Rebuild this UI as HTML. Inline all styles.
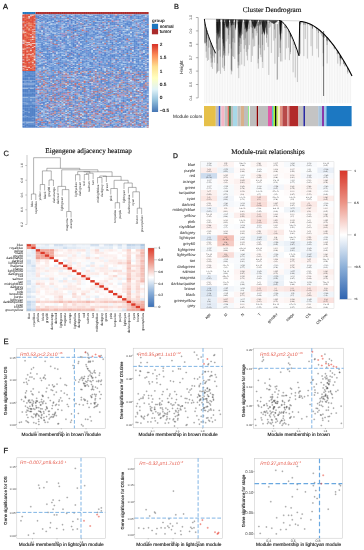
<!DOCTYPE html>
<html><head><meta charset="utf-8"><title>WGCNA figure</title>
<style>
html,body{margin:0;padding:0;background:#fff;width:364px;height:550px;overflow:hidden}
svg{display:block}
</style></head>
<body>
<svg width="364" height="550" viewBox="0 0 364 550" font-family="'Liberation Sans', Arial, sans-serif" text-rendering="geometricPrecision">
<defs><filter id="soft" x="0" y="0" width="364" height="550" filterUnits="userSpaceOnUse"><feGaussianBlur stdDeviation="0.3"/></filter></defs>
<g filter="url(#soft)">
<rect width="364" height="550" fill="#fff"/>
<text x="3.1" y="8.7" font-size="7.4" fill="#1a1a1a" stroke="#1a1a1a" stroke-width="0.35">A</text>
<text x="174.1" y="8.7" font-size="7.4" fill="#1a1a1a" stroke="#1a1a1a" stroke-width="0.2">B</text>
<text x="3.5" y="155.9" font-size="7.6" fill="#1a1a1a" stroke="#1a1a1a" stroke-width="0.2">C</text>
<text x="172.9" y="157.9" font-size="6.8" fill="#1a1a1a" stroke="#1a1a1a" stroke-width="0.25">D</text>
<text x="3.6" y="343.8" font-size="7.6" fill="#1a1a1a" stroke="#1a1a1a" stroke-width="0.25">E</text>
<text x="3.6" y="453.1" font-size="7.4" fill="#1a1a1a" stroke="#1a1a1a" stroke-width="0.35">F</text>
<defs><filter id="blA" x="-2%" y="-2%" width="104%" height="104%"><feGaussianBlur stdDeviation="0.5"/></filter></defs>
<g filter="url(#blA)"><rect x="22.6" y="14.5" width="126" height="113" fill="#6996d7"/><rect x="22.6" y="14.5" width="12.97" height="56.5" fill="#e14b37"/><g transform="translate(22.6 14.5) scale(1.8529 0.7533)" fill="none" stroke-width="1" shape-rendering="crispEdges">
<path stroke="#f5bea5" d="M0.5 0v1M0.5 10v1M0.5 15v1M0.5 17v1M0.5 20v1M0.5 22v3M0.5 46v1M0.5 49v1M0.5 53v2M0.5 57v1M0.5 59v1M0.5 69v1M0.5 71v1M1.5 14v1M1.5 19v1M1.5 24v1M1.5 37v1M1.5 39v1M1.5 41v1M1.5 56v1M1.5 70v1M1.5 73v1M2.5 17v1M2.5 43v1M2.5 55v1M2.5 70v1M2.5 72v2M3.5 3v2M3.5 14v1M3.5 18v1M3.5 59v1M3.5 65v1M3.5 68v1M4.5 14v1M4.5 17v1M4.5 33v1M4.5 38v2M4.5 49v1M4.5 52v1M4.5 71v1M5.5 0v2M5.5 15v1M5.5 22v1M5.5 25v1M5.5 32v1M5.5 36v1M5.5 40v1M5.5 55v1M5.5 60v1M5.5 68v1M5.5 73v1M6.5 0v1M6.5 5v1M6.5 28v1M6.5 30v1M6.5 54v2M6.5 58v1M6.5 65v2M6.5 68v1M6.5 73v1"/>
<path stroke="#e14b37" d="M0.5 1v2M0.5 4v5M0.5 12v3M0.5 16v1M0.5 18v2M0.5 26v7M0.5 35v1M0.5 39v5M0.5 47v1M0.5 50v1M0.5 55v2M0.5 58v1M0.5 61v2M0.5 65v3M0.5 70v1M0.5 74v1M1.5 0v4M1.5 5v1M1.5 7v3M1.5 11v2M1.5 16v3M1.5 20v3M1.5 25v2M1.5 30v2M1.5 33v2M1.5 38v1M1.5 40v1M1.5 42v2M1.5 46v10M1.5 57v7M1.5 66v2M1.5 69v1M1.5 71v2M1.5 74v1M2.5 1v2M2.5 4v1M2.5 6v3M2.5 10v1M2.5 13v3M2.5 20v3M2.5 24v1M2.5 26v3M2.5 32v5M2.5 38v1M2.5 41v2M2.5 45v3M2.5 49v1M2.5 51v2M2.5 54v1M2.5 56v1M2.5 59v1M2.5 61v9M2.5 71v1M2.5 74v1M3.5 0v2M3.5 6v4M3.5 15v1M3.5 17v1M3.5 19v1M3.5 22v3M3.5 27v3M3.5 31v2M3.5 34v3M3.5 40v3M3.5 45v3M3.5 49v2M3.5 53v4M3.5 58v1M3.5 61v2M3.5 64v1M3.5 66v2M3.5 69v1M3.5 71v4M4.5 3v4M4.5 8v3M4.5 16v1M4.5 18v1M4.5 20v1M4.5 22v4M4.5 28v2M4.5 31v2M4.5 36v2M4.5 41v4M4.5 48v1M4.5 50v2M4.5 54v1M4.5 57v5M4.5 64v3M4.5 68v3M4.5 72v3M5.5 2v10M5.5 13v1M5.5 16v4M5.5 21v1M5.5 26v1M5.5 28v1M5.5 31v1M5.5 34v2M5.5 37v1M5.5 39v1M5.5 41v2M5.5 44v7M5.5 54v1M5.5 56v2M5.5 59v1M5.5 64v1M5.5 67v1M5.5 69v1M5.5 72v1M5.5 74v1M6.5 2v1M6.5 4v1M6.5 6v2M6.5 10v1M6.5 12v3M6.5 18v1M6.5 20v2M6.5 27v1M6.5 31v1M6.5 34v2M6.5 37v1M6.5 39v3M6.5 43v4M6.5 51v1M6.5 53v1M6.5 57v1M6.5 61v4M6.5 70v3M6.5 74v1"/>
<path stroke="#f5f0eb" d="M0.5 3v1M0.5 34v1M0.5 36v1M0.5 38v1M0.5 45v1M0.5 52v1M0.5 63v1M0.5 68v1M1.5 23v1M1.5 27v1M1.5 35v1M1.5 45v1M1.5 68v1M2.5 37v1M2.5 40v1M2.5 48v1M2.5 53v1M2.5 57v1M2.5 60v1M3.5 2v1M3.5 11v1M3.5 20v1M3.5 37v1M3.5 39v1M3.5 52v1M3.5 70v1M4.5 1v1M4.5 26v1M4.5 40v1M4.5 47v1M4.5 53v1M5.5 20v1M5.5 29v2M5.5 33v1M5.5 38v1M5.5 43v1M5.5 51v1M5.5 53v1M5.5 63v1M6.5 11v1M6.5 16v1M6.5 19v1M6.5 22v1M6.5 38v1M6.5 42v1M6.5 56v1M6.5 59v2"/>
<path stroke="#c8a0b4" d="M0.5 9v1M0.5 21v1M0.5 37v1M0.5 60v1M0.5 72v1M1.5 13v1M1.5 15v1M2.5 12v1M2.5 39v1M2.5 44v1M3.5 5v1M3.5 43v1M3.5 63v1M4.5 0v1M4.5 2v1M4.5 30v1M4.5 35v1M4.5 45v1M5.5 23v1M5.5 27v1M5.5 65v1M5.5 70v1M6.5 9v1M6.5 26v1"/>
<path stroke="#eb7855" d="M0.5 11v1M0.5 25v1M0.5 33v1M0.5 44v1M0.5 48v1M0.5 51v1M0.5 64v1M0.5 73v1M1.5 4v1M1.5 6v1M1.5 10v1M1.5 28v2M1.5 32v1M1.5 36v1M1.5 44v1M1.5 64v2M2.5 0v1M2.5 3v1M2.5 5v1M2.5 9v1M2.5 11v1M2.5 16v1M2.5 18v2M2.5 23v1M2.5 25v1M2.5 29v3M2.5 50v1M2.5 58v1M3.5 10v1M3.5 12v2M3.5 16v1M3.5 21v1M3.5 25v2M3.5 30v1M3.5 33v1M3.5 38v1M3.5 44v1M3.5 48v1M3.5 51v1M3.5 57v1M3.5 60v1M4.5 7v1M4.5 11v3M4.5 15v1M4.5 19v1M4.5 21v1M4.5 27v1M4.5 34v1M4.5 46v1M4.5 55v2M4.5 62v2M4.5 67v1M5.5 12v1M5.5 14v1M5.5 24v1M5.5 52v1M5.5 58v1M5.5 61v2M5.5 66v1M5.5 71v1M6.5 1v1M6.5 3v1M6.5 8v1M6.5 15v1M6.5 17v1M6.5 23v3M6.5 29v1M6.5 32v2M6.5 36v1M6.5 47v4M6.5 52v1M6.5 67v1M6.5 69v1"/>
<path stroke="#4e7ec6" d="M0.5 75v2M0.5 80v1M0.5 82v1M0.5 84v3M0.5 88v3M0.5 93v1M0.5 95v2M0.5 99v4M0.5 105v4M0.5 115v1M0.5 118v1M0.5 120v3M0.5 124v2M0.5 128v2M0.5 131v4M0.5 137v5M0.5 145v2M0.5 148v2M1.5 75v3M1.5 80v3M1.5 84v3M1.5 88v1M1.5 94v3M1.5 99v4M1.5 105v4M1.5 115v1M1.5 120v3M1.5 124v4M1.5 129v5M1.5 137v5M1.5 146v4M2.5 76v1M2.5 78v1M2.5 80v3M2.5 84v3M2.5 88v2M2.5 94v3M2.5 99v5M2.5 105v4M2.5 115v1M2.5 120v3M2.5 124v4M2.5 129v6M2.5 136v6M2.5 145v3M2.5 149v1M3.5 75v2M3.5 78v5M3.5 84v1M3.5 86v1M3.5 89v1M3.5 94v3M3.5 98v3M3.5 102v1M3.5 105v4M3.5 114v3M3.5 120v3M3.5 124v1M3.5 126v3M3.5 130v5M3.5 137v5M3.5 146v4M4.5 75v2M4.5 78v1M4.5 80v3M4.5 84v3M4.5 89v1M4.5 94v2M4.5 99v4M4.5 105v4M4.5 115v2M4.5 118v1M4.5 120v2M4.5 124v12M4.5 137v5M4.5 146v4M5.5 75v2M5.5 78v1M5.5 81v2M5.5 84v3M5.5 88v2M5.5 94v3M5.5 99v4M5.5 104v4M5.5 115v1M5.5 119v4M5.5 124v11M5.5 137v2M5.5 140v2M5.5 146v4M6.5 75v2M6.5 78v1M6.5 80v3M6.5 85v2M6.5 88v2M6.5 93v4M6.5 98v5M6.5 105v4M6.5 115v1M6.5 120v3M6.5 125v10M6.5 137v5M6.5 143v1M6.5 146v4"/>
<path stroke="#6290d0" d="M0.5 77v3M0.5 83v1M0.5 94v1M0.5 103v2M0.5 109v1M0.5 111v4M0.5 117v1M0.5 119v1M0.5 123v1M0.5 126v1M0.5 136v1M0.5 144v1M1.5 78v2M1.5 83v1M1.5 90v1M1.5 103v2M1.5 109v1M1.5 111v4M1.5 117v1M1.5 119v1M1.5 123v1M1.5 135v2M1.5 143v3M2.5 75v1M2.5 77v1M2.5 79v1M2.5 83v1M2.5 90v1M2.5 92v1M2.5 104v1M2.5 109v1M2.5 111v4M2.5 116v2M2.5 119v1M2.5 123v1M2.5 128v1M2.5 148v1M3.5 77v1M3.5 88v1M3.5 90v1M3.5 103v2M3.5 109v5M3.5 117v3M3.5 123v1M3.5 125v1M3.5 135v2M3.5 144v2M4.5 77v1M4.5 79v1M4.5 83v1M4.5 90v1M4.5 96v1M4.5 103v2M4.5 109v1M4.5 111v2M4.5 114v1M4.5 117v1M4.5 119v1M4.5 123v1M4.5 136v1M4.5 144v2M5.5 77v1M5.5 79v2M5.5 83v1M5.5 90v1M5.5 103v1M5.5 108v2M5.5 111v4M5.5 117v1M5.5 123v1M5.5 136v1M5.5 139v1M5.5 144v2M6.5 77v1M6.5 79v1M6.5 83v2M6.5 90v1M6.5 103v2M6.5 109v1M6.5 111v4M6.5 117v1M6.5 119v1M6.5 123v2M6.5 135v2M6.5 144v2"/>
<path stroke="#84a6d8" d="M0.5 81v1M0.5 87v1M0.5 91v2M0.5 97v1M0.5 116v1M0.5 127v1M0.5 130v1M0.5 135v1M0.5 142v1M0.5 147v1M1.5 87v1M1.5 89v1M1.5 91v3M1.5 97v1M1.5 116v1M1.5 118v1M1.5 128v1M1.5 134v1M1.5 142v1M2.5 87v1M2.5 91v1M2.5 93v1M2.5 97v1M2.5 135v1M2.5 142v1M2.5 144v1M3.5 83v1M3.5 85v1M3.5 87v1M3.5 91v3M3.5 97v1M3.5 101v1M3.5 142v1M4.5 87v1M4.5 91v3M4.5 97v1M4.5 122v1M4.5 142v1M5.5 87v1M5.5 91v3M5.5 97v1M5.5 116v1M5.5 118v1M5.5 135v1M5.5 142v1M6.5 87v1M6.5 91v2M6.5 97v1M6.5 116v1M6.5 118v1M6.5 142v1"/>
<path stroke="#a8c0e0" d="M0.5 98v1M0.5 110v1M0.5 143v1M1.5 98v1M1.5 110v1M2.5 98v1M2.5 110v1M2.5 118v1M2.5 143v1M3.5 129v1M3.5 143v1M4.5 88v1M4.5 98v1M4.5 110v1M4.5 113v1M4.5 143v1M5.5 98v1M5.5 110v1M5.5 143v1M6.5 110v1"/>
<path stroke="#6996d7" d="M7.5 0v2M7.5 3v1M7.5 10v1M7.5 14v1M7.5 19v1M7.5 21v1M7.5 24v1M7.5 26v1M7.5 29v1M7.5 32v2M7.5 35v1M7.5 44v2M7.5 48v1M7.5 53v2M7.5 56v1M7.5 62v2M7.5 66v1M7.5 70v1M7.5 72v2M7.5 79v1M7.5 83v1M7.5 87v1M7.5 89v2M7.5 92v2M7.5 95v3M7.5 103v1M7.5 111v1M7.5 113v1M7.5 118v1M7.5 122v1M7.5 124v4M7.5 131v3M7.5 135v1M7.5 138v1M8.5 7v1M8.5 21v1M8.5 23v1M8.5 25v1M8.5 29v1M8.5 31v1M8.5 33v3M8.5 39v2M8.5 43v2M8.5 53v1M8.5 55v2M8.5 61v1M8.5 63v3M8.5 68v3M8.5 72v1M8.5 74v1M8.5 76v1M8.5 81v3M8.5 92v1M8.5 108v1M8.5 116v1M8.5 120v5M8.5 134v1M8.5 136v1M8.5 141v1M9.5 17v1M9.5 27v1M9.5 31v1M9.5 33v3M9.5 39v1M9.5 42v2M9.5 47v2M9.5 53v1M9.5 58v2M9.5 61v1M9.5 66v1M9.5 69v1M9.5 78v1M9.5 83v1M9.5 90v1M9.5 95v1M9.5 98v1M9.5 102v1M9.5 113v1M9.5 115v1M9.5 120v1M9.5 126v1M9.5 134v1M9.5 136v1M9.5 141v1M9.5 149v1M10.5 4v1M10.5 8v1M10.5 12v2M10.5 20v1M10.5 34v1M10.5 38v1M10.5 41v1M10.5 56v1M10.5 61v2M10.5 64v1M10.5 70v1M10.5 74v1M10.5 76v1M10.5 78v1M10.5 81v1M10.5 90v2M10.5 93v1M10.5 98v1M10.5 102v1M10.5 106v1M10.5 112v1M10.5 125v1M10.5 134v1M10.5 138v1M10.5 146v1M10.5 149v1M11.5 1v1M11.5 4v3M11.5 11v1M11.5 13v1M11.5 18v4M11.5 35v2M11.5 43v2M11.5 47v1M11.5 52v1M11.5 57v2M11.5 60v2M11.5 64v1M11.5 66v2M11.5 74v1M11.5 77v2M11.5 80v1M11.5 83v1M11.5 96v1M11.5 98v1M11.5 102v1M11.5 104v1M11.5 106v2M11.5 113v1M11.5 119v4M11.5 135v3M11.5 139v1M11.5 142v1M11.5 144v1M11.5 147v1M11.5 149v1M12.5 4v1M12.5 6v2M12.5 14v2M12.5 20v1M12.5 24v1M12.5 33v1M12.5 35v2M12.5 40v3M12.5 44v5M12.5 51v2M12.5 54v1M12.5 56v1M12.5 60v1M12.5 65v1M12.5 69v2M12.5 73v1M12.5 78v2M12.5 81v1M12.5 86v2M12.5 93v1M12.5 96v1M12.5 100v1M12.5 110v1M12.5 112v1M12.5 119v1M12.5 123v1M12.5 125v1M12.5 128v1M12.5 135v1M12.5 140v1M13.5 4v1M13.5 6v1M13.5 12v3M13.5 19v1M13.5 25v1M13.5 28v1M13.5 31v1M13.5 34v1M13.5 37v1M13.5 39v1M13.5 43v1M13.5 46v2M13.5 49v3M13.5 55v1M13.5 58v1M13.5 62v1M13.5 69v1M13.5 73v1M13.5 75v1M13.5 80v2M13.5 84v1M13.5 87v2M13.5 95v1M13.5 97v1M13.5 100v2M13.5 105v1M13.5 109v1M13.5 111v1M13.5 113v2M13.5 117v2M13.5 124v1M13.5 128v2M13.5 132v1M13.5 134v1M13.5 145v2M13.5 148v1M14.5 2v1M14.5 5v1M14.5 7v1M14.5 11v1M14.5 24v1M14.5 27v1M14.5 30v1M14.5 36v1M14.5 39v2M14.5 48v1M14.5 51v1M14.5 54v2M14.5 57v1M14.5 63v2M14.5 66v2M14.5 70v2M14.5 73v1M14.5 82v2M14.5 86v1M14.5 89v1M14.5 91v1M14.5 93v1M14.5 105v1M14.5 114v2M14.5 120v1M14.5 129v1M14.5 132v2M14.5 135v1M14.5 137v1M14.5 148v1M15.5 3v1M15.5 7v1M15.5 14v2M15.5 17v4M15.5 25v4M15.5 31v2M15.5 43v2M15.5 46v1M15.5 48v2M15.5 54v1M15.5 57v1M15.5 59v4M15.5 66v1M15.5 71v1M15.5 73v3M15.5 81v1M15.5 83v1M15.5 93v1M15.5 101v2M15.5 106v1M15.5 108v1M15.5 117v1M15.5 122v1M15.5 134v1M15.5 136v1M15.5 145v1M15.5 147v1M16.5 0v1M16.5 5v1M16.5 7v1M16.5 14v2M16.5 18v1M16.5 22v1M16.5 28v5M16.5 34v2M16.5 37v1M16.5 44v1M16.5 46v2M16.5 51v1M16.5 57v2M16.5 63v1M16.5 66v1M16.5 68v3M16.5 72v2M16.5 76v4M16.5 83v2M16.5 86v1M16.5 89v2M16.5 94v1M16.5 101v1M16.5 103v1M16.5 108v2M16.5 112v1M16.5 115v1M16.5 127v1M16.5 135v1M16.5 138v1M16.5 140v1M16.5 142v1M16.5 145v1M16.5 148v1M17.5 2v1M17.5 7v1M17.5 14v2M17.5 17v1M17.5 20v1M17.5 26v1M17.5 29v1M17.5 31v1M17.5 35v1M17.5 38v1M17.5 46v2M17.5 50v1M17.5 60v1M17.5 62v1M17.5 64v2M17.5 71v1M17.5 74v2M17.5 79v5M17.5 87v1M17.5 94v1M17.5 97v2M17.5 104v1M17.5 109v1M17.5 115v1M17.5 127v1M17.5 133v1M17.5 138v2M17.5 143v1M17.5 148v1M18.5 3v1M18.5 5v2M18.5 8v1M18.5 18v4M18.5 25v2M18.5 31v3M18.5 35v3M18.5 45v1M18.5 54v1M18.5 56v2M18.5 62v1M18.5 68v1M18.5 70v2M18.5 74v1M18.5 77v1M18.5 79v1M18.5 85v1M18.5 92v1M18.5 101v1M18.5 106v1M18.5 108v1M18.5 111v1M18.5 113v1M18.5 116v1M18.5 122v1M18.5 124v4M18.5 134v3M18.5 142v1M18.5 145v1M18.5 147v2M19.5 0v2M19.5 4v3M19.5 11v1M19.5 13v1M19.5 16v3M19.5 23v2M19.5 26v2M19.5 29v3M19.5 35v1M19.5 38v1M19.5 48v1M19.5 52v1M19.5 55v1M19.5 61v2M19.5 67v1M19.5 70v3M19.5 74v1M19.5 78v1M19.5 82v1M19.5 86v1M19.5 92v1M19.5 94v1M19.5 96v2M19.5 99v1M19.5 103v1M19.5 105v1M19.5 108v1M19.5 121v1M19.5 131v1M19.5 133v1M19.5 141v2M19.5 144v1M19.5 148v1M20.5 3v1M20.5 5v1M20.5 8v1M20.5 10v1M20.5 12v1M20.5 20v3M20.5 24v1M20.5 27v1M20.5 30v1M20.5 41v1M20.5 45v2M20.5 51v1M20.5 53v1M20.5 55v1M20.5 58v1M20.5 60v1M20.5 64v3M20.5 71v1M20.5 74v1M20.5 86v1M20.5 88v1M20.5 91v1M20.5 101v1M20.5 104v1M20.5 106v1M20.5 108v1M20.5 112v1M20.5 117v1M20.5 124v1M20.5 130v2M20.5 133v1M20.5 137v1M20.5 141v1M21.5 7v1M21.5 20v1M21.5 24v1M21.5 26v1M21.5 35v1M21.5 37v1M21.5 41v1M21.5 47v1M21.5 51v1M21.5 56v1M21.5 60v1M21.5 62v2M21.5 65v1M21.5 68v1M21.5 72v1M21.5 80v1M21.5 82v2M21.5 87v1M21.5 99v1M21.5 101v2M21.5 107v1M21.5 113v1M21.5 115v1M21.5 118v1M21.5 123v1M21.5 129v1M21.5 135v1M21.5 143v1M21.5 146v1M21.5 148v1M22.5 0v1M22.5 5v1M22.5 11v1M22.5 14v1M22.5 16v1M22.5 21v1M22.5 23v2M22.5 28v1M22.5 31v2M22.5 35v2M22.5 41v1M22.5 45v1M22.5 48v2M22.5 53v1M22.5 55v2M22.5 62v2M22.5 68v1M22.5 71v1M22.5 74v1M22.5 80v1M22.5 83v2M22.5 86v1M22.5 94v1M22.5 96v1M22.5 101v1M22.5 103v1M22.5 121v1M22.5 125v1M22.5 127v1M22.5 132v1M22.5 136v1M22.5 140v1M22.5 142v1M22.5 148v1M23.5 0v3M23.5 8v1M23.5 12v2M23.5 18v2M23.5 26v1M23.5 29v1M23.5 31v1M23.5 34v2M23.5 37v2M23.5 41v2M23.5 47v1M23.5 62v1M23.5 66v1M23.5 69v1M23.5 72v1M23.5 88v1M23.5 94v1M23.5 96v1M23.5 103v1M23.5 112v1M23.5 118v1M23.5 120v1M23.5 125v1M23.5 129v1M23.5 134v1M23.5 137v1M23.5 145v1M23.5 147v2M24.5 26v1M24.5 33v1M24.5 35v1M24.5 41v3M24.5 49v1M24.5 53v1M24.5 56v2M24.5 63v2M24.5 76v2M24.5 89v1M24.5 93v1M24.5 95v4M24.5 100v1M24.5 108v3M24.5 112v1M24.5 115v1M24.5 123v1M24.5 125v1M24.5 133v1M24.5 139v1M24.5 142v1M24.5 146v1M25.5 13v1M25.5 17v1M25.5 20v1M25.5 27v2M25.5 30v1M25.5 34v1M25.5 54v1M25.5 56v1M25.5 63v1M25.5 68v2M25.5 73v2M25.5 76v1M25.5 79v2M25.5 87v1M25.5 89v1M25.5 91v1M25.5 97v2M25.5 101v1M25.5 106v1M25.5 115v1M25.5 120v1M25.5 125v2M25.5 129v1M25.5 141v1M26.5 0v1M26.5 9v1M26.5 15v1M26.5 20v2M26.5 23v1M26.5 30v1M26.5 33v3M26.5 38v1M26.5 44v2M26.5 53v1M26.5 60v2M26.5 68v1M26.5 73v2M26.5 77v1M26.5 84v1M26.5 96v3M26.5 115v2M26.5 119v1M26.5 122v1M26.5 124v1M26.5 128v1M26.5 130v1M26.5 133v2M26.5 139v1M26.5 141v1M26.5 147v1M27.5 7v1M27.5 16v1M27.5 33v5M27.5 48v2M27.5 52v1M27.5 56v1M27.5 70v1M27.5 76v3M27.5 83v2M27.5 90v1M27.5 92v1M27.5 94v1M27.5 100v2M27.5 116v1M27.5 122v1M27.5 124v1M27.5 126v2M27.5 131v2M27.5 137v1M27.5 139v1M27.5 146v1M28.5 0v1M28.5 2v1M28.5 6v1M28.5 12v1M28.5 17v2M28.5 27v1M28.5 30v2M28.5 39v1M28.5 42v1M28.5 46v1M28.5 49v1M28.5 51v1M28.5 54v1M28.5 60v1M28.5 64v4M28.5 71v1M28.5 75v1M28.5 82v1M28.5 84v1M28.5 88v1M28.5 90v1M28.5 102v2M28.5 108v2M28.5 111v1M28.5 114v1M28.5 120v1M28.5 123v1M28.5 129v1M28.5 137v1M28.5 141v2M28.5 149v1M29.5 1v1M29.5 3v1M29.5 6v1M29.5 13v2M29.5 18v2M29.5 22v2M29.5 28v1M29.5 32v1M29.5 35v1M29.5 39v1M29.5 43v1M29.5 45v1M29.5 49v1M29.5 53v3M29.5 58v1M29.5 63v1M29.5 78v1M29.5 84v1M29.5 87v1M29.5 89v1M29.5 92v1M29.5 94v1M29.5 99v1M29.5 103v1M29.5 115v4M29.5 120v1M29.5 127v1M29.5 130v3M29.5 138v1M29.5 143v1M29.5 146v1M30.5 2v4M30.5 7v2M30.5 11v3M30.5 17v3M30.5 21v1M30.5 23v1M30.5 39v1M30.5 43v1M30.5 47v1M30.5 65v1M30.5 67v2M30.5 77v1M30.5 83v1M30.5 86v1M30.5 89v2M30.5 97v1M30.5 105v1M30.5 109v1M30.5 114v3M30.5 123v1M30.5 125v1M30.5 130v1M30.5 140v1M30.5 145v1M30.5 148v1M31.5 4v1M31.5 9v1M31.5 13v2M31.5 17v1M31.5 19v1M31.5 21v1M31.5 28v1M31.5 32v1M31.5 36v1M31.5 41v2M31.5 45v1M31.5 52v2M31.5 56v1M31.5 66v1M31.5 68v1M31.5 82v1M31.5 87v2M31.5 94v1M31.5 100v1M31.5 102v1M31.5 106v1M31.5 111v1M31.5 117v1M31.5 119v1M31.5 121v1M31.5 138v1M31.5 140v1M31.5 143v1M32.5 5v2M32.5 8v1M32.5 17v1M32.5 26v2M32.5 36v5M32.5 43v1M32.5 50v3M32.5 57v2M32.5 64v1M32.5 67v3M32.5 73v2M32.5 77v1M32.5 87v1M32.5 94v1M32.5 99v2M32.5 105v2M32.5 108v2M32.5 111v1M32.5 124v1M32.5 139v1M32.5 143v1M32.5 145v1M32.5 147v1M32.5 149v1M33.5 9v1M33.5 13v1M33.5 16v1M33.5 24v1M33.5 26v5M33.5 34v3M33.5 39v1M33.5 44v1M33.5 47v4M33.5 53v1M33.5 56v4M33.5 71v1M33.5 74v1M33.5 78v2M33.5 84v2M33.5 91v3M33.5 97v1M33.5 100v1M33.5 103v1M33.5 106v1M33.5 109v2M33.5 112v1M33.5 114v2M33.5 117v1M33.5 119v1M33.5 126v1M33.5 130v1M33.5 133v1M33.5 135v1M33.5 141v3M33.5 147v1M33.5 149v1M34.5 1v1M34.5 7v1M34.5 10v1M34.5 15v2M34.5 21v1M34.5 24v1M34.5 29v4M34.5 34v1M34.5 37v3M34.5 43v2M34.5 46v2M34.5 50v1M34.5 53v3M34.5 57v2M34.5 60v2M34.5 65v2M34.5 69v1M34.5 71v1M34.5 84v1M34.5 90v1M34.5 96v1M34.5 102v2M34.5 107v2M34.5 118v1M34.5 125v1M34.5 132v1M34.5 134v1M34.5 140v2M34.5 146v1M34.5 148v1M35.5 5v1M35.5 10v1M35.5 12v1M35.5 15v1M35.5 20v1M35.5 24v3M35.5 31v1M35.5 33v1M35.5 36v2M35.5 40v2M35.5 45v1M35.5 50v3M35.5 54v1M35.5 59v1M35.5 64v1M35.5 69v1M35.5 74v1M35.5 77v1M35.5 79v1M35.5 86v1M35.5 98v1M35.5 100v1M35.5 103v1M35.5 115v1M35.5 117v1M35.5 120v2M35.5 123v1M35.5 127v1M35.5 129v1M35.5 137v1M35.5 139v2M35.5 144v2M36.5 0v1M36.5 2v1M36.5 4v3M36.5 8v1M36.5 11v1M36.5 18v1M36.5 20v1M36.5 28v2M36.5 31v1M36.5 34v1M36.5 36v2M36.5 45v1M36.5 47v3M36.5 51v2M36.5 54v2M36.5 58v1M36.5 61v1M36.5 66v1M36.5 69v1M36.5 73v2M36.5 77v1M36.5 79v1M36.5 81v1M36.5 83v1M36.5 89v1M36.5 92v1M36.5 97v1M36.5 104v3M36.5 112v1M36.5 120v1M36.5 123v2M36.5 126v2M36.5 132v1M36.5 137v2M36.5 140v1M36.5 145v1M37.5 2v1M37.5 9v1M37.5 14v1M37.5 20v3M37.5 26v3M37.5 34v1M37.5 44v3M37.5 53v1M37.5 55v1M37.5 61v1M37.5 63v1M37.5 65v1M37.5 67v2M37.5 71v1M37.5 75v1M37.5 81v2M37.5 84v1M37.5 97v2M37.5 108v1M37.5 110v1M37.5 112v1M37.5 119v1M37.5 122v1M37.5 126v1M37.5 132v1M37.5 135v1M37.5 142v1M37.5 145v1M37.5 147v1M38.5 2v3M38.5 6v2M38.5 11v1M38.5 15v1M38.5 23v1M38.5 27v4M38.5 48v3M38.5 53v2M38.5 56v1M38.5 58v1M38.5 61v2M38.5 66v1M38.5 68v1M38.5 72v1M38.5 79v3M38.5 85v1M38.5 90v1M38.5 92v2M38.5 100v1M38.5 105v1M38.5 109v1M38.5 112v1M38.5 124v1M38.5 134v1M38.5 137v1M38.5 142v2M38.5 148v1M39.5 4v1M39.5 6v1M39.5 8v1M39.5 12v1M39.5 23v2M39.5 26v1M39.5 31v1M39.5 34v3M39.5 39v2M39.5 43v2M39.5 47v2M39.5 53v1M39.5 56v1M39.5 58v2M39.5 62v1M39.5 68v5M39.5 82v1M39.5 87v1M39.5 92v1M39.5 98v3M39.5 105v1M39.5 110v1M39.5 112v3M39.5 119v3M39.5 123v1M39.5 129v1M39.5 132v1M39.5 134v1M39.5 141v1M39.5 144v1M39.5 148v1M40.5 0v1M40.5 5v1M40.5 10v1M40.5 12v1M40.5 16v2M40.5 21v1M40.5 24v1M40.5 28v1M40.5 32v1M40.5 35v1M40.5 37v1M40.5 39v1M40.5 42v1M40.5 47v2M40.5 50v1M40.5 53v1M40.5 55v1M40.5 59v1M40.5 65v1M40.5 69v1M40.5 73v2M40.5 76v1M40.5 85v1M40.5 87v1M40.5 90v1M40.5 94v1M40.5 98v2M40.5 101v1M40.5 105v1M40.5 108v1M40.5 111v1M40.5 114v1M40.5 116v2M40.5 121v1M40.5 126v1M40.5 135v1M40.5 138v1M40.5 143v1M40.5 148v1M41.5 1v1M41.5 10v1M41.5 12v2M41.5 15v1M41.5 19v1M41.5 31v1M41.5 33v1M41.5 37v1M41.5 39v1M41.5 41v2M41.5 44v1M41.5 48v1M41.5 58v1M41.5 75v1M41.5 78v1M41.5 94v4M41.5 106v2M41.5 109v1M41.5 117v1M41.5 124v1M41.5 145v3M41.5 149v1M42.5 0v3M42.5 7v2M42.5 10v1M42.5 15v3M42.5 25v2M42.5 35v1M42.5 42v1M42.5 48v1M42.5 54v4M42.5 61v1M42.5 64v1M42.5 67v1M42.5 70v1M42.5 73v1M42.5 75v1M42.5 79v1M42.5 81v1M42.5 84v2M42.5 91v2M42.5 94v1M42.5 96v1M42.5 99v1M42.5 101v1M42.5 105v2M42.5 109v1M42.5 115v1M42.5 120v1M42.5 122v1M42.5 126v5M42.5 139v1M42.5 143v2M42.5 147v1M43.5 4v1M43.5 6v1M43.5 13v1M43.5 19v1M43.5 21v1M43.5 27v1M43.5 33v3M43.5 38v1M43.5 42v1M43.5 47v1M43.5 53v1M43.5 56v1M43.5 59v1M43.5 61v4M43.5 67v1M43.5 72v1M43.5 74v1M43.5 76v1M43.5 79v2M43.5 87v1M43.5 91v2M43.5 97v2M43.5 102v1M43.5 104v1M43.5 108v2M43.5 112v1M43.5 121v1M43.5 134v1M43.5 143v1M43.5 145v1M43.5 149v1M44.5 1v1M44.5 3v1M44.5 6v2M44.5 9v1M44.5 14v1M44.5 17v1M44.5 20v1M44.5 26v2M44.5 29v1M44.5 33v3M44.5 37v1M44.5 44v1M44.5 46v1M44.5 55v2M44.5 58v1M44.5 60v1M44.5 64v3M44.5 68v1M44.5 77v1M44.5 82v2M44.5 87v1M44.5 89v2M44.5 101v1M44.5 105v1M44.5 108v1M44.5 110v1M44.5 115v1M44.5 118v1M44.5 120v2M44.5 123v1M44.5 130v1M44.5 135v1M44.5 140v1M44.5 146v1M45.5 2v2M45.5 6v1M45.5 8v1M45.5 10v1M45.5 23v1M45.5 25v1M45.5 34v1M45.5 36v3M45.5 40v1M45.5 42v1M45.5 47v1M45.5 52v1M45.5 56v2M45.5 60v1M45.5 62v2M45.5 66v2M45.5 74v1M45.5 76v1M45.5 80v1M45.5 83v1M45.5 92v1M45.5 98v1M45.5 100v1M45.5 103v1M45.5 106v2M45.5 111v1M45.5 116v1M45.5 118v2M45.5 130v2M45.5 135v2M45.5 142v1M46.5 3v1M46.5 7v1M46.5 10v1M46.5 21v2M46.5 25v1M46.5 28v1M46.5 30v1M46.5 32v2M46.5 37v1M46.5 40v3M46.5 45v1M46.5 56v2M46.5 65v1M46.5 67v3M46.5 71v1M46.5 75v1M46.5 81v1M46.5 87v2M46.5 91v6M46.5 102v1M46.5 104v1M46.5 112v1M46.5 117v1M46.5 126v1M46.5 131v1M46.5 133v1M46.5 136v2M46.5 142v1M47.5 4v1M47.5 10v1M47.5 13v1M47.5 19v2M47.5 22v3M47.5 28v1M47.5 35v2M47.5 41v2M47.5 50v1M47.5 52v2M47.5 55v3M47.5 59v1M47.5 62v5M47.5 69v1M47.5 71v3M47.5 80v3M47.5 84v1M47.5 90v1M47.5 97v1M47.5 99v1M47.5 101v2M47.5 104v2M47.5 112v1M47.5 118v1M47.5 123v1M47.5 135v1M47.5 146v1M48.5 0v2M48.5 4v2M48.5 11v2M48.5 17v1M48.5 20v1M48.5 22v2M48.5 32v1M48.5 40v1M48.5 42v1M48.5 45v2M48.5 48v3M48.5 64v1M48.5 76v2M48.5 90v1M48.5 94v1M48.5 97v1M48.5 100v1M48.5 103v2M48.5 110v1M48.5 115v1M48.5 120v2M48.5 124v1M48.5 127v2M48.5 132v1M48.5 138v2M48.5 142v1M48.5 148v1M49.5 1v1M49.5 3v1M49.5 5v4M49.5 10v1M49.5 12v1M49.5 15v2M49.5 24v1M49.5 26v1M49.5 32v1M49.5 40v1M49.5 42v1M49.5 48v1M49.5 53v1M49.5 55v1M49.5 57v1M49.5 65v1M49.5 67v1M49.5 72v1M49.5 74v2M49.5 79v2M49.5 82v1M49.5 87v1M49.5 89v1M49.5 91v1M49.5 105v1M49.5 111v1M49.5 114v1M49.5 121v1M49.5 126v1M49.5 131v3M49.5 141v1M49.5 145v2M49.5 148v1M50.5 3v1M50.5 5v1M50.5 7v1M50.5 10v1M50.5 19v2M50.5 22v1M50.5 25v1M50.5 33v2M50.5 39v1M50.5 48v1M50.5 54v2M50.5 58v1M50.5 62v1M50.5 65v2M50.5 68v1M50.5 70v2M50.5 74v1M50.5 80v1M50.5 88v2M50.5 91v3M50.5 95v1M50.5 100v1M50.5 104v1M50.5 106v3M50.5 110v1M50.5 112v1M50.5 114v2M50.5 119v1M50.5 126v1M50.5 128v2M50.5 134v1M50.5 137v1M50.5 140v1M50.5 142v1M50.5 144v1M50.5 149v1M51.5 0v2M51.5 6v1M51.5 18v2M51.5 21v1M51.5 25v1M51.5 27v2M51.5 33v2M51.5 36v2M51.5 41v1M51.5 48v1M51.5 50v1M51.5 52v4M51.5 58v3M51.5 64v1M51.5 66v1M51.5 71v1M51.5 88v1M51.5 98v1M51.5 100v1M51.5 105v1M51.5 109v1M51.5 114v2M51.5 127v1M51.5 131v1M51.5 138v1M51.5 145v1M52.5 4v1M52.5 7v2M52.5 10v2M52.5 13v2M52.5 16v1M52.5 18v1M52.5 20v1M52.5 23v2M52.5 31v1M52.5 34v1M52.5 36v1M52.5 38v1M52.5 42v1M52.5 45v2M52.5 56v3M52.5 60v1M52.5 65v3M52.5 72v1M52.5 75v1M52.5 86v1M52.5 89v1M52.5 100v2M52.5 104v1M52.5 112v1M52.5 114v1M52.5 118v1M52.5 124v1M52.5 130v1M52.5 132v1M52.5 134v1M52.5 136v1M52.5 139v1M52.5 148v1M53.5 4v1M53.5 13v1M53.5 18v1M53.5 21v3M53.5 30v2M53.5 34v1M53.5 37v1M53.5 47v2M53.5 50v1M53.5 62v2M53.5 69v1M53.5 71v1M53.5 73v1M53.5 75v1M53.5 79v1M53.5 85v1M53.5 89v1M53.5 91v1M53.5 93v3M53.5 111v1M53.5 113v2M53.5 118v2M53.5 125v1M53.5 130v1M53.5 132v1M53.5 135v1M53.5 140v1M54.5 0v1M54.5 15v1M54.5 24v1M54.5 26v1M54.5 28v1M54.5 30v1M54.5 33v1M54.5 37v1M54.5 39v3M54.5 44v1M54.5 49v4M54.5 55v1M54.5 61v1M54.5 64v1M54.5 67v3M54.5 75v1M54.5 78v1M54.5 83v2M54.5 86v1M54.5 91v2M54.5 99v2M54.5 110v1M54.5 118v1M54.5 122v1M54.5 128v1M54.5 135v1M54.5 143v1M55.5 4v2M55.5 9v1M55.5 11v1M55.5 13v4M55.5 18v1M55.5 21v1M55.5 24v1M55.5 27v1M55.5 32v1M55.5 34v2M55.5 39v1M55.5 51v1M55.5 59v1M55.5 61v1M55.5 65v1M55.5 70v1M55.5 74v1M55.5 79v1M55.5 82v1M55.5 87v1M55.5 93v1M55.5 96v1M55.5 106v1M55.5 110v2M55.5 113v1M55.5 116v1M55.5 118v1M55.5 123v1M55.5 130v1M55.5 140v1M56.5 2v1M56.5 8v3M56.5 16v1M56.5 18v1M56.5 22v1M56.5 24v2M56.5 29v3M56.5 34v1M56.5 37v2M56.5 41v1M56.5 46v1M56.5 48v1M56.5 52v1M56.5 54v1M56.5 64v2M56.5 67v3M56.5 71v1M56.5 79v1M56.5 82v1M56.5 85v1M56.5 97v1M56.5 99v1M56.5 102v2M56.5 114v1M56.5 118v1M56.5 126v1M56.5 133v1M56.5 140v1M56.5 148v1M57.5 12v1M57.5 14v1M57.5 21v4M57.5 27v1M57.5 33v1M57.5 36v1M57.5 41v1M57.5 43v4M57.5 51v1M57.5 56v2M57.5 59v1M57.5 66v2M57.5 75v1M57.5 80v1M57.5 87v1M57.5 90v1M57.5 93v1M57.5 97v3M57.5 105v1M57.5 107v1M57.5 112v1M57.5 114v2M57.5 119v1M57.5 130v1M57.5 132v1M57.5 136v2M57.5 139v2M57.5 144v1M57.5 146v2M57.5 149v1M58.5 5v2M58.5 12v1M58.5 14v2M58.5 19v1M58.5 35v1M58.5 40v2M58.5 44v1M58.5 47v3M58.5 52v1M58.5 54v2M58.5 63v2M58.5 66v2M58.5 70v1M58.5 73v1M58.5 89v1M58.5 91v1M58.5 93v1M58.5 97v3M58.5 111v1M58.5 119v1M58.5 121v1M58.5 128v1M58.5 132v1M58.5 134v1M58.5 139v1M58.5 146v1M58.5 148v1M59.5 1v5M59.5 10v1M59.5 12v1M59.5 15v2M59.5 21v1M59.5 25v2M59.5 28v2M59.5 32v1M59.5 35v1M59.5 38v1M59.5 41v1M59.5 46v1M59.5 52v2M59.5 57v1M59.5 62v1M59.5 65v2M59.5 68v1M59.5 72v1M59.5 81v1M59.5 84v1M59.5 93v1M59.5 95v2M59.5 99v3M59.5 103v1M59.5 107v1M59.5 115v4M59.5 122v2M59.5 128v1M59.5 131v1M59.5 139v2M59.5 146v1M60.5 3v1M60.5 5v1M60.5 8v2M60.5 11v1M60.5 16v2M60.5 21v1M60.5 24v1M60.5 30v1M60.5 37v3M60.5 41v1M60.5 46v1M60.5 48v1M60.5 52v1M60.5 58v1M60.5 65v2M60.5 68v1M60.5 74v2M60.5 78v1M60.5 80v2M60.5 83v1M60.5 85v1M60.5 91v1M60.5 93v1M60.5 98v1M60.5 111v1M60.5 114v1M60.5 116v1M60.5 120v1M60.5 135v1M60.5 137v1M60.5 141v1M61.5 4v2M61.5 9v2M61.5 28v1M61.5 33v1M61.5 35v1M61.5 37v1M61.5 39v1M61.5 49v1M61.5 52v1M61.5 56v1M61.5 59v3M61.5 65v3M61.5 73v1M61.5 75v1M61.5 90v1M61.5 94v2M61.5 103v1M61.5 113v1M61.5 116v1M61.5 123v1M61.5 126v1M61.5 128v1M61.5 134v2M61.5 138v1M61.5 144v1M61.5 148v1M62.5 0v1M62.5 3v1M62.5 9v1M62.5 15v1M62.5 19v2M62.5 26v3M62.5 30v1M62.5 38v1M62.5 41v1M62.5 45v1M62.5 49v2M62.5 52v3M62.5 56v1M62.5 58v1M62.5 60v2M62.5 63v3M62.5 71v3M62.5 76v1M62.5 82v2M62.5 88v1M62.5 95v1M62.5 97v1M62.5 99v1M62.5 103v1M62.5 106v1M62.5 109v1M62.5 111v1M62.5 113v1M62.5 119v1M62.5 125v2M62.5 128v1M62.5 135v3M62.5 143v3M63.5 0v1M63.5 2v2M63.5 9v1M63.5 12v5M63.5 20v3M63.5 24v1M63.5 27v1M63.5 30v1M63.5 32v3M63.5 38v1M63.5 44v1M63.5 46v2M63.5 53v1M63.5 57v2M63.5 63v1M63.5 66v1M63.5 69v1M63.5 72v1M63.5 77v1M63.5 83v1M63.5 86v1M63.5 91v1M63.5 93v1M63.5 97v1M63.5 106v1M63.5 109v1M63.5 117v1M63.5 123v1M63.5 136v1M63.5 139v1M63.5 141v1M63.5 146v1M64.5 2v1M64.5 12v1M64.5 17v2M64.5 23v2M64.5 26v1M64.5 32v1M64.5 34v3M64.5 41v1M64.5 46v2M64.5 54v1M64.5 56v1M64.5 61v1M64.5 63v1M64.5 65v1M64.5 67v1M64.5 71v1M64.5 74v2M64.5 77v2M64.5 80v1M64.5 83v1M64.5 85v1M64.5 91v1M64.5 93v2M64.5 108v3M64.5 120v1M64.5 128v1M64.5 130v1M64.5 132v1M64.5 138v2M64.5 144v1M64.5 146v1M64.5 149v1M65.5 8v1M65.5 14v1M65.5 21v1M65.5 24v1M65.5 27v1M65.5 33v1M65.5 36v1M65.5 40v2M65.5 43v2M65.5 46v1M65.5 55v2M65.5 60v1M65.5 66v2M65.5 71v3M65.5 77v1M65.5 81v1M65.5 89v2M65.5 92v1M65.5 94v1M65.5 99v1M65.5 101v2M65.5 107v1M65.5 112v1M65.5 115v1M65.5 119v2M65.5 123v1M65.5 125v1M65.5 128v1M65.5 133v1M65.5 147v1M66.5 3v1M66.5 5v1M66.5 7v2M66.5 15v1M66.5 17v1M66.5 29v4M66.5 34v1M66.5 36v2M66.5 40v1M66.5 44v1M66.5 47v2M66.5 56v1M66.5 58v1M66.5 67v1M66.5 74v1M66.5 78v2M66.5 81v1M66.5 83v1M66.5 87v1M66.5 93v1M66.5 95v2M66.5 100v1M66.5 103v1M66.5 106v1M66.5 109v1M66.5 125v1M66.5 127v1M66.5 130v2M66.5 134v1M66.5 136v1M66.5 142v1M66.5 147v1M67.5 2v1M67.5 4v1M67.5 7v1M67.5 9v4M67.5 14v4M67.5 19v3M67.5 25v1M67.5 27v2M67.5 31v1M67.5 33v1M67.5 37v1M67.5 40v1M67.5 48v2M67.5 53v1M67.5 64v1M67.5 70v1M67.5 73v2M67.5 78v2M67.5 81v1M67.5 91v1M67.5 96v1M67.5 98v4M67.5 108v1M67.5 112v1M67.5 120v2M67.5 125v1M67.5 127v1M67.5 130v1M67.5 132v1M67.5 138v2M67.5 144v1"/>
<path stroke="#5582cd" d="M7.5 2v1M7.5 4v1M7.5 7v1M7.5 9v1M7.5 15v1M7.5 17v2M7.5 20v1M7.5 27v1M7.5 36v1M7.5 47v1M7.5 52v1M7.5 59v1M7.5 65v1M7.5 67v1M7.5 71v1M7.5 81v1M7.5 85v1M7.5 88v1M7.5 91v1M7.5 101v1M7.5 104v2M7.5 120v1M7.5 128v2M7.5 141v1M7.5 145v1M7.5 148v2M8.5 2v4M8.5 8v1M8.5 11v1M8.5 19v1M8.5 26v3M8.5 30v1M8.5 32v1M8.5 37v1M8.5 46v1M8.5 49v1M8.5 58v1M8.5 67v1M8.5 87v1M8.5 91v1M8.5 93v2M8.5 106v1M8.5 110v3M8.5 127v1M8.5 129v2M8.5 135v1M8.5 142v1M8.5 144v4M8.5 149v1M9.5 1v1M9.5 3v2M9.5 6v1M9.5 8v2M9.5 14v1M9.5 19v1M9.5 22v2M9.5 26v1M9.5 29v1M9.5 32v1M9.5 37v1M9.5 49v1M9.5 67v2M9.5 73v1M9.5 84v1M9.5 87v1M9.5 94v1M9.5 99v1M9.5 109v3M9.5 117v2M9.5 121v1M9.5 124v1M9.5 128v2M9.5 142v5M10.5 2v1M10.5 5v1M10.5 7v1M10.5 14v1M10.5 17v3M10.5 24v1M10.5 29v2M10.5 37v1M10.5 39v2M10.5 42v3M10.5 46v1M10.5 48v2M10.5 51v1M10.5 55v1M10.5 57v1M10.5 66v3M10.5 71v1M10.5 73v1M10.5 75v1M10.5 79v1M10.5 83v1M10.5 85v1M10.5 88v1M10.5 92v1M10.5 97v1M10.5 100v1M10.5 104v1M10.5 107v2M10.5 111v1M10.5 114v1M10.5 116v2M10.5 120v3M10.5 126v1M10.5 131v2M10.5 136v1M10.5 142v1M10.5 147v1M11.5 0v1M11.5 3v1M11.5 7v1M11.5 15v1M11.5 22v1M11.5 24v4M11.5 29v2M11.5 32v2M11.5 38v1M11.5 41v2M11.5 45v2M11.5 48v1M11.5 51v1M11.5 54v1M11.5 65v1M11.5 73v1M11.5 82v1M11.5 85v2M11.5 94v1M11.5 109v1M11.5 116v3M11.5 123v1M11.5 129v1M11.5 141v1M12.5 1v2M12.5 5v1M12.5 9v2M12.5 13v1M12.5 28v1M12.5 30v1M12.5 53v1M12.5 55v1M12.5 58v1M12.5 64v1M12.5 67v2M12.5 85v1M12.5 99v1M12.5 104v1M12.5 111v1M12.5 115v2M12.5 122v1M12.5 127v1M12.5 132v1M12.5 141v2M12.5 144v3M13.5 1v2M13.5 7v3M13.5 15v1M13.5 21v2M13.5 33v1M13.5 36v1M13.5 41v2M13.5 44v1M13.5 48v1M13.5 52v2M13.5 56v2M13.5 59v2M13.5 63v1M13.5 65v2M13.5 68v1M13.5 72v1M13.5 77v1M13.5 82v1M13.5 90v1M13.5 92v1M13.5 102v2M13.5 107v1M13.5 112v1M13.5 115v1M13.5 123v1M13.5 125v1M13.5 136v2M13.5 141v4M13.5 147v1M14.5 0v1M14.5 4v1M14.5 8v1M14.5 12v1M14.5 15v3M14.5 19v1M14.5 22v1M14.5 28v1M14.5 37v1M14.5 42v1M14.5 44v1M14.5 47v1M14.5 52v2M14.5 56v1M14.5 58v1M14.5 61v2M14.5 69v1M14.5 75v1M14.5 81v1M14.5 84v2M14.5 87v1M14.5 90v1M14.5 94v3M14.5 99v1M14.5 103v1M14.5 106v1M14.5 108v1M14.5 116v2M14.5 121v1M14.5 125v1M14.5 130v1M14.5 138v1M14.5 147v1M15.5 0v1M15.5 2v1M15.5 5v2M15.5 8v1M15.5 10v1M15.5 24v1M15.5 29v2M15.5 40v1M15.5 51v2M15.5 55v1M15.5 63v2M15.5 67v1M15.5 69v2M15.5 72v1M15.5 77v1M15.5 80v1M15.5 82v1M15.5 88v1M15.5 91v1M15.5 94v1M15.5 98v1M15.5 100v1M15.5 103v1M15.5 105v1M15.5 115v1M15.5 121v1M15.5 126v1M15.5 128v1M15.5 131v1M15.5 135v1M15.5 139v3M15.5 143v1M15.5 148v1M16.5 4v1M16.5 6v1M16.5 10v2M16.5 16v1M16.5 21v1M16.5 23v1M16.5 26v2M16.5 33v1M16.5 36v1M16.5 39v2M16.5 42v2M16.5 45v1M16.5 50v1M16.5 71v1M16.5 80v2M16.5 87v2M16.5 97v2M16.5 105v1M16.5 110v2M16.5 114v1M16.5 116v1M16.5 120v1M16.5 124v1M16.5 128v2M16.5 134v1M16.5 141v1M16.5 143v1M17.5 0v1M17.5 4v1M17.5 8v3M17.5 12v1M17.5 22v1M17.5 30v1M17.5 33v2M17.5 40v1M17.5 42v4M17.5 48v1M17.5 51v2M17.5 55v2M17.5 58v1M17.5 67v1M17.5 69v1M17.5 73v1M17.5 84v1M17.5 89v1M17.5 91v1M17.5 101v1M17.5 107v1M17.5 112v1M17.5 116v2M17.5 119v1M17.5 121v1M17.5 123v2M17.5 126v1M17.5 132v1M17.5 136v1M17.5 140v2M17.5 145v1M17.5 147v1M17.5 149v1M18.5 1v1M18.5 4v1M18.5 9v1M18.5 13v5M18.5 22v1M18.5 38v1M18.5 40v1M18.5 43v1M18.5 46v3M18.5 52v1M18.5 59v1M18.5 65v1M18.5 86v1M18.5 93v1M18.5 100v1M18.5 104v2M18.5 107v1M18.5 112v1M18.5 120v1M18.5 128v2M18.5 131v2M18.5 138v1M18.5 141v1M18.5 146v1M19.5 8v1M19.5 14v1M19.5 21v1M19.5 36v1M19.5 41v3M19.5 45v2M19.5 49v1M19.5 53v1M19.5 60v1M19.5 63v1M19.5 65v2M19.5 68v1M19.5 73v1M19.5 79v2M19.5 88v1M19.5 91v1M19.5 107v1M19.5 110v1M19.5 112v1M19.5 114v1M19.5 122v1M19.5 124v1M19.5 126v3M19.5 136v2M19.5 139v1M19.5 146v1M20.5 0v1M20.5 4v1M20.5 7v1M20.5 9v1M20.5 14v1M20.5 16v1M20.5 26v1M20.5 31v3M20.5 36v1M20.5 38v1M20.5 44v1M20.5 47v1M20.5 49v1M20.5 52v1M20.5 54v1M20.5 59v1M20.5 61v1M20.5 63v1M20.5 68v2M20.5 75v2M20.5 78v1M20.5 81v1M20.5 83v1M20.5 87v1M20.5 89v2M20.5 95v1M20.5 103v1M20.5 105v1M20.5 110v1M20.5 116v1M20.5 120v1M20.5 128v1M20.5 132v1M20.5 136v1M20.5 138v3M21.5 1v1M21.5 5v1M21.5 8v1M21.5 12v1M21.5 28v1M21.5 31v1M21.5 33v2M21.5 36v1M21.5 48v1M21.5 55v1M21.5 57v2M21.5 64v1M21.5 69v2M21.5 75v1M21.5 77v1M21.5 79v1M21.5 92v1M21.5 94v1M21.5 96v2M21.5 103v1M21.5 111v1M21.5 125v1M21.5 134v1M21.5 136v1M21.5 139v1M21.5 142v1M22.5 9v2M22.5 15v1M22.5 18v1M22.5 20v1M22.5 22v1M22.5 27v1M22.5 30v1M22.5 33v2M22.5 38v2M22.5 46v1M22.5 52v1M22.5 58v1M22.5 60v1M22.5 65v3M22.5 73v1M22.5 87v1M22.5 93v1M22.5 95v1M22.5 107v1M22.5 117v1M22.5 122v1M22.5 126v1M22.5 128v1M22.5 134v1M22.5 137v1M22.5 139v1M22.5 141v1M22.5 145v1M22.5 147v1M23.5 3v1M23.5 5v1M23.5 9v1M23.5 11v1M23.5 14v1M23.5 21v1M23.5 28v1M23.5 30v1M23.5 36v1M23.5 39v1M23.5 43v1M23.5 45v2M23.5 55v3M23.5 61v1M23.5 63v1M23.5 67v2M23.5 73v3M23.5 83v2M23.5 87v1M23.5 89v1M23.5 99v3M23.5 104v1M23.5 108v1M23.5 111v1M23.5 117v1M23.5 121v1M23.5 123v2M23.5 130v1M23.5 132v1M23.5 141v1M23.5 144v1M24.5 3v2M24.5 7v3M24.5 11v1M24.5 16v3M24.5 20v1M24.5 23v1M24.5 25v1M24.5 27v1M24.5 31v1M24.5 39v2M24.5 44v1M24.5 46v1M24.5 50v1M24.5 52v1M24.5 54v1M24.5 58v1M24.5 62v1M24.5 66v1M24.5 70v3M24.5 86v1M24.5 91v1M24.5 99v1M24.5 111v1M24.5 121v1M24.5 128v1M24.5 137v2M24.5 141v1M24.5 145v1M25.5 1v3M25.5 5v2M25.5 14v3M25.5 18v2M25.5 23v1M25.5 25v2M25.5 32v1M25.5 36v1M25.5 38v1M25.5 42v3M25.5 46v1M25.5 50v3M25.5 57v3M25.5 61v1M25.5 65v1M25.5 67v1M25.5 70v2M25.5 77v2M25.5 84v1M25.5 88v1M25.5 90v1M25.5 93v2M25.5 96v1M25.5 99v2M25.5 105v1M25.5 112v1M25.5 116v1M25.5 118v2M25.5 124v1M25.5 127v1M25.5 130v1M25.5 133v2M25.5 137v1M25.5 145v1M26.5 2v2M26.5 6v3M26.5 10v2M26.5 17v1M26.5 19v1M26.5 26v1M26.5 28v1M26.5 31v1M26.5 37v1M26.5 39v1M26.5 41v1M26.5 43v1M26.5 47v3M26.5 51v2M26.5 56v3M26.5 66v1M26.5 69v1M26.5 71v2M26.5 83v1M26.5 90v2M26.5 94v1M26.5 101v1M26.5 107v1M26.5 112v1M26.5 118v1M26.5 127v1M26.5 129v1M26.5 131v2M26.5 135v1M26.5 142v1M26.5 144v1M26.5 146v1M27.5 5v1M27.5 8v1M27.5 14v2M27.5 18v4M27.5 23v3M27.5 28v2M27.5 32v1M27.5 38v5M27.5 45v1M27.5 50v1M27.5 53v2M27.5 58v1M27.5 61v1M27.5 63v1M27.5 67v2M27.5 71v2M27.5 74v1M27.5 81v1M27.5 89v1M27.5 93v1M27.5 103v1M27.5 105v2M27.5 108v1M27.5 112v2M27.5 120v2M27.5 136v1M27.5 140v1M27.5 143v1M27.5 147v1M28.5 1v1M28.5 3v1M28.5 5v1M28.5 8v4M28.5 14v2M28.5 19v2M28.5 22v2M28.5 34v2M28.5 37v1M28.5 40v2M28.5 44v1M28.5 47v1M28.5 50v1M28.5 55v1M28.5 63v1M28.5 68v2M28.5 86v1M28.5 94v1M28.5 99v1M28.5 107v1M28.5 110v1M28.5 112v1M28.5 115v2M28.5 118v1M28.5 132v1M28.5 140v1M28.5 145v1M28.5 147v1M29.5 2v1M29.5 7v1M29.5 10v1M29.5 17v1M29.5 21v1M29.5 25v1M29.5 30v1M29.5 37v2M29.5 46v1M29.5 51v2M29.5 56v2M29.5 61v2M29.5 64v1M29.5 67v1M29.5 73v1M29.5 76v1M29.5 79v2M29.5 83v1M29.5 90v2M29.5 95v4M29.5 101v1M29.5 108v1M29.5 110v3M29.5 121v1M29.5 124v1M29.5 137v1M29.5 147v2M30.5 1v1M30.5 16v1M30.5 22v1M30.5 25v1M30.5 27v3M30.5 31v4M30.5 41v1M30.5 44v1M30.5 48v1M30.5 53v4M30.5 59v3M30.5 69v2M30.5 74v3M30.5 79v1M30.5 82v1M30.5 95v2M30.5 99v1M30.5 103v1M30.5 127v1M30.5 132v1M30.5 135v1M30.5 142v1M30.5 144v1M30.5 146v1M31.5 0v1M31.5 3v1M31.5 6v1M31.5 8v1M31.5 22v1M31.5 24v1M31.5 26v1M31.5 30v1M31.5 33v1M31.5 35v1M31.5 37v1M31.5 40v1M31.5 47v2M31.5 50v2M31.5 54v1M31.5 58v1M31.5 60v1M31.5 69v1M31.5 74v1M31.5 79v1M31.5 83v2M31.5 92v1M31.5 97v1M31.5 103v3M31.5 123v2M31.5 126v1M31.5 128v1M31.5 136v2M31.5 142v1M31.5 147v3M32.5 1v1M32.5 3v1M32.5 10v1M32.5 13v1M32.5 15v2M32.5 24v1M32.5 29v4M32.5 35v1M32.5 41v2M32.5 44v1M32.5 46v1M32.5 48v2M32.5 54v1M32.5 61v3M32.5 65v1M32.5 71v2M32.5 78v3M32.5 83v1M32.5 85v1M32.5 88v1M32.5 92v1M32.5 96v1M32.5 98v1M32.5 101v2M32.5 112v2M32.5 117v1M32.5 120v1M32.5 128v1M32.5 130v1M32.5 135v1M32.5 138v1M32.5 140v1M33.5 0v2M33.5 5v1M33.5 8v1M33.5 11v2M33.5 25v1M33.5 32v2M33.5 38v1M33.5 40v1M33.5 45v1M33.5 55v1M33.5 62v2M33.5 69v2M33.5 72v1M33.5 80v1M33.5 95v2M33.5 104v1M33.5 107v1M33.5 113v1M33.5 116v1M33.5 122v2M33.5 127v1M33.5 134v1M33.5 139v2M33.5 145v1M34.5 2v1M34.5 5v1M34.5 9v1M34.5 11v1M34.5 18v2M34.5 23v1M34.5 25v4M34.5 36v1M34.5 41v1M34.5 48v1M34.5 51v1M34.5 62v1M34.5 67v1M34.5 73v2M34.5 80v2M34.5 86v1M34.5 88v1M34.5 92v1M34.5 95v1M34.5 112v1M34.5 114v1M34.5 120v1M34.5 123v1M34.5 130v1M34.5 133v1M34.5 135v2M34.5 138v2M35.5 2v2M35.5 8v1M35.5 13v1M35.5 18v1M35.5 21v2M35.5 27v1M35.5 32v1M35.5 38v1M35.5 43v1M35.5 47v2M35.5 53v1M35.5 55v1M35.5 57v1M35.5 62v1M35.5 72v2M35.5 76v1M35.5 80v2M35.5 83v1M35.5 89v1M35.5 91v2M35.5 96v1M35.5 105v1M35.5 108v1M35.5 111v1M35.5 114v1M35.5 116v1M35.5 118v1M35.5 126v1M35.5 128v1M35.5 130v1M35.5 134v2M35.5 141v1M35.5 149v1M36.5 7v1M36.5 10v1M36.5 14v1M36.5 19v1M36.5 23v1M36.5 27v1M36.5 32v1M36.5 39v1M36.5 41v1M36.5 43v1M36.5 46v1M36.5 50v1M36.5 56v1M36.5 63v3M36.5 68v1M36.5 71v2M36.5 80v1M36.5 86v1M36.5 88v1M36.5 91v1M36.5 93v1M36.5 95v2M36.5 98v3M36.5 102v1M36.5 108v1M36.5 110v1M36.5 115v2M36.5 122v1M36.5 129v1M36.5 133v1M36.5 148v1M37.5 3v1M37.5 5v2M37.5 8v1M37.5 11v1M37.5 13v1M37.5 17v2M37.5 29v1M37.5 36v1M37.5 42v1M37.5 51v2M37.5 54v1M37.5 56v2M37.5 59v1M37.5 64v1M37.5 66v1M37.5 69v1M37.5 72v1M37.5 74v1M37.5 76v2M37.5 87v1M37.5 89v1M37.5 95v1M37.5 99v1M37.5 111v1M37.5 123v1M37.5 129v2M37.5 138v1M37.5 140v2M37.5 143v1M38.5 1v1M38.5 10v1M38.5 12v3M38.5 22v1M38.5 24v1M38.5 26v1M38.5 31v1M38.5 35v1M38.5 40v1M38.5 43v1M38.5 47v1M38.5 60v1M38.5 71v1M38.5 74v1M38.5 76v1M38.5 95v1M38.5 99v1M38.5 103v1M38.5 108v1M38.5 110v2M38.5 115v1M38.5 118v1M38.5 121v1M38.5 125v1M38.5 128v1M38.5 145v1M39.5 1v1M39.5 5v1M39.5 10v2M39.5 14v2M39.5 17v1M39.5 19v2M39.5 25v1M39.5 27v1M39.5 33v1M39.5 38v1M39.5 50v3M39.5 55v1M39.5 63v1M39.5 78v1M39.5 84v1M39.5 89v1M39.5 93v1M39.5 96v1M39.5 106v2M39.5 115v1M39.5 126v3M39.5 137v2M39.5 145v1M39.5 149v1M40.5 1v1M40.5 4v1M40.5 6v3M40.5 18v1M40.5 23v1M40.5 25v1M40.5 27v1M40.5 33v1M40.5 44v1M40.5 46v1M40.5 51v1M40.5 56v1M40.5 58v1M40.5 60v2M40.5 68v1M40.5 72v1M40.5 75v1M40.5 79v1M40.5 81v1M40.5 83v2M40.5 97v1M40.5 100v1M40.5 103v1M40.5 106v1M40.5 109v2M40.5 112v2M40.5 127v1M40.5 130v1M40.5 133v1M40.5 141v1M40.5 145v1M40.5 147v1M40.5 149v1M41.5 0v1M41.5 2v1M41.5 4v1M41.5 7v2M41.5 18v1M41.5 21v1M41.5 26v1M41.5 28v1M41.5 35v1M41.5 43v1M41.5 45v1M41.5 52v1M41.5 56v1M41.5 61v2M41.5 64v3M41.5 69v2M41.5 74v1M41.5 77v1M41.5 79v1M41.5 81v1M41.5 85v1M41.5 89v1M41.5 92v1M41.5 104v2M41.5 108v1M41.5 110v1M41.5 119v1M41.5 123v1M41.5 128v3M41.5 144v1M42.5 4v2M42.5 11v2M42.5 18v1M42.5 21v2M42.5 27v1M42.5 31v1M42.5 36v2M42.5 39v1M42.5 46v1M42.5 49v1M42.5 52v2M42.5 59v1M42.5 66v1M42.5 71v2M42.5 74v1M42.5 83v1M42.5 87v4M42.5 107v1M42.5 113v2M42.5 118v1M42.5 121v1M42.5 123v1M42.5 136v3M42.5 148v1M43.5 0v1M43.5 2v1M43.5 7v2M43.5 14v2M43.5 17v1M43.5 20v1M43.5 23v2M43.5 28v1M43.5 30v3M43.5 39v1M43.5 41v1M43.5 43v1M43.5 46v1M43.5 50v1M43.5 54v1M43.5 57v2M43.5 60v1M43.5 66v1M43.5 75v1M43.5 77v1M43.5 82v1M43.5 88v1M43.5 93v1M43.5 113v2M43.5 116v1M43.5 123v1M43.5 125v2M43.5 132v2M43.5 136v1M43.5 139v1M44.5 11v1M44.5 16v1M44.5 23v3M44.5 28v1M44.5 30v1M44.5 42v2M44.5 45v1M44.5 50v5M44.5 67v1M44.5 70v1M44.5 76v1M44.5 80v2M44.5 85v1M44.5 91v1M44.5 95v1M44.5 100v1M44.5 106v1M44.5 117v1M44.5 126v1M44.5 128v1M44.5 131v2M44.5 149v1M45.5 1v1M45.5 4v1M45.5 7v1M45.5 11v2M45.5 14v2M45.5 19v2M45.5 24v1M45.5 26v1M45.5 29v2M45.5 32v2M45.5 39v1M45.5 44v2M45.5 49v1M45.5 53v1M45.5 61v1M45.5 68v1M45.5 71v1M45.5 79v1M45.5 82v1M45.5 89v3M45.5 93v1M45.5 96v1M45.5 105v1M45.5 110v1M45.5 114v1M45.5 125v2M45.5 134v1M45.5 137v1M45.5 141v1M45.5 143v1M45.5 148v2M46.5 0v1M46.5 4v1M46.5 6v1M46.5 8v1M46.5 18v1M46.5 20v1M46.5 24v1M46.5 26v1M46.5 43v2M46.5 46v2M46.5 51v1M46.5 55v1M46.5 58v2M46.5 63v2M46.5 66v1M46.5 76v1M46.5 79v2M46.5 83v2M46.5 86v1M46.5 89v2M46.5 97v1M46.5 101v1M46.5 105v1M46.5 108v1M46.5 111v1M46.5 118v2M46.5 123v1M46.5 125v1M46.5 127v1M46.5 138v1M46.5 140v2M46.5 148v1M47.5 0v4M47.5 7v2M47.5 11v2M47.5 15v1M47.5 17v1M47.5 34v1M47.5 37v1M47.5 39v1M47.5 48v1M47.5 54v1M47.5 58v1M47.5 60v2M47.5 67v2M47.5 77v3M47.5 91v1M47.5 95v1M47.5 108v2M47.5 111v1M47.5 116v1M47.5 124v1M47.5 126v2M47.5 131v1M47.5 134v1M47.5 143v1M47.5 145v1M47.5 147v1M48.5 2v1M48.5 10v1M48.5 13v1M48.5 16v1M48.5 21v1M48.5 25v2M48.5 28v1M48.5 30v1M48.5 34v1M48.5 36v4M48.5 44v1M48.5 47v1M48.5 53v4M48.5 61v1M48.5 67v3M48.5 73v2M48.5 79v1M48.5 84v1M48.5 89v1M48.5 92v2M48.5 108v1M48.5 113v1M48.5 133v1M48.5 135v1M48.5 141v1M48.5 146v2M48.5 149v1M49.5 11v1M49.5 13v1M49.5 19v2M49.5 25v1M49.5 29v2M49.5 33v1M49.5 39v1M49.5 43v1M49.5 46v2M49.5 52v1M49.5 54v1M49.5 56v1M49.5 58v1M49.5 63v1M49.5 68v1M49.5 70v1M49.5 83v1M49.5 86v1M49.5 92v1M49.5 96v1M49.5 102v1M49.5 104v1M49.5 113v1M49.5 115v1M49.5 119v1M49.5 134v1M49.5 140v1M50.5 2v1M50.5 4v1M50.5 6v1M50.5 11v1M50.5 13v1M50.5 16v1M50.5 26v1M50.5 30v2M50.5 36v1M50.5 38v1M50.5 41v1M50.5 53v1M50.5 60v2M50.5 63v1M50.5 73v1M50.5 76v2M50.5 81v1M50.5 83v1M50.5 85v1M50.5 87v1M50.5 97v2M50.5 102v1M50.5 120v5M50.5 130v2M50.5 141v1M50.5 146v1M51.5 2v3M51.5 12v2M51.5 20v1M51.5 22v2M51.5 29v1M51.5 31v1M51.5 35v1M51.5 39v2M51.5 43v1M51.5 45v2M51.5 49v1M51.5 56v1M51.5 61v1M51.5 67v2M51.5 70v1M51.5 72v3M51.5 80v1M51.5 84v1M51.5 87v1M51.5 89v1M51.5 91v1M51.5 93v1M51.5 120v2M51.5 123v1M51.5 125v1M51.5 128v1M51.5 140v1M51.5 146v2M52.5 1v1M52.5 6v1M52.5 15v1M52.5 21v1M52.5 26v4M52.5 32v2M52.5 35v1M52.5 39v1M52.5 41v1M52.5 44v1M52.5 51v2M52.5 55v1M52.5 63v1M52.5 69v1M52.5 71v1M52.5 77v1M52.5 79v2M52.5 82v1M52.5 84v2M52.5 87v1M52.5 94v1M52.5 99v1M52.5 102v1M52.5 108v1M52.5 117v1M52.5 120v1M52.5 128v1M52.5 133v1M52.5 141v1M52.5 144v1M53.5 1v1M53.5 8v1M53.5 10v1M53.5 24v2M53.5 33v1M53.5 36v1M53.5 38v2M53.5 41v1M53.5 45v1M53.5 52v4M53.5 57v1M53.5 60v1M53.5 64v1M53.5 70v1M53.5 74v1M53.5 77v2M53.5 80v1M53.5 82v1M53.5 99v1M53.5 104v1M53.5 109v1M53.5 120v2M53.5 124v1M53.5 131v1M53.5 134v1M53.5 138v2M53.5 141v3M53.5 146v1M54.5 2v2M54.5 5v1M54.5 8v2M54.5 11v1M54.5 14v1M54.5 16v1M54.5 21v1M54.5 29v1M54.5 31v2M54.5 36v1M54.5 47v2M54.5 58v1M54.5 65v1M54.5 74v1M54.5 76v2M54.5 79v1M54.5 81v1M54.5 87v1M54.5 94v1M54.5 98v1M54.5 102v1M54.5 104v1M54.5 109v1M54.5 111v1M54.5 113v3M54.5 120v2M54.5 124v1M54.5 129v2M54.5 134v1M54.5 136v1M54.5 139v1M54.5 141v1M54.5 147v2M55.5 1v1M55.5 12v1M55.5 17v1M55.5 23v1M55.5 28v1M55.5 33v1M55.5 41v1M55.5 45v2M55.5 50v1M55.5 55v1M55.5 57v1M55.5 60v1M55.5 64v1M55.5 67v1M55.5 71v3M55.5 81v1M55.5 83v2M55.5 86v1M55.5 90v2M55.5 94v1M55.5 98v3M55.5 104v1M55.5 115v1M55.5 125v1M55.5 127v3M55.5 132v1M55.5 134v1M55.5 142v1M55.5 146v2M56.5 1v1M56.5 4v1M56.5 11v4M56.5 23v1M56.5 27v1M56.5 39v1M56.5 47v1M56.5 49v2M56.5 53v1M56.5 55v1M56.5 57v2M56.5 61v1M56.5 66v1M56.5 78v1M56.5 80v1M56.5 87v1M56.5 90v1M56.5 92v2M56.5 96v1M56.5 101v1M56.5 105v1M56.5 110v1M56.5 112v2M56.5 117v1M56.5 119v1M56.5 125v1M56.5 127v1M56.5 136v1M56.5 138v1M56.5 149v1M57.5 1v1M57.5 9v2M57.5 13v1M57.5 15v2M57.5 29v2M57.5 39v1M57.5 42v1M57.5 47v1M57.5 53v3M57.5 58v1M57.5 60v2M57.5 64v1M57.5 73v1M57.5 83v1M57.5 101v1M57.5 106v1M57.5 109v1M57.5 113v1M57.5 117v1M57.5 125v1M57.5 134v1M57.5 143v1M58.5 2v3M58.5 9v3M58.5 13v1M58.5 21v1M58.5 25v2M58.5 30v1M58.5 32v1M58.5 36v1M58.5 45v1M58.5 65v1M58.5 68v1M58.5 72v1M58.5 78v1M58.5 101v1M58.5 104v1M58.5 112v1M58.5 116v1M58.5 126v1M58.5 140v1M59.5 7v1M59.5 17v2M59.5 23v2M59.5 27v1M59.5 30v1M59.5 36v1M59.5 43v1M59.5 50v1M59.5 55v1M59.5 58v4M59.5 64v1M59.5 70v2M59.5 74v2M59.5 77v1M59.5 80v1M59.5 82v2M59.5 102v1M59.5 105v1M59.5 110v1M59.5 112v1M59.5 124v1M59.5 127v1M59.5 129v1M59.5 133v1M59.5 142v1M59.5 147v1M60.5 0v2M60.5 15v1M60.5 19v1M60.5 22v1M60.5 29v1M60.5 31v1M60.5 33v4M60.5 40v1M60.5 42v4M60.5 47v1M60.5 49v1M60.5 53v1M60.5 55v1M60.5 60v1M60.5 69v4M60.5 79v1M60.5 86v1M60.5 88v1M60.5 102v1M60.5 105v3M60.5 109v1M60.5 115v1M60.5 121v1M60.5 129v1M60.5 132v2M60.5 149v1M61.5 0v1M61.5 2v1M61.5 14v1M61.5 16v2M61.5 19v1M61.5 22v1M61.5 32v1M61.5 36v1M61.5 38v1M61.5 40v1M61.5 42v1M61.5 44v1M61.5 47v1M61.5 51v1M61.5 55v1M61.5 58v1M61.5 62v2M61.5 68v2M61.5 72v1M61.5 74v1M61.5 82v2M61.5 85v1M61.5 87v2M61.5 93v1M61.5 99v1M61.5 102v1M61.5 106v1M61.5 111v1M61.5 117v1M61.5 140v1M61.5 142v2M61.5 145v1M62.5 2v1M62.5 4v2M62.5 7v1M62.5 18v1M62.5 22v1M62.5 33v2M62.5 36v1M62.5 39v2M62.5 43v2M62.5 48v1M62.5 55v1M62.5 59v1M62.5 62v1M62.5 66v1M62.5 68v1M62.5 70v1M62.5 77v2M62.5 87v1M62.5 93v1M62.5 98v1M62.5 104v1M62.5 110v1M62.5 118v1M62.5 121v1M62.5 123v1M62.5 129v1M62.5 132v1M62.5 134v1M62.5 140v1M62.5 149v1M63.5 5v1M63.5 8v1M63.5 11v1M63.5 26v1M63.5 28v1M63.5 40v1M63.5 59v1M63.5 65v1M63.5 67v1M63.5 73v2M63.5 78v3M63.5 82v1M63.5 90v1M63.5 92v1M63.5 94v2M63.5 101v1M63.5 112v1M63.5 116v1M63.5 119v1M63.5 124v1M63.5 126v1M63.5 130v1M63.5 134v1M63.5 144v1M63.5 148v2M64.5 1v1M64.5 3v1M64.5 7v2M64.5 10v1M64.5 19v1M64.5 27v1M64.5 33v1M64.5 38v1M64.5 40v1M64.5 43v1M64.5 45v1M64.5 48v1M64.5 52v2M64.5 60v1M64.5 62v1M64.5 66v1M64.5 70v1M64.5 72v1M64.5 92v1M64.5 95v1M64.5 100v2M64.5 103v1M64.5 125v1M64.5 135v1M64.5 142v2M65.5 1v1M65.5 4v1M65.5 6v1M65.5 11v1M65.5 18v1M65.5 25v2M65.5 28v2M65.5 31v1M65.5 35v1M65.5 37v2M65.5 45v1M65.5 51v3M65.5 58v1M65.5 61v1M65.5 63v1M65.5 68v2M65.5 74v2M65.5 78v1M65.5 80v1M65.5 82v1M65.5 85v1M65.5 91v1M65.5 98v1M65.5 103v1M65.5 106v1M65.5 109v1M65.5 113v1M65.5 116v1M65.5 131v2M65.5 134v1M65.5 141v1M65.5 148v1M66.5 6v1M66.5 10v2M66.5 13v1M66.5 16v1M66.5 19v1M66.5 21v2M66.5 27v2M66.5 39v1M66.5 41v1M66.5 45v1M66.5 50v2M66.5 54v2M66.5 60v1M66.5 62v1M66.5 70v1M66.5 73v1M66.5 80v1M66.5 88v2M66.5 101v2M66.5 104v1M66.5 107v1M66.5 110v2M66.5 113v1M66.5 115v1M66.5 119v1M66.5 129v1M66.5 135v1M66.5 138v1M67.5 5v2M67.5 8v1M67.5 22v3M67.5 26v1M67.5 29v1M67.5 36v1M67.5 38v1M67.5 41v2M67.5 44v2M67.5 47v1M67.5 54v4M67.5 60v2M67.5 65v3M67.5 69v1M67.5 72v1M67.5 97v1M67.5 104v1M67.5 107v1M67.5 109v1M67.5 115v2M67.5 122v1M67.5 126v1M67.5 133v2M67.5 137v1M67.5 141v1M67.5 145v1"/>
<path stroke="#d76e64" d="M7.5 5v1M7.5 11v1M7.5 64v1M8.5 54v1M9.5 50v1M9.5 55v1M10.5 16v1M10.5 28v1M11.5 68v1M12.5 74v1M13.5 45v1M15.5 33v1M15.5 36v1M16.5 38v1M16.5 49v1M16.5 74v1M17.5 3v1M17.5 28v1M17.5 39v1M17.5 59v1M18.5 28v1M18.5 34v1M18.5 39v1M18.5 58v1M18.5 64v1M19.5 9v1M19.5 57v1M19.5 64v1M20.5 2v1M20.5 18v1M22.5 1v1M23.5 23v1M23.5 27v1M23.5 49v1M23.5 65v1M24.5 5v1M24.5 21v1M24.5 55v1M24.5 68v1M25.5 53v1M26.5 24v1M26.5 29v1M27.5 27v1M28.5 21v1M28.5 43v1M29.5 12v1M29.5 27v1M30.5 52v1M30.5 66v1M30.5 71v2M31.5 12v1M31.5 27v1M31.5 63v1M32.5 12v1M32.5 20v2M33.5 15v1M34.5 8v1M34.5 22v1M34.5 35v1M36.5 13v1M37.5 33v1M38.5 9v1M38.5 38v1M38.5 59v1M39.5 57v1M40.5 19v1M40.5 41v1M40.5 43v1M41.5 49v1M41.5 67v1M42.5 3v1M42.5 33v1M43.5 10v1M43.5 16v1M44.5 21v1M44.5 38v1M44.5 47v1M45.5 28v1M45.5 35v1M45.5 65v1M45.5 73v1M46.5 9v1M46.5 14v1M46.5 23v1M46.5 27v1M47.5 26v1M47.5 32v1M47.5 45v2M47.5 70v1M48.5 9v1M48.5 27v1M48.5 41v1M48.5 65v1M49.5 71v1M50.5 1v1M50.5 35v1M50.5 59v1M51.5 14v1M52.5 74v1M53.5 16v1M54.5 53v1M55.5 42v1M56.5 32v2M56.5 51v1M56.5 70v1M57.5 34v1M58.5 1v1M58.5 18v1M58.5 38v1M58.5 46v1M58.5 51v1M58.5 57v1M58.5 69v1M59.5 8v1M60.5 6v1M61.5 11v1M61.5 24v1M61.5 26v1M62.5 16v1M63.5 19v1M63.5 48v1M64.5 31v1M64.5 39v1M64.5 58v1M65.5 7v1M65.5 23v1M66.5 64v1M67.5 13v1M67.5 43v1M67.5 52v1"/>
<path stroke="#8cafe1" d="M7.5 6v1M7.5 13v1M7.5 16v1M7.5 23v1M7.5 25v1M7.5 28v1M7.5 30v1M7.5 34v1M7.5 37v1M7.5 40v1M7.5 42v2M7.5 46v1M7.5 50v2M7.5 55v1M7.5 57v1M7.5 60v1M7.5 74v2M7.5 78v1M7.5 100v1M7.5 109v2M7.5 117v1M7.5 119v1M7.5 134v1M8.5 1v1M8.5 13v1M8.5 15v1M8.5 20v1M8.5 22v1M8.5 41v1M8.5 47v2M8.5 50v2M8.5 59v2M8.5 75v1M8.5 77v1M8.5 84v1M8.5 90v1M8.5 104v1M8.5 119v1M8.5 128v1M8.5 132v1M8.5 137v1M8.5 140v1M9.5 5v1M9.5 7v1M9.5 11v1M9.5 13v1M9.5 15v2M9.5 21v1M9.5 24v1M9.5 28v1M9.5 36v1M9.5 40v2M9.5 51v1M9.5 54v1M9.5 57v1M9.5 62v2M9.5 70v1M9.5 77v1M9.5 85v1M9.5 93v1M9.5 103v1M9.5 106v3M9.5 114v1M9.5 116v1M9.5 125v1M9.5 127v1M9.5 132v2M9.5 147v1M10.5 3v1M10.5 9v1M10.5 11v1M10.5 26v2M10.5 31v1M10.5 33v1M10.5 35v2M10.5 45v1M10.5 47v1M10.5 60v1M10.5 65v1M10.5 69v1M10.5 80v1M10.5 89v1M10.5 110v1M10.5 115v1M10.5 124v1M10.5 130v1M10.5 141v1M10.5 144v1M11.5 2v1M11.5 8v1M11.5 12v1M11.5 14v1M11.5 31v1M11.5 34v1M11.5 37v1M11.5 40v1M11.5 49v1M11.5 53v1M11.5 81v1M11.5 84v1M11.5 99v1M11.5 103v1M11.5 110v1M11.5 112v1M11.5 114v2M11.5 124v1M11.5 127v1M11.5 131v2M11.5 134v1M11.5 138v1M11.5 140v1M11.5 145v2M12.5 8v1M12.5 12v1M12.5 16v2M12.5 21v3M12.5 26v1M12.5 32v1M12.5 39v1M12.5 43v1M12.5 57v1M12.5 75v2M12.5 80v1M12.5 84v1M12.5 88v2M12.5 92v1M12.5 97v1M12.5 103v1M12.5 113v2M12.5 130v1M12.5 133v2M12.5 137v1M12.5 139v1M12.5 147v1M13.5 5v1M13.5 11v1M13.5 17v1M13.5 20v1M13.5 29v1M13.5 35v1M13.5 61v1M13.5 64v1M13.5 74v1M13.5 79v1M13.5 86v1M13.5 93v2M13.5 99v1M13.5 108v1M13.5 110v1M14.5 3v1M14.5 6v1M14.5 14v1M14.5 21v1M14.5 23v1M14.5 25v1M14.5 32v2M14.5 35v1M14.5 38v1M14.5 45v1M14.5 50v1M14.5 59v2M14.5 77v2M14.5 92v1M14.5 102v1M14.5 104v1M14.5 107v1M14.5 134v1M14.5 139v1M14.5 145v2M14.5 149v1M15.5 1v1M15.5 9v1M15.5 16v1M15.5 21v1M15.5 38v1M15.5 41v2M15.5 47v1M15.5 53v1M15.5 56v1M15.5 58v1M15.5 76v1M15.5 78v2M15.5 85v1M15.5 96v1M15.5 104v1M15.5 112v1M15.5 129v1M15.5 138v1M15.5 144v1M16.5 1v1M16.5 13v1M16.5 20v1M16.5 25v1M16.5 41v1M16.5 55v2M16.5 62v1M16.5 65v1M16.5 67v1M16.5 75v1M16.5 85v1M16.5 92v1M16.5 96v1M16.5 99v1M16.5 106v1M16.5 130v1M16.5 146v2M16.5 149v1M17.5 5v2M17.5 16v1M17.5 18v2M17.5 21v1M17.5 23v1M17.5 36v1M17.5 41v1M17.5 53v1M17.5 61v1M17.5 68v1M17.5 70v1M17.5 90v1M17.5 99v1M17.5 103v1M17.5 105v1M17.5 137v1M17.5 146v1M18.5 0v1M18.5 2v1M18.5 12v1M18.5 23v2M18.5 27v1M18.5 30v1M18.5 41v1M18.5 44v1M18.5 53v1M18.5 55v1M18.5 60v1M18.5 63v1M18.5 66v2M18.5 69v1M18.5 72v2M18.5 76v1M18.5 81v1M18.5 83v2M18.5 88v3M18.5 95v1M18.5 110v1M18.5 117v1M18.5 123v1M18.5 130v1M19.5 2v1M19.5 10v1M19.5 12v1M19.5 15v1M19.5 20v1M19.5 22v1M19.5 33v2M19.5 37v1M19.5 47v1M19.5 50v2M19.5 54v1M19.5 56v1M19.5 81v1M19.5 83v3M19.5 90v1M19.5 93v1M19.5 95v1M19.5 102v1M19.5 113v1M19.5 116v1M19.5 118v1M19.5 143v1M19.5 145v1M20.5 6v1M20.5 11v1M20.5 13v1M20.5 23v1M20.5 29v1M20.5 39v1M20.5 43v1M20.5 48v1M20.5 57v1M20.5 62v1M20.5 67v1M20.5 79v2M20.5 82v1M20.5 84v2M20.5 93v1M20.5 97v1M20.5 99v1M20.5 107v1M20.5 111v1M20.5 113v1M20.5 118v1M20.5 126v1M20.5 145v2M21.5 0v1M21.5 2v1M21.5 6v1M21.5 10v2M21.5 16v1M21.5 19v1M21.5 39v2M21.5 44v1M21.5 49v1M21.5 52v1M21.5 61v1M21.5 67v1M21.5 71v1M21.5 73v1M21.5 88v1M21.5 90v1M21.5 95v1M21.5 104v1M21.5 106v1M21.5 119v1M21.5 122v1M21.5 128v1M21.5 140v2M21.5 149v1M22.5 2v1M22.5 4v1M22.5 7v2M22.5 19v1M22.5 43v1M22.5 47v1M22.5 50v2M22.5 57v1M22.5 69v2M22.5 89v2M22.5 97v1M22.5 100v1M22.5 102v1M22.5 110v1M22.5 143v1M23.5 15v3M23.5 20v1M23.5 32v2M23.5 40v1M23.5 44v1M23.5 48v1M23.5 50v1M23.5 53v2M23.5 59v2M23.5 64v1M23.5 77v1M23.5 81v1M23.5 85v2M23.5 102v1M23.5 107v1M23.5 110v1M23.5 115v1M23.5 122v1M23.5 126v1M23.5 133v1M23.5 140v1M23.5 143v1M24.5 1v2M24.5 12v1M24.5 14v1M24.5 19v1M24.5 22v1M24.5 36v2M24.5 45v1M24.5 51v1M24.5 59v1M24.5 67v1M24.5 73v3M24.5 120v1M24.5 126v1M24.5 129v1M24.5 131v1M25.5 0v1M25.5 4v1M25.5 8v5M25.5 22v1M25.5 29v1M25.5 31v1M25.5 41v1M25.5 47v3M25.5 55v1M25.5 64v1M25.5 82v1M25.5 95v1M25.5 102v1M25.5 104v1M25.5 108v1M25.5 114v1M25.5 122v1M25.5 132v1M25.5 136v1M25.5 138v1M25.5 140v1M25.5 142v1M26.5 4v1M26.5 12v2M26.5 16v1M26.5 25v1M26.5 36v1M26.5 42v1M26.5 46v1M26.5 54v1M26.5 59v1M26.5 63v1M26.5 78v1M26.5 82v1M26.5 86v1M26.5 93v1M26.5 99v1M26.5 104v1M26.5 108v1M26.5 136v1M26.5 138v1M26.5 143v1M27.5 1v3M27.5 10v1M27.5 13v1M27.5 17v1M27.5 22v1M27.5 26v1M27.5 43v2M27.5 47v1M27.5 55v1M27.5 57v1M27.5 62v1M27.5 64v1M27.5 69v1M27.5 73v1M27.5 79v1M27.5 107v1M27.5 111v1M27.5 114v2M27.5 118v1M27.5 123v1M27.5 128v1M27.5 144v1M28.5 24v1M28.5 29v1M28.5 32v2M28.5 48v1M28.5 57v1M28.5 72v1M28.5 74v1M28.5 87v1M28.5 101v1M28.5 119v1M28.5 126v1M28.5 131v1M28.5 133v1M28.5 135v2M28.5 148v1M29.5 0v1M29.5 8v1M29.5 15v1M29.5 20v1M29.5 24v1M29.5 33v1M29.5 47v1M29.5 50v1M29.5 59v2M29.5 65v1M29.5 68v5M29.5 100v1M29.5 102v1M29.5 105v1M29.5 107v1M29.5 109v1M29.5 123v1M29.5 133v1M29.5 141v1M29.5 145v1M30.5 10v1M30.5 14v1M30.5 26v1M30.5 35v2M30.5 45v1M30.5 50v2M30.5 57v2M30.5 62v2M30.5 73v1M30.5 80v1M30.5 85v1M30.5 94v1M30.5 102v1M30.5 107v1M30.5 129v1M30.5 137v1M30.5 139v1M31.5 1v2M31.5 5v1M31.5 7v1M31.5 16v1M31.5 23v1M31.5 25v1M31.5 29v1M31.5 31v1M31.5 43v2M31.5 62v1M31.5 65v1M31.5 72v2M31.5 75v1M31.5 81v1M31.5 85v2M31.5 89v1M31.5 91v1M31.5 98v1M31.5 101v1M31.5 108v1M31.5 114v1M31.5 125v1M31.5 127v1M31.5 141v1M31.5 145v1M32.5 9v1M32.5 14v1M32.5 18v1M32.5 22v2M32.5 25v1M32.5 33v1M32.5 45v1M32.5 55v1M32.5 60v1M32.5 66v1M32.5 86v1M32.5 91v1M32.5 114v1M32.5 118v2M32.5 122v1M32.5 127v1M32.5 129v1M32.5 133v1M32.5 141v1M33.5 2v1M33.5 4v1M33.5 7v1M33.5 10v1M33.5 20v1M33.5 22v1M33.5 31v1M33.5 37v1M33.5 42v1M33.5 51v1M33.5 54v1M33.5 60v2M33.5 65v4M33.5 83v1M33.5 86v1M33.5 111v1M33.5 131v2M33.5 138v1M34.5 0v1M34.5 12v1M34.5 20v1M34.5 33v1M34.5 45v1M34.5 52v1M34.5 63v2M34.5 72v1M34.5 78v2M34.5 89v1M34.5 91v1M34.5 93v1M34.5 98v1M34.5 101v1M34.5 105v1M34.5 122v1M34.5 128v1M35.5 1v1M35.5 6v1M35.5 9v1M35.5 16v1M35.5 19v1M35.5 28v2M35.5 34v2M35.5 44v1M35.5 49v1M35.5 60v2M35.5 67v1M35.5 70v1M35.5 75v1M35.5 82v1M35.5 84v2M35.5 87v1M35.5 94v2M35.5 101v1M35.5 104v1M35.5 109v1M35.5 119v1M35.5 122v1M35.5 143v1M35.5 148v1M36.5 3v1M36.5 15v2M36.5 21v2M36.5 24v3M36.5 30v1M36.5 33v1M36.5 40v1M36.5 44v1M36.5 59v1M36.5 62v1M36.5 78v1M36.5 84v1M36.5 94v1M36.5 101v1M36.5 113v1M36.5 118v1M36.5 121v1M36.5 125v1M36.5 131v1M36.5 134v2M37.5 0v1M37.5 7v1M37.5 10v1M37.5 12v1M37.5 15v2M37.5 23v3M37.5 37v2M37.5 50v1M37.5 58v1M37.5 79v2M37.5 93v1M37.5 96v1M37.5 101v1M37.5 104v1M37.5 107v1M37.5 120v1M37.5 131v1M37.5 144v1M38.5 0v1M38.5 5v1M38.5 8v1M38.5 17v1M38.5 20v2M38.5 25v1M38.5 32v1M38.5 34v1M38.5 36v1M38.5 39v1M38.5 42v1M38.5 52v1M38.5 63v1M38.5 65v1M38.5 67v1M38.5 69v1M38.5 83v1M38.5 86v1M38.5 91v1M38.5 96v1M38.5 101v1M38.5 106v1M38.5 114v1M38.5 117v1M38.5 141v1M38.5 144v1M39.5 0v1M39.5 16v1M39.5 18v1M39.5 21v1M39.5 29v1M39.5 32v1M39.5 37v1M39.5 42v1M39.5 64v2M39.5 67v1M39.5 76v1M39.5 91v1M39.5 101v1M39.5 108v2M39.5 117v2M39.5 122v1M39.5 125v1M39.5 135v2M39.5 146v1M40.5 2v2M40.5 11v1M40.5 14v2M40.5 20v1M40.5 22v1M40.5 31v1M40.5 34v1M40.5 36v1M40.5 54v1M40.5 62v1M40.5 64v1M40.5 66v2M40.5 70v2M40.5 78v1M40.5 86v1M40.5 93v1M40.5 115v1M40.5 118v1M40.5 124v2M40.5 136v1M40.5 139v1M41.5 5v1M41.5 24v2M41.5 30v1M41.5 32v1M41.5 34v1M41.5 47v1M41.5 53v3M41.5 59v1M41.5 68v1M41.5 72v2M41.5 87v2M41.5 90v1M41.5 99v1M41.5 101v2M41.5 112v1M41.5 120v2M41.5 135v2M41.5 140v2M41.5 143v1M41.5 148v1M42.5 6v1M42.5 9v1M42.5 23v1M42.5 32v1M42.5 34v1M42.5 38v1M42.5 41v1M42.5 45v1M42.5 47v1M42.5 51v1M42.5 60v1M42.5 65v1M42.5 68v2M42.5 78v1M42.5 80v1M42.5 95v1M42.5 103v1M42.5 111v2M42.5 117v1M42.5 125v1M42.5 140v1M42.5 142v1M43.5 3v1M43.5 11v2M43.5 18v1M43.5 25v2M43.5 36v1M43.5 44v1M43.5 49v1M43.5 51v1M43.5 55v1M43.5 81v1M43.5 95v1M43.5 99v1M43.5 107v1M43.5 118v3M43.5 122v1M43.5 137v1M43.5 140v1M43.5 144v1M44.5 0v1M44.5 5v1M44.5 13v1M44.5 18v1M44.5 22v1M44.5 36v1M44.5 40v1M44.5 57v1M44.5 59v1M44.5 61v3M44.5 69v1M44.5 75v1M44.5 84v1M44.5 93v1M44.5 96v1M44.5 103v1M44.5 109v1M44.5 111v1M44.5 122v1M44.5 139v1M44.5 141v1M44.5 147v1M45.5 9v1M45.5 13v1M45.5 21v2M45.5 27v1M45.5 31v1M45.5 41v1M45.5 46v1M45.5 50v2M45.5 54v2M45.5 58v2M45.5 69v2M45.5 72v1M45.5 84v1M45.5 94v1M45.5 102v1M45.5 109v1M45.5 117v1M45.5 133v1M46.5 13v1M46.5 19v1M46.5 29v1M46.5 34v2M46.5 39v1M46.5 48v3M46.5 52v1M46.5 54v1M46.5 61v1M46.5 72v2M46.5 85v1M46.5 100v1M46.5 109v2M46.5 134v1M46.5 145v1M46.5 149v1M47.5 6v1M47.5 9v1M47.5 14v1M47.5 18v1M47.5 29v2M47.5 33v1M47.5 40v1M47.5 43v2M47.5 49v1M47.5 74v2M47.5 85v1M47.5 88v1M47.5 93v2M47.5 106v1M47.5 120v1M47.5 122v1M47.5 125v1M47.5 129v1M47.5 132v2M47.5 138v1M47.5 142v1M47.5 148v2M48.5 3v1M48.5 14v1M48.5 29v1M48.5 31v1M48.5 43v1M48.5 52v1M48.5 57v1M48.5 66v1M48.5 70v2M48.5 82v1M48.5 88v1M48.5 96v1M48.5 99v1M48.5 101v1M48.5 105v1M48.5 109v1M48.5 111v1M48.5 114v1M48.5 116v1M48.5 118v1M48.5 122v2M48.5 126v1M48.5 145v1M49.5 0v1M49.5 14v1M49.5 21v3M49.5 28v1M49.5 34v1M49.5 37v1M49.5 45v1M49.5 50v1M49.5 59v2M49.5 69v1M49.5 78v1M49.5 84v1M49.5 93v1M49.5 99v1M49.5 101v1M49.5 107v2M49.5 110v1M49.5 112v1M49.5 128v1M49.5 137v2M49.5 143v2M50.5 18v1M50.5 21v1M50.5 28v2M50.5 37v1M50.5 40v1M50.5 42v1M50.5 47v1M50.5 51v2M50.5 69v1M50.5 75v1M50.5 78v1M50.5 94v1M50.5 99v1M50.5 109v1M50.5 116v1M50.5 133v1M51.5 5v1M51.5 16v2M51.5 32v1M51.5 44v1M51.5 47v1M51.5 65v1M51.5 69v1M51.5 79v1M51.5 82v1M51.5 86v1M51.5 90v1M51.5 104v1M51.5 118v1M51.5 122v1M51.5 132v2M51.5 135v3M51.5 144v1M51.5 148v1M52.5 2v1M52.5 9v1M52.5 17v1M52.5 19v1M52.5 40v1M52.5 43v1M52.5 47v2M52.5 50v1M52.5 53v1M52.5 61v1M52.5 64v1M52.5 68v1M52.5 88v1M52.5 91v1M52.5 97v2M52.5 106v1M52.5 110v1M52.5 116v1M52.5 122v1M52.5 125v2M52.5 129v1M52.5 131v1M52.5 140v1M52.5 145v2M53.5 0v1M53.5 5v1M53.5 12v1M53.5 19v2M53.5 28v2M53.5 32v1M53.5 51v1M53.5 59v1M53.5 61v1M53.5 67v2M53.5 72v1M53.5 76v1M53.5 86v1M53.5 102v1M53.5 105v1M53.5 110v1M53.5 115v2M53.5 133v1M53.5 136v1M54.5 7v1M54.5 10v1M54.5 12v2M54.5 18v3M54.5 25v1M54.5 27v1M54.5 35v1M54.5 38v1M54.5 42v1M54.5 46v1M54.5 54v1M54.5 56v1M54.5 59v1M54.5 70v1M54.5 80v1M54.5 97v1M54.5 103v1M54.5 112v1M54.5 126v1M54.5 132v1M54.5 142v1M55.5 0v1M55.5 6v1M55.5 8v1M55.5 19v1M55.5 25v1M55.5 30v2M55.5 37v2M55.5 40v1M55.5 43v2M55.5 47v3M55.5 53v1M55.5 58v1M55.5 62v1M55.5 77v1M55.5 88v2M55.5 95v1M55.5 101v1M55.5 105v1M55.5 112v1M55.5 114v1M55.5 119v1M55.5 148v1M56.5 0v1M56.5 7v1M56.5 21v1M56.5 28v1M56.5 44v2M56.5 56v1M56.5 59v1M56.5 62v2M56.5 75v2M56.5 81v1M56.5 86v1M56.5 89v1M56.5 94v1M56.5 111v1M56.5 116v1M56.5 122v1M56.5 129v2M56.5 132v1M56.5 137v1M56.5 144v2M57.5 4v1M57.5 6v3M57.5 11v1M57.5 18v2M57.5 28v1M57.5 31v1M57.5 35v1M57.5 48v3M57.5 65v1M57.5 69v1M57.5 71v1M57.5 81v1M57.5 84v2M57.5 94v2M57.5 103v1M57.5 108v1M57.5 111v1M57.5 118v1M57.5 120v1M57.5 122v1M57.5 127v1M57.5 138v1M57.5 148v1M58.5 7v1M58.5 16v1M58.5 20v1M58.5 22v1M58.5 28v1M58.5 31v1M58.5 33v1M58.5 37v1M58.5 39v1M58.5 50v1M58.5 58v2M58.5 77v1M58.5 81v2M58.5 84v3M58.5 102v1M58.5 106v1M58.5 117v2M58.5 120v1M58.5 129v2M58.5 136v1M58.5 142v1M59.5 11v1M59.5 20v1M59.5 22v1M59.5 31v1M59.5 33v2M59.5 39v2M59.5 45v1M59.5 49v1M59.5 51v1M59.5 67v1M59.5 69v1M59.5 73v1M59.5 89v2M59.5 92v1M59.5 106v1M59.5 108v1M59.5 111v1M59.5 125v1M59.5 132v1M59.5 135v1M59.5 141v1M59.5 145v1M59.5 148v1M60.5 2v1M60.5 10v1M60.5 13v1M60.5 18v1M60.5 25v3M60.5 32v1M60.5 50v1M60.5 56v2M60.5 61v1M60.5 90v1M60.5 95v1M60.5 108v1M60.5 138v2M60.5 144v1M60.5 148v1M61.5 1v1M61.5 3v1M61.5 8v1M61.5 13v1M61.5 18v1M61.5 20v2M61.5 25v1M61.5 31v1M61.5 34v1M61.5 41v1M61.5 45v2M61.5 48v1M61.5 50v1M61.5 54v1M61.5 71v1M61.5 76v1M61.5 78v1M61.5 81v1M61.5 91v2M61.5 100v1M61.5 108v2M61.5 112v1M61.5 120v1M61.5 130v1M61.5 136v1M61.5 141v1M61.5 146v1M62.5 1v1M62.5 8v1M62.5 10v1M62.5 24v2M62.5 29v1M62.5 31v1M62.5 42v1M62.5 47v1M62.5 51v1M62.5 57v1M62.5 74v1M62.5 80v1M62.5 85v1M62.5 91v1M62.5 108v1M62.5 116v1M62.5 120v1M62.5 124v1M62.5 127v1M62.5 138v1M62.5 141v1M62.5 148v1M63.5 4v1M63.5 6v2M63.5 18v1M63.5 25v1M63.5 36v1M63.5 39v1M63.5 42v2M63.5 50v1M63.5 52v1M63.5 56v1M63.5 62v1M63.5 68v1M63.5 70v1M63.5 76v1M63.5 84v2M63.5 102v1M63.5 108v1M63.5 110v2M63.5 120v1M63.5 122v1M63.5 128v1M63.5 142v1M64.5 0v1M64.5 4v3M64.5 9v1M64.5 11v1M64.5 15v1M64.5 20v3M64.5 44v1M64.5 55v1M64.5 59v1M64.5 64v1M64.5 69v1M64.5 81v1M64.5 87v1M64.5 89v1M64.5 97v2M64.5 105v1M64.5 112v1M64.5 116v1M64.5 118v2M64.5 123v2M64.5 126v1M64.5 133v1M64.5 137v1M64.5 140v1M65.5 0v1M65.5 2v2M65.5 5v1M65.5 10v1M65.5 12v2M65.5 15v1M65.5 17v1M65.5 30v1M65.5 32v1M65.5 34v1M65.5 54v1M65.5 57v1M65.5 59v1M65.5 70v1M65.5 83v1M65.5 104v2M65.5 114v1M65.5 118v1M65.5 124v1M65.5 126v2M65.5 130v1M65.5 135v2M65.5 144v1M65.5 146v1M65.5 149v1M66.5 0v1M66.5 12v1M66.5 23v3M66.5 35v1M66.5 42v2M66.5 46v1M66.5 49v1M66.5 63v1M66.5 65v1M66.5 76v1M66.5 86v1M66.5 105v1M66.5 112v1M66.5 114v1M66.5 116v1M66.5 118v1M66.5 126v1M66.5 132v1M66.5 139v2M66.5 146v1M67.5 0v2M67.5 3v1M67.5 30v1M67.5 32v1M67.5 35v1M67.5 39v1M67.5 50v1M67.5 58v1M67.5 63v1M67.5 68v1M67.5 83v2M67.5 86v2M67.5 89v1M67.5 92v1M67.5 95v1M67.5 102v2M67.5 110v1M67.5 113v1M67.5 117v1M67.5 140v1M67.5 143v1M67.5 146v1"/>
<path stroke="#b996c3" d="M7.5 8v1M7.5 58v1M7.5 69v1M7.5 77v1M7.5 84v1M7.5 98v1M7.5 102v1M7.5 106v2M7.5 115v2M7.5 121v1M7.5 142v1M7.5 144v1M7.5 146v1M8.5 0v1M8.5 45v1M8.5 52v1M8.5 80v1M8.5 86v1M8.5 98v1M8.5 109v1M8.5 113v1M8.5 117v2M8.5 131v1M9.5 0v1M9.5 18v1M9.5 20v1M9.5 45v1M9.5 75v1M9.5 80v1M9.5 86v1M9.5 88v1M9.5 96v2M9.5 100v2M9.5 123v1M9.5 135v1M9.5 138v2M10.5 0v1M10.5 6v1M10.5 10v1M10.5 15v1M10.5 32v1M10.5 50v1M10.5 52v1M10.5 58v1M10.5 77v1M10.5 105v1M10.5 109v1M10.5 118v1M10.5 129v1M10.5 137v1M10.5 148v1M11.5 17v1M11.5 23v1M11.5 56v1M11.5 62v1M11.5 88v1M11.5 91v1M11.5 125v1M12.5 11v1M12.5 34v1M12.5 59v1M12.5 63v1M12.5 71v1M12.5 98v1M12.5 102v1M12.5 107v1M12.5 124v1M12.5 143v1M12.5 148v1M13.5 18v1M13.5 23v1M13.5 30v1M13.5 32v1M13.5 96v1M13.5 120v1M14.5 29v1M14.5 31v1M14.5 41v1M14.5 49v1M14.5 65v1M14.5 79v2M14.5 98v1M14.5 118v2M14.5 126v3M14.5 131v1M14.5 136v1M14.5 141v1M15.5 4v1M15.5 37v1M15.5 45v1M15.5 87v1M15.5 92v1M15.5 97v1M15.5 99v1M15.5 116v1M15.5 118v1M15.5 120v1M15.5 130v1M15.5 137v1M15.5 142v1M16.5 3v1M16.5 48v1M16.5 61v1M16.5 102v1M16.5 125v1M16.5 136v1M17.5 1v1M17.5 32v1M17.5 49v1M17.5 54v1M17.5 85v1M17.5 95v2M17.5 110v1M17.5 134v1M18.5 10v1M18.5 42v1M18.5 91v1M18.5 94v1M18.5 97v1M18.5 102v2M18.5 109v1M18.5 118v2M18.5 137v1M18.5 143v1M19.5 7v1M19.5 76v1M19.5 87v1M19.5 98v1M19.5 101v1M19.5 117v1M19.5 123v1M19.5 129v1M19.5 140v1M20.5 17v1M20.5 19v1M20.5 25v1M20.5 37v1M20.5 40v1M20.5 42v1M20.5 70v1M20.5 98v1M20.5 102v1M20.5 114v1M20.5 123v1M20.5 125v1M20.5 144v1M20.5 147v1M20.5 149v1M21.5 9v1M21.5 14v1M21.5 25v1M21.5 27v1M21.5 29v1M21.5 45v1M21.5 78v1M21.5 93v1M21.5 100v1M21.5 126v1M21.5 130v1M21.5 133v1M21.5 144v1M21.5 147v1M22.5 6v1M22.5 25v2M22.5 29v1M22.5 37v1M22.5 64v1M22.5 79v1M22.5 82v1M22.5 85v1M22.5 105v2M22.5 109v1M22.5 113v2M22.5 124v1M22.5 131v1M22.5 135v1M22.5 144v1M22.5 146v1M23.5 25v1M23.5 51v1M23.5 76v1M23.5 80v1M23.5 82v1M23.5 97v1M23.5 105v2M23.5 149v1M24.5 10v1M24.5 13v1M24.5 82v1M24.5 84v1M24.5 104v2M24.5 107v1M24.5 116v2M24.5 119v1M24.5 122v1M24.5 149v1M25.5 7v1M25.5 21v1M25.5 33v1M25.5 62v1M25.5 75v1M25.5 86v1M25.5 107v1M25.5 139v1M25.5 146v1M25.5 148v1M26.5 14v1M26.5 18v1M26.5 22v1M26.5 32v1M26.5 50v1M26.5 65v1M26.5 67v1M26.5 80v1M26.5 87v1M26.5 102v1M26.5 106v1M26.5 114v1M26.5 126v1M26.5 149v1M27.5 4v1M27.5 30v2M27.5 51v1M27.5 95v2M27.5 99v1M27.5 119v1M27.5 130v1M27.5 148v2M28.5 4v1M28.5 28v1M28.5 36v1M28.5 59v1M28.5 77v1M28.5 80v2M28.5 85v1M28.5 89v1M28.5 96v1M28.5 104v2M28.5 113v1M28.5 117v1M28.5 121v1M28.5 134v1M29.5 16v1M29.5 26v1M29.5 36v1M29.5 42v1M29.5 44v1M29.5 81v1M29.5 88v1M29.5 140v1M30.5 9v1M30.5 38v1M30.5 40v1M30.5 42v1M30.5 64v1M30.5 84v1M30.5 100v2M30.5 104v1M30.5 118v3M30.5 124v1M30.5 134v1M30.5 136v1M30.5 143v1M31.5 11v1M31.5 20v1M31.5 46v1M31.5 55v1M31.5 76v1M31.5 90v1M31.5 129v1M31.5 146v1M32.5 2v1M32.5 7v1M32.5 19v1M32.5 59v1M32.5 70v1M32.5 89v1M32.5 123v1M32.5 126v1M32.5 137v1M33.5 21v1M33.5 23v1M33.5 46v1M33.5 73v1M33.5 77v1M33.5 81v1M33.5 105v1M33.5 118v1M34.5 49v1M34.5 59v1M34.5 100v1M34.5 104v1M34.5 106v1M34.5 110v1M34.5 121v1M34.5 126v1M34.5 147v1M35.5 4v1M35.5 14v1M35.5 23v1M35.5 71v1M35.5 88v1M35.5 93v1M35.5 97v1M35.5 112v1M35.5 124v1M35.5 132v1M35.5 136v1M35.5 146v2M36.5 42v1M36.5 53v1M36.5 57v1M36.5 103v1M36.5 107v1M36.5 109v1M36.5 130v1M36.5 146v1M37.5 19v1M37.5 30v2M37.5 39v1M37.5 73v1M37.5 91v1M37.5 94v1M37.5 102v1M37.5 106v1M37.5 118v1M37.5 121v1M37.5 125v1M37.5 136v1M37.5 149v1M38.5 18v1M38.5 44v1M38.5 55v1M38.5 64v1M38.5 70v1M38.5 75v1M38.5 78v1M38.5 88v1M38.5 94v1M38.5 97v1M38.5 116v1M38.5 119v2M38.5 123v1M38.5 127v1M38.5 129v2M38.5 132v1M38.5 135v1M39.5 45v2M39.5 66v1M39.5 86v1M39.5 88v1M39.5 90v1M39.5 94v1M39.5 130v1M39.5 133v1M39.5 143v1M40.5 82v1M40.5 91v1M40.5 104v1M40.5 119v1M40.5 123v1M40.5 137v1M41.5 11v1M41.5 14v1M41.5 16v1M41.5 20v1M41.5 27v1M41.5 36v1M41.5 50v2M41.5 57v1M41.5 63v1M41.5 91v1M41.5 116v1M41.5 122v1M41.5 125v2M41.5 132v1M41.5 134v1M41.5 142v1M42.5 14v1M42.5 44v1M42.5 50v1M42.5 62v2M42.5 82v1M42.5 93v1M42.5 97v1M42.5 124v1M42.5 131v2M42.5 141v1M42.5 146v1M43.5 22v1M43.5 68v1M43.5 70v1M43.5 84v2M43.5 89v1M43.5 94v1M43.5 96v1M43.5 100v1M43.5 106v1M43.5 111v1M43.5 117v1M43.5 129v1M43.5 135v1M43.5 138v1M43.5 142v1M43.5 147v1M44.5 10v1M44.5 39v1M44.5 49v1M44.5 94v1M44.5 116v1M44.5 134v1M44.5 136v1M45.5 5v1M45.5 85v1M45.5 104v1M45.5 113v1M45.5 115v1M45.5 127v1M45.5 140v1M45.5 145v3M46.5 16v2M46.5 62v1M46.5 78v1M46.5 98v1M46.5 106v1M46.5 120v1M46.5 124v1M46.5 129v2M46.5 139v1M46.5 147v1M47.5 21v1M47.5 31v1M47.5 51v1M47.5 76v1M47.5 89v1M47.5 96v1M47.5 110v1M47.5 113v1M47.5 115v1M47.5 119v1M48.5 7v2M48.5 18v1M48.5 33v1M48.5 58v2M48.5 80v1M48.5 87v1M48.5 95v1M48.5 117v1M48.5 125v1M48.5 129v1M48.5 143v1M49.5 2v1M49.5 9v1M49.5 17v1M49.5 35v1M49.5 49v1M49.5 66v1M49.5 90v1M49.5 95v1M49.5 122v1M49.5 125v1M49.5 127v1M49.5 129v2M50.5 8v1M50.5 12v1M50.5 17v1M50.5 43v1M50.5 46v1M50.5 64v1M50.5 72v1M50.5 79v1M50.5 90v1M50.5 135v1M50.5 147v1M51.5 7v2M51.5 10v1M51.5 51v1M51.5 62v1M51.5 85v1M51.5 102v2M51.5 110v1M51.5 112v2M51.5 116v1M51.5 129v1M51.5 143v1M52.5 22v1M52.5 25v1M52.5 81v1M52.5 83v1M52.5 105v1M52.5 107v1M52.5 119v1M52.5 127v1M53.5 17v1M53.5 35v1M53.5 46v1M53.5 49v1M53.5 58v1M53.5 83v2M53.5 106v2M53.5 144v1M53.5 147v1M54.5 4v1M54.5 57v1M54.5 60v1M54.5 88v2M54.5 106v3M54.5 117v1M54.5 123v1M54.5 125v1M54.5 127v1M54.5 133v1M54.5 144v1M55.5 7v1M55.5 29v1M55.5 69v1M55.5 85v1M55.5 103v1M55.5 120v2M55.5 143v1M55.5 145v1M56.5 3v1M56.5 6v1M56.5 35v2M56.5 43v1M56.5 60v1M56.5 88v1M56.5 98v1M56.5 109v1M56.5 121v1M56.5 131v1M56.5 139v1M56.5 141v1M56.5 147v1M57.5 0v1M57.5 2v2M57.5 5v1M57.5 62v1M57.5 70v1M57.5 77v1M57.5 79v1M57.5 82v1M57.5 96v1M57.5 123v1M57.5 128v1M57.5 135v1M58.5 0v1M58.5 17v1M58.5 43v1M58.5 62v1M58.5 71v1M58.5 79v2M58.5 83v1M58.5 90v1M58.5 96v1M58.5 110v1M58.5 127v1M58.5 135v1M58.5 144v1M59.5 44v1M59.5 63v1M59.5 87v1M59.5 94v1M59.5 104v1M59.5 109v1M59.5 121v1M59.5 136v1M59.5 138v1M59.5 149v1M60.5 54v1M60.5 73v1M60.5 89v1M60.5 92v1M60.5 104v1M60.5 125v2M60.5 128v1M60.5 147v1M61.5 12v1M61.5 30v1M61.5 43v1M61.5 77v1M61.5 97v1M61.5 114v1M61.5 118v1M61.5 121v1M61.5 125v1M61.5 133v1M61.5 137v1M61.5 149v1M62.5 13v2M62.5 35v1M62.5 81v1M62.5 92v1M62.5 105v1M62.5 112v1M62.5 115v1M62.5 147v1M63.5 17v1M63.5 31v1M63.5 35v1M63.5 54v1M63.5 75v1M63.5 96v1M63.5 98v3M63.5 107v1M63.5 114v1M63.5 118v1M63.5 132v1M64.5 13v1M64.5 28v1M64.5 50v2M64.5 57v1M64.5 86v1M64.5 96v1M64.5 111v1M64.5 115v1M64.5 117v1M64.5 129v1M64.5 134v1M64.5 141v1M64.5 147v1M65.5 9v1M65.5 19v1M65.5 22v1M65.5 42v1M65.5 76v1M65.5 84v1M65.5 88v1M65.5 96v1M65.5 100v1M65.5 110v1M65.5 140v1M65.5 145v1M66.5 4v1M66.5 20v1M66.5 26v1M66.5 59v1M66.5 68v1M66.5 75v1M66.5 85v1M66.5 90v1M66.5 98v1M66.5 120v1M66.5 122v1M66.5 128v1M66.5 141v1M67.5 46v1M67.5 94v1M67.5 124v1M67.5 129v1"/>
<path stroke="#b4cdeb" d="M7.5 12v1M7.5 22v1M7.5 39v1M7.5 41v1M7.5 49v1M7.5 61v1M7.5 68v1M7.5 76v1M7.5 82v1M7.5 108v1M7.5 114v1M7.5 136v2M7.5 147v1M8.5 6v1M8.5 10v1M8.5 14v1M8.5 17v2M8.5 36v1M8.5 38v1M8.5 42v1M8.5 62v1M8.5 66v1M8.5 71v1M8.5 73v1M8.5 79v1M8.5 85v1M8.5 96v2M8.5 100v3M8.5 105v1M8.5 107v1M8.5 115v1M8.5 125v1M8.5 143v1M8.5 148v1M9.5 2v1M9.5 10v1M9.5 12v1M9.5 25v1M9.5 30v1M9.5 38v1M9.5 44v1M9.5 46v1M9.5 52v1M9.5 56v1M9.5 65v1M9.5 71v1M9.5 74v1M9.5 81v1M9.5 91v2M9.5 122v1M10.5 23v1M10.5 25v1M10.5 53v1M10.5 59v1M10.5 63v1M10.5 72v1M10.5 87v1M10.5 123v1M10.5 127v1M11.5 9v2M11.5 16v1M11.5 28v1M11.5 39v1M11.5 50v1M11.5 55v1M11.5 59v1M11.5 63v1M11.5 69v1M11.5 71v2M11.5 79v1M11.5 90v1M11.5 95v1M11.5 97v1M11.5 101v1M11.5 108v1M11.5 126v1M11.5 128v1M11.5 133v1M12.5 0v1M12.5 3v1M12.5 18v2M12.5 25v1M12.5 29v1M12.5 31v1M12.5 37v2M12.5 49v2M12.5 61v2M12.5 72v1M12.5 77v1M12.5 83v1M12.5 94v1M12.5 106v1M12.5 117v2M12.5 121v1M12.5 131v1M12.5 136v1M12.5 149v1M13.5 0v1M13.5 3v1M13.5 24v1M13.5 27v1M13.5 38v1M13.5 40v1M13.5 54v1M13.5 67v1M13.5 70v2M13.5 89v1M13.5 98v1M13.5 106v1M13.5 126v2M13.5 130v1M13.5 135v1M13.5 149v1M14.5 1v1M14.5 9v2M14.5 13v1M14.5 18v1M14.5 26v1M14.5 34v1M14.5 43v1M14.5 46v1M14.5 72v1M14.5 74v1M14.5 76v1M14.5 110v2M14.5 113v1M14.5 122v1M14.5 140v1M15.5 11v3M15.5 22v1M15.5 35v1M15.5 39v1M15.5 68v1M15.5 110v1M15.5 119v1M15.5 127v1M15.5 133v1M15.5 146v1M16.5 2v1M16.5 8v2M16.5 12v1M16.5 17v1M16.5 19v1M16.5 52v3M16.5 59v2M16.5 64v1M16.5 117v1M16.5 119v1M16.5 123v1M16.5 132v1M16.5 137v1M16.5 139v1M16.5 144v1M17.5 11v1M17.5 13v1M17.5 24v2M17.5 27v1M17.5 37v1M17.5 57v1M17.5 63v1M17.5 72v1M17.5 78v1M17.5 86v1M17.5 102v1M17.5 125v1M17.5 135v1M18.5 29v1M18.5 49v2M18.5 61v1M18.5 75v1M18.5 78v1M18.5 96v1M18.5 121v1M18.5 139v1M18.5 144v1M19.5 3v1M19.5 25v1M19.5 32v1M19.5 39v2M19.5 44v1M19.5 58v2M19.5 69v1M19.5 109v1M19.5 119v2M19.5 132v1M19.5 135v1M20.5 1v1M20.5 15v1M20.5 28v1M20.5 35v1M20.5 50v1M20.5 56v1M20.5 72v2M20.5 100v1M20.5 121v1M20.5 135v1M21.5 3v2M21.5 13v1M21.5 17v2M21.5 21v3M21.5 30v1M21.5 32v1M21.5 42v2M21.5 46v1M21.5 50v1M21.5 53v2M21.5 59v1M21.5 66v1M21.5 74v1M21.5 76v1M21.5 85v1M21.5 110v1M21.5 112v1M21.5 116v2M21.5 120v1M21.5 127v1M21.5 145v1M22.5 3v1M22.5 12v2M22.5 17v1M22.5 42v1M22.5 44v1M22.5 59v1M22.5 61v1M22.5 72v1M22.5 75v1M22.5 77v1M22.5 91v1M22.5 99v1M22.5 108v1M22.5 115v1M22.5 120v1M22.5 123v1M22.5 129v1M22.5 138v1M22.5 149v1M23.5 4v1M23.5 6v2M23.5 10v1M23.5 22v1M23.5 24v1M23.5 58v1M23.5 71v1M23.5 113v1M23.5 116v1M23.5 127v1M23.5 135v1M23.5 138v1M24.5 0v1M24.5 6v1M24.5 24v1M24.5 28v1M24.5 32v1M24.5 34v1M24.5 38v1M24.5 47v2M24.5 60v2M24.5 65v1M24.5 69v1M24.5 78v2M24.5 87v1M24.5 102v1M24.5 124v1M24.5 130v1M24.5 135v1M24.5 147v1M25.5 24v1M25.5 35v1M25.5 37v1M25.5 39v2M25.5 60v1M25.5 66v1M25.5 72v1M25.5 81v1M25.5 85v1M25.5 128v1M25.5 135v1M25.5 143v2M26.5 27v1M26.5 40v1M26.5 64v1M26.5 81v1M26.5 85v1M26.5 100v1M26.5 103v1M26.5 105v1M26.5 109v1M26.5 111v1M26.5 125v1M26.5 145v1M27.5 0v1M27.5 6v1M27.5 9v1M27.5 11v2M27.5 46v1M27.5 59v2M27.5 65v2M27.5 75v1M27.5 85v1M27.5 87v1M27.5 91v1M27.5 104v1M27.5 125v1M27.5 135v1M27.5 138v1M27.5 145v1M28.5 7v1M28.5 13v1M28.5 16v1M28.5 38v1M28.5 45v1M28.5 52v2M28.5 56v1M28.5 61v2M28.5 83v1M28.5 97v2M28.5 124v1M28.5 139v1M29.5 4v2M29.5 9v1M29.5 29v1M29.5 34v1M29.5 48v1M29.5 74v1M29.5 82v1M29.5 85v1M29.5 93v1M29.5 128v1M29.5 134v1M29.5 142v1M30.5 0v1M30.5 15v1M30.5 24v1M30.5 30v1M30.5 46v1M30.5 49v1M30.5 81v1M30.5 88v1M30.5 106v1M30.5 113v1M30.5 122v1M30.5 126v1M31.5 15v1M31.5 18v1M31.5 34v1M31.5 38v1M31.5 49v1M31.5 57v1M31.5 64v1M31.5 67v1M31.5 71v1M31.5 80v1M31.5 107v1M31.5 110v1M31.5 113v1M31.5 116v1M31.5 118v1M31.5 130v2M31.5 134v1M32.5 0v1M32.5 11v1M32.5 34v1M32.5 47v1M32.5 53v1M32.5 56v1M32.5 82v1M32.5 84v1M32.5 93v1M32.5 95v1M32.5 103v1M32.5 107v1M32.5 110v1M32.5 121v1M32.5 131v1M33.5 3v1M33.5 6v1M33.5 14v1M33.5 18v2M33.5 41v1M33.5 43v1M33.5 52v1M33.5 64v1M33.5 75v1M33.5 120v2M33.5 124v2M33.5 136v2M34.5 3v2M34.5 6v1M34.5 13v2M34.5 17v1M34.5 40v1M34.5 42v1M34.5 56v1M34.5 68v1M34.5 70v1M34.5 76v2M34.5 82v1M34.5 85v1M34.5 87v1M34.5 94v1M34.5 97v1M34.5 99v1M34.5 111v1M34.5 113v1M34.5 127v1M34.5 137v1M35.5 0v1M35.5 7v1M35.5 11v1M35.5 17v1M35.5 30v1M35.5 42v1M35.5 46v1M35.5 56v1M35.5 58v1M35.5 63v1M35.5 65v2M35.5 68v1M35.5 102v1M35.5 106v1M36.5 9v1M36.5 17v1M36.5 35v1M36.5 38v1M36.5 60v1M36.5 67v1M36.5 70v1M36.5 128v1M36.5 147v1M37.5 1v1M37.5 4v1M37.5 32v1M37.5 35v1M37.5 40v2M37.5 43v1M37.5 47v3M37.5 60v1M37.5 62v1M37.5 70v1M37.5 103v1M37.5 115v2M37.5 124v1M37.5 127v1M37.5 137v1M38.5 16v1M38.5 19v1M38.5 33v1M38.5 37v1M38.5 41v1M38.5 45v1M38.5 51v1M38.5 73v1M38.5 77v1M38.5 84v1M38.5 131v1M38.5 138v2M39.5 2v2M39.5 7v1M39.5 9v1M39.5 13v1M39.5 22v1M39.5 28v1M39.5 30v1M39.5 41v1M39.5 49v1M39.5 54v1M39.5 60v1M39.5 80v1M39.5 104v1M39.5 139v2M39.5 147v1M40.5 9v1M40.5 13v1M40.5 26v1M40.5 29v2M40.5 38v1M40.5 40v1M40.5 45v1M40.5 49v1M40.5 52v1M40.5 57v1M40.5 63v1M40.5 129v1M40.5 140v1M40.5 142v1M41.5 3v1M41.5 6v1M41.5 9v1M41.5 22v2M41.5 29v1M41.5 38v1M41.5 40v1M41.5 46v1M41.5 60v1M41.5 98v1M41.5 133v1M41.5 138v2M42.5 13v1M42.5 20v1M42.5 24v1M42.5 28v3M42.5 40v1M42.5 58v1M42.5 76v1M42.5 104v1M42.5 116v1M42.5 135v1M43.5 1v1M43.5 9v1M43.5 29v1M43.5 40v1M43.5 45v1M43.5 48v1M43.5 52v1M43.5 65v1M43.5 69v1M43.5 71v1M43.5 73v1M43.5 127v2M43.5 148v1M44.5 2v1M44.5 8v1M44.5 15v1M44.5 19v1M44.5 32v1M44.5 41v1M44.5 48v1M44.5 71v4M44.5 125v1M44.5 144v1M45.5 0v1M45.5 16v2M45.5 43v1M45.5 77v1M45.5 86v1M45.5 88v1M45.5 95v1M45.5 101v1M45.5 112v1M45.5 128v2M46.5 1v2M46.5 5v1M46.5 11v2M46.5 15v1M46.5 31v1M46.5 38v1M46.5 53v1M46.5 60v1M46.5 74v1M46.5 82v1M46.5 113v4M46.5 135v1M46.5 143v2M47.5 16v1M47.5 25v1M47.5 27v1M47.5 38v1M47.5 47v1M47.5 87v1M47.5 98v1M47.5 139v1M48.5 6v1M48.5 24v1M48.5 35v1M48.5 51v1M48.5 60v1M48.5 62v2M48.5 72v1M48.5 83v1M48.5 85v2M48.5 91v1M48.5 107v1M48.5 119v1M48.5 134v1M48.5 137v1M48.5 140v1M48.5 144v1M49.5 18v1M49.5 27v1M49.5 36v1M49.5 38v1M49.5 41v1M49.5 44v1M49.5 51v1M49.5 62v1M49.5 64v1M49.5 76v1M49.5 85v1M49.5 98v1M49.5 100v1M49.5 118v1M49.5 123v2M49.5 136v1M49.5 142v1M49.5 147v1M50.5 9v1M50.5 14v2M50.5 23v1M50.5 27v1M50.5 44v2M50.5 49v2M50.5 56v2M50.5 67v1M50.5 86v1M50.5 103v1M50.5 111v1M50.5 118v1M50.5 125v1M50.5 132v1M50.5 136v1M50.5 138v2M50.5 145v1M51.5 9v1M51.5 11v1M51.5 15v1M51.5 24v1M51.5 26v1M51.5 30v1M51.5 38v1M51.5 42v1M51.5 63v1M51.5 75v2M51.5 78v1M51.5 94v2M51.5 99v1M51.5 111v1M51.5 117v1M51.5 130v1M52.5 0v1M52.5 3v1M52.5 5v1M52.5 12v1M52.5 30v1M52.5 54v1M52.5 59v1M52.5 62v1M52.5 70v1M52.5 73v1M52.5 103v1M52.5 111v1M52.5 121v1M52.5 143v1M52.5 147v1M53.5 2v1M53.5 6v1M53.5 9v1M53.5 11v1M53.5 15v1M53.5 26v2M53.5 40v1M53.5 42v3M53.5 56v1M53.5 65v2M53.5 88v1M53.5 96v1M53.5 98v1M53.5 108v1M53.5 112v1M53.5 137v1M53.5 149v1M54.5 1v1M54.5 17v1M54.5 23v1M54.5 34v1M54.5 45v1M54.5 62v2M54.5 66v1M54.5 73v1M54.5 82v1M54.5 85v1M54.5 96v1M54.5 146v1M54.5 149v1M55.5 2v1M55.5 10v1M55.5 22v1M55.5 26v1M55.5 52v1M55.5 56v1M55.5 63v1M55.5 66v1M55.5 80v1M55.5 92v1M55.5 109v1M55.5 126v1M55.5 137v1M55.5 144v1M55.5 149v1M56.5 5v1M56.5 17v1M56.5 26v1M56.5 40v1M56.5 42v1M56.5 72v3M56.5 106v1M56.5 128v1M56.5 134v1M56.5 142v1M57.5 17v1M57.5 20v1M57.5 25v1M57.5 32v1M57.5 37v2M57.5 52v1M57.5 68v1M57.5 74v1M57.5 88v1M57.5 91v1M57.5 100v1M57.5 116v1M57.5 121v1M57.5 124v1M57.5 126v1M57.5 133v1M57.5 142v1M58.5 29v1M58.5 34v1M58.5 42v1M58.5 53v1M58.5 56v1M58.5 60v1M58.5 74v3M58.5 92v1M58.5 100v1M58.5 123v1M58.5 133v1M58.5 137v1M58.5 143v1M59.5 0v1M59.5 6v1M59.5 9v1M59.5 13v2M59.5 19v1M59.5 37v1M59.5 54v1M59.5 56v1M59.5 76v1M59.5 88v1M59.5 91v1M59.5 97v1M59.5 113v2M60.5 4v1M60.5 7v1M60.5 12v1M60.5 14v1M60.5 20v1M60.5 23v1M60.5 51v1M60.5 64v1M60.5 67v1M60.5 101v1M60.5 103v1M60.5 117v1M60.5 122v3M60.5 127v1M60.5 131v1M60.5 134v1M61.5 6v2M61.5 27v1M61.5 29v1M61.5 53v1M61.5 57v1M61.5 64v1M61.5 70v1M61.5 84v1M61.5 104v1M61.5 124v1M61.5 147v1M62.5 6v1M62.5 11v2M62.5 17v1M62.5 21v1M62.5 32v1M62.5 37v1M62.5 67v1M62.5 94v1M62.5 130v2M62.5 142v1M63.5 1v1M63.5 10v1M63.5 23v1M63.5 37v1M63.5 41v1M63.5 45v1M63.5 49v1M63.5 51v1M63.5 61v1M63.5 64v1M63.5 87v2M63.5 104v2M63.5 113v1M63.5 115v1M63.5 121v1M63.5 127v1M64.5 14v1M64.5 16v1M64.5 29v1M64.5 37v1M64.5 42v1M64.5 49v1M64.5 73v1M64.5 82v1M64.5 84v1M64.5 145v1M65.5 16v1M65.5 39v1M65.5 47v3M65.5 62v1M65.5 64v2M65.5 108v1M65.5 129v1M65.5 137v1M65.5 139v1M66.5 1v1M66.5 9v1M66.5 14v1M66.5 18v1M66.5 52v2M66.5 57v1M66.5 71v1M66.5 99v1M66.5 117v1M66.5 143v1M66.5 148v1M67.5 18v1M67.5 34v1M67.5 51v1M67.5 71v1M67.5 75v1M67.5 77v1M67.5 80v1M67.5 85v1M67.5 88v1M67.5 105v1M67.5 111v1M67.5 114v1M67.5 123v1"/>
<path stroke="#dce6f0" d="M7.5 31v1M7.5 38v1M7.5 94v1M7.5 130v1M8.5 9v1M8.5 12v1M8.5 16v1M8.5 24v1M8.5 57v1M8.5 88v1M8.5 103v1M9.5 60v1M9.5 64v1M9.5 72v1M9.5 112v1M10.5 1v1M10.5 21v2M10.5 54v1M10.5 101v1M10.5 119v1M10.5 128v1M10.5 133v1M10.5 135v1M11.5 70v1M11.5 130v1M12.5 27v1M12.5 66v1M12.5 126v1M13.5 10v1M13.5 16v1M13.5 26v1M13.5 83v1M13.5 116v1M13.5 131v1M13.5 139v2M14.5 20v1M14.5 68v1M14.5 88v1M14.5 100v1M14.5 142v1M15.5 23v1M15.5 34v1M15.5 50v1M15.5 65v1M15.5 86v1M15.5 90v1M15.5 107v1M15.5 123v1M15.5 125v1M16.5 24v1M16.5 91v1M16.5 113v1M16.5 121v1M17.5 66v1M17.5 122v1M17.5 129v1M18.5 7v1M18.5 11v1M18.5 51v1M18.5 82v1M18.5 115v1M18.5 133v1M18.5 149v1M19.5 19v1M19.5 28v1M19.5 100v1M19.5 138v1M20.5 34v1M20.5 115v1M20.5 122v1M20.5 134v1M21.5 15v1M21.5 38v1M21.5 132v1M22.5 40v1M22.5 54v1M22.5 78v1M22.5 118v2M22.5 133v1M23.5 52v1M23.5 70v1M23.5 91v1M23.5 95v1M23.5 128v1M23.5 131v1M23.5 136v1M23.5 139v1M24.5 15v1M24.5 29v2M24.5 81v1M24.5 85v1M24.5 94v1M24.5 143v1M24.5 148v1M25.5 45v1M25.5 92v1M25.5 123v1M26.5 1v1M26.5 5v1M26.5 55v1M26.5 62v1M26.5 70v1M26.5 95v1M26.5 110v1M26.5 123v1M26.5 140v1M27.5 80v1M27.5 82v1M27.5 86v1M27.5 97v1M27.5 102v1M27.5 117v1M27.5 129v1M28.5 25v2M28.5 58v1M28.5 70v1M28.5 73v1M28.5 79v1M28.5 128v1M28.5 144v1M29.5 11v1M29.5 31v1M29.5 40v2M29.5 66v1M29.5 113v1M29.5 119v1M29.5 126v1M29.5 135v1M30.5 6v1M30.5 20v1M30.5 37v1M30.5 78v1M30.5 98v1M30.5 108v1M30.5 149v1M31.5 10v1M31.5 39v1M31.5 59v1M31.5 61v1M31.5 70v1M31.5 135v1M32.5 4v1M32.5 28v1M32.5 76v1M32.5 90v1M32.5 132v1M32.5 136v1M32.5 142v1M32.5 144v1M32.5 146v1M33.5 17v1M33.5 82v1M33.5 87v1M34.5 83v1M34.5 117v1M35.5 39v1M35.5 99v1M35.5 107v1M35.5 110v1M35.5 125v1M35.5 131v1M36.5 1v1M36.5 12v1M36.5 85v1M36.5 90v1M36.5 117v1M36.5 119v1M36.5 136v1M37.5 78v1M37.5 90v1M37.5 92v1M37.5 100v1M37.5 113v1M38.5 46v1M38.5 57v1M38.5 82v1M38.5 113v1M38.5 149v1M39.5 61v1M39.5 73v2M39.5 95v1M40.5 77v1M40.5 80v1M40.5 92v1M40.5 120v1M40.5 134v1M40.5 146v1M41.5 17v1M41.5 71v1M41.5 84v1M41.5 86v1M41.5 114v2M41.5 118v1M41.5 131v1M42.5 19v1M42.5 43v1M42.5 110v1M42.5 119v1M42.5 133v1M43.5 5v1M43.5 37v1M43.5 83v1M43.5 90v1M43.5 103v1M43.5 130v1M44.5 4v1M44.5 12v1M44.5 31v1M44.5 78v1M44.5 97v1M44.5 124v1M44.5 129v1M44.5 143v1M45.5 18v1M45.5 48v1M45.5 64v1M45.5 123v2M45.5 144v1M46.5 36v1M46.5 70v1M46.5 99v1M47.5 5v1M47.5 114v1M47.5 137v1M48.5 15v1M48.5 19v1M48.5 112v1M49.5 4v1M49.5 31v1M49.5 61v1M49.5 73v1M49.5 77v1M49.5 81v1M49.5 97v1M49.5 103v1M49.5 109v1M50.5 0v1M50.5 24v1M50.5 32v1M50.5 101v1M50.5 113v1M50.5 117v1M51.5 57v1M51.5 92v1M51.5 96v1M51.5 139v1M51.5 141v1M52.5 37v1M52.5 49v1M52.5 90v1M52.5 113v1M52.5 115v1M52.5 123v1M52.5 138v1M53.5 3v1M53.5 7v1M53.5 14v1M53.5 101v1M54.5 6v1M54.5 22v1M54.5 43v1M54.5 71v2M54.5 93v1M54.5 131v1M54.5 138v1M54.5 140v1M54.5 145v1M55.5 3v1M55.5 20v1M55.5 36v1M55.5 54v1M55.5 68v1M55.5 75v1M55.5 108v1M55.5 122v1M55.5 124v1M55.5 131v1M56.5 15v1M56.5 19v2M56.5 115v1M57.5 26v1M57.5 40v1M57.5 63v1M57.5 72v1M57.5 86v1M57.5 89v1M57.5 104v1M57.5 141v1M58.5 8v1M58.5 23v2M58.5 27v1M58.5 61v1M58.5 87v2M58.5 108v2M58.5 115v1M58.5 131v1M58.5 149v1M59.5 42v1M59.5 47v2M59.5 79v1M59.5 134v1M59.5 137v1M59.5 144v1M60.5 28v1M60.5 59v1M60.5 62v2M60.5 77v1M60.5 99v2M60.5 113v1M60.5 143v1M61.5 15v1M61.5 23v1M61.5 96v1M61.5 98v1M61.5 107v1M61.5 115v1M61.5 119v1M62.5 23v1M62.5 46v1M62.5 69v1M62.5 84v1M62.5 89v1M62.5 96v1M62.5 100v2M62.5 107v1M63.5 29v1M63.5 55v1M63.5 60v1M63.5 71v1M63.5 125v1M63.5 129v1M63.5 135v1M63.5 137v2M63.5 143v1M64.5 25v1M64.5 30v1M64.5 68v1M64.5 88v1M64.5 90v1M64.5 99v1M64.5 102v1M64.5 113v1M64.5 131v1M64.5 148v1M65.5 20v1M65.5 50v1M65.5 87v1M65.5 117v1M65.5 121v1M66.5 2v1M66.5 33v1M66.5 38v1M66.5 61v1M66.5 66v1M66.5 69v1M66.5 72v1M66.5 149v1M67.5 59v1M67.5 62v1M67.5 76v1M67.5 106v1M67.5 119v1M67.5 128v1M67.5 136v1M67.5 148v1"/>
<path stroke="#e6a08c" d="M7.5 80v1M7.5 86v1M7.5 112v1M8.5 78v1M8.5 139v1M9.5 119v1M9.5 130v1M9.5 137v1M9.5 140v1M10.5 84v1M10.5 94v2M10.5 103v1M11.5 75v1M11.5 87v1M11.5 105v1M11.5 111v1M11.5 148v1M12.5 82v1M12.5 91v1M12.5 95v1M12.5 101v1M12.5 108v1M12.5 120v1M12.5 138v1M13.5 76v1M13.5 78v1M14.5 97v1M14.5 101v1M14.5 144v1M15.5 89v1M15.5 95v1M15.5 124v1M16.5 100v1M16.5 122v1M17.5 77v1M17.5 88v1M17.5 114v1M17.5 118v1M17.5 131v1M17.5 142v1M18.5 114v1M19.5 130v1M20.5 96v1M20.5 119v1M20.5 129v1M20.5 142v2M21.5 81v1M21.5 89v1M21.5 91v1M21.5 98v1M21.5 114v1M21.5 124v1M21.5 137v1M22.5 76v1M22.5 81v1M22.5 130v1M23.5 78v1M23.5 92v2M23.5 146v1M24.5 92v1M24.5 101v1M24.5 106v1M24.5 127v1M24.5 136v1M24.5 144v1M25.5 110v1M25.5 113v1M25.5 131v1M25.5 147v1M26.5 75v1M26.5 89v1M26.5 113v1M26.5 117v1M26.5 120v1M26.5 137v1M26.5 148v1M27.5 98v1M27.5 141v1M28.5 78v1M28.5 122v1M28.5 143v1M29.5 77v1M29.5 86v1M29.5 104v1M29.5 106v1M29.5 114v1M29.5 136v1M29.5 144v1M30.5 91v1M30.5 110v2M30.5 121v1M31.5 77v1M31.5 95v2M31.5 99v1M31.5 109v1M31.5 112v1M31.5 120v1M31.5 122v1M31.5 133v1M31.5 139v1M32.5 104v1M32.5 115v1M32.5 134v1M32.5 148v1M33.5 76v1M33.5 94v1M33.5 146v1M34.5 75v1M34.5 109v1M34.5 116v1M34.5 145v1M35.5 133v1M35.5 142v1M36.5 111v1M36.5 141v1M36.5 143v2M36.5 149v1M37.5 83v1M37.5 85v1M37.5 133v2M37.5 139v1M37.5 146v1M38.5 87v1M38.5 89v1M38.5 133v1M39.5 77v1M39.5 83v1M39.5 97v1M39.5 103v1M39.5 111v1M39.5 124v1M40.5 95v2M40.5 144v1M41.5 76v1M41.5 80v1M41.5 82v1M41.5 103v1M41.5 127v1M42.5 102v1M42.5 145v1M42.5 149v1M43.5 115v1M43.5 146v1M44.5 79v1M44.5 92v1M44.5 98v1M44.5 102v1M44.5 104v1M44.5 107v1M44.5 113v1M44.5 119v1M44.5 133v1M44.5 137v1M44.5 142v1M45.5 81v1M45.5 99v1M45.5 120v1M45.5 138v1M46.5 77v1M47.5 83v1M47.5 86v1M47.5 92v1M47.5 107v1M47.5 141v1M48.5 75v1M48.5 98v1M48.5 106v1M49.5 88v1M49.5 116v1M50.5 96v1M50.5 143v1M51.5 77v1M51.5 81v1M51.5 97v1M51.5 107v2M51.5 134v1M52.5 76v1M52.5 78v1M52.5 92v1M53.5 87v1M53.5 90v1M53.5 92v1M53.5 100v1M53.5 128v2M54.5 95v1M54.5 101v1M54.5 105v1M54.5 119v1M55.5 78v1M55.5 97v1M55.5 102v1M55.5 107v1M55.5 117v1M55.5 135v2M55.5 139v1M56.5 83v1M56.5 95v1M56.5 108v1M56.5 123v2M56.5 135v1M56.5 143v1M56.5 146v1M57.5 78v1M57.5 102v1M57.5 110v1M58.5 95v1M58.5 107v1M58.5 122v1M58.5 124v1M58.5 138v1M58.5 147v1M59.5 98v1M59.5 126v1M60.5 76v1M60.5 82v1M60.5 84v1M60.5 94v1M60.5 96v1M60.5 112v1M60.5 130v1M60.5 140v1M60.5 145v1M61.5 80v1M61.5 89v1M61.5 105v1M61.5 122v1M61.5 129v1M61.5 131v1M62.5 117v1M62.5 133v1M63.5 89v1M63.5 131v1M63.5 140v1M64.5 79v1M64.5 106v1M64.5 114v1M64.5 122v1M66.5 91v2M66.5 121v1M66.5 124v1M66.5 133v1M66.5 144v2M67.5 90v1M67.5 93v1"/>
<path stroke="#cd6e6e" d="M7.5 99v1M7.5 123v1M7.5 139v2M7.5 143v1M8.5 89v1M8.5 95v1M8.5 99v1M8.5 114v1M8.5 126v1M8.5 133v1M8.5 138v1M9.5 76v1M9.5 79v1M9.5 82v1M9.5 89v1M9.5 104v2M9.5 131v1M9.5 148v1M10.5 82v1M10.5 86v1M10.5 96v1M10.5 99v1M10.5 113v1M10.5 139v2M10.5 143v1M10.5 145v1M11.5 76v1M11.5 89v1M11.5 92v2M11.5 100v1M11.5 143v1M12.5 90v1M12.5 105v1M12.5 109v1M12.5 129v1M13.5 85v1M13.5 91v1M13.5 104v1M13.5 119v1M13.5 121v2M13.5 133v1M13.5 138v1M14.5 109v1M14.5 112v1M14.5 123v2M14.5 143v1M15.5 84v1M15.5 109v1M15.5 111v1M15.5 113v2M15.5 132v1M15.5 149v1M16.5 82v1M16.5 93v1M16.5 95v1M16.5 104v1M16.5 107v1M16.5 118v1M16.5 126v1M16.5 131v1M16.5 133v1M17.5 76v1M17.5 92v2M17.5 100v1M17.5 106v1M17.5 108v1M17.5 111v1M17.5 113v1M17.5 120v1M17.5 128v1M17.5 130v1M17.5 144v1M18.5 80v1M18.5 87v1M18.5 98v2M18.5 140v1M19.5 75v1M19.5 77v1M19.5 89v1M19.5 104v1M19.5 106v1M19.5 111v1M19.5 115v1M19.5 125v1M19.5 134v1M19.5 147v1M19.5 149v1M20.5 77v1M20.5 92v1M20.5 94v1M20.5 109v1M20.5 127v1M20.5 148v1M21.5 84v1M21.5 86v1M21.5 105v1M21.5 108v2M21.5 121v1M21.5 131v1M21.5 138v1M22.5 88v1M22.5 92v1M22.5 98v1M22.5 104v1M22.5 111v2M22.5 116v1M23.5 79v1M23.5 90v1M23.5 98v1M23.5 109v1M23.5 114v1M23.5 119v1M23.5 142v1M24.5 80v1M24.5 83v1M24.5 88v1M24.5 90v1M24.5 103v1M24.5 113v2M24.5 118v1M24.5 132v1M24.5 134v1M24.5 140v1M25.5 83v1M25.5 103v1M25.5 109v1M25.5 111v1M25.5 117v1M25.5 121v1M25.5 149v1M26.5 76v1M26.5 79v1M26.5 88v1M26.5 92v1M26.5 121v1M27.5 88v1M27.5 109v2M27.5 133v2M27.5 142v1M28.5 76v1M28.5 91v3M28.5 95v1M28.5 100v1M28.5 106v1M28.5 125v1M28.5 127v1M28.5 130v1M28.5 138v1M28.5 146v1M29.5 75v1M29.5 122v1M29.5 125v1M29.5 129v1M29.5 139v1M29.5 149v1M30.5 87v1M30.5 92v2M30.5 112v1M30.5 117v1M30.5 128v1M30.5 131v1M30.5 133v1M30.5 138v1M30.5 141v1M30.5 147v1M31.5 78v1M31.5 93v1M31.5 115v1M31.5 132v1M31.5 144v1M32.5 75v1M32.5 81v1M32.5 97v1M32.5 116v1M32.5 125v1M33.5 88v3M33.5 98v2M33.5 101v2M33.5 108v1M33.5 128v2M33.5 144v1M33.5 148v1M34.5 115v1M34.5 119v1M34.5 124v1M34.5 129v1M34.5 131v1M34.5 142v3M34.5 149v1M35.5 78v1M35.5 90v1M35.5 113v1M35.5 138v1M36.5 75v2M36.5 82v1M36.5 87v1M36.5 114v1M36.5 139v1M36.5 142v1M37.5 86v1M37.5 88v1M37.5 105v1M37.5 109v1M37.5 114v1M37.5 117v1M37.5 128v1M37.5 148v1M38.5 98v1M38.5 102v1M38.5 104v1M38.5 107v1M38.5 122v1M38.5 126v1M38.5 136v1M38.5 140v1M38.5 146v2M39.5 75v1M39.5 79v1M39.5 81v1M39.5 85v1M39.5 102v1M39.5 116v1M39.5 131v1M39.5 142v1M40.5 88v2M40.5 102v1M40.5 107v1M40.5 122v1M40.5 128v1M40.5 131v2M41.5 83v1M41.5 93v1M41.5 100v1M41.5 111v1M41.5 113v1M41.5 137v1M42.5 77v1M42.5 86v1M42.5 98v1M42.5 100v1M42.5 108v1M42.5 134v1M43.5 78v1M43.5 86v1M43.5 101v1M43.5 105v1M43.5 110v1M43.5 124v1M43.5 131v1M43.5 141v1M44.5 86v1M44.5 88v1M44.5 99v1M44.5 112v1M44.5 114v1M44.5 127v1M44.5 138v1M44.5 145v1M44.5 148v1M45.5 75v1M45.5 78v1M45.5 87v1M45.5 97v1M45.5 108v1M45.5 121v2M45.5 132v1M45.5 139v1M46.5 103v1M46.5 107v1M46.5 121v2M46.5 128v1M46.5 132v1M46.5 146v1M47.5 100v1M47.5 103v1M47.5 117v1M47.5 121v1M47.5 128v1M47.5 130v1M47.5 136v1M47.5 140v1M47.5 144v1M48.5 78v1M48.5 81v1M48.5 102v1M48.5 130v2M48.5 136v1M49.5 94v1M49.5 106v1M49.5 117v1M49.5 120v1M49.5 135v1M49.5 139v1M49.5 149v1M50.5 82v1M50.5 84v1M50.5 105v1M50.5 127v1M50.5 148v1M51.5 83v1M51.5 101v1M51.5 106v1M51.5 119v1M51.5 124v1M51.5 126v1M51.5 142v1M51.5 149v1M52.5 93v1M52.5 95v2M52.5 109v1M52.5 135v1M52.5 137v1M52.5 142v1M52.5 149v1M53.5 81v1M53.5 97v1M53.5 103v1M53.5 117v1M53.5 122v2M53.5 126v2M53.5 145v1M53.5 148v1M54.5 90v1M54.5 116v1M54.5 137v1M55.5 76v1M55.5 133v1M55.5 138v1M55.5 141v1M56.5 77v1M56.5 84v1M56.5 91v1M56.5 100v1M56.5 104v1M56.5 107v1M56.5 120v1M57.5 76v1M57.5 92v1M57.5 129v1M57.5 131v1M57.5 145v1M58.5 94v1M58.5 103v1M58.5 105v1M58.5 113v2M58.5 125v1M58.5 141v1M58.5 145v1M59.5 78v1M59.5 85v2M59.5 119v2M59.5 130v1M59.5 143v1M60.5 87v1M60.5 97v1M60.5 110v1M60.5 118v2M60.5 136v1M60.5 142v1M60.5 146v1M61.5 79v1M61.5 86v1M61.5 101v1M61.5 110v1M61.5 127v1M61.5 132v1M61.5 139v1M62.5 75v1M62.5 79v1M62.5 86v1M62.5 90v1M62.5 102v1M62.5 114v1M62.5 122v1M62.5 139v1M62.5 146v1M63.5 81v1M63.5 103v1M63.5 133v1M63.5 145v1M63.5 147v1M64.5 76v1M64.5 104v1M64.5 107v1M64.5 121v1M64.5 127v1M64.5 136v1M65.5 79v1M65.5 86v1M65.5 93v1M65.5 95v1M65.5 97v1M65.5 111v1M65.5 122v1M65.5 138v1M65.5 142v2M66.5 77v1M66.5 82v1M66.5 84v1M66.5 94v1M66.5 97v1M66.5 108v1M66.5 123v1M66.5 137v1M67.5 82v1M67.5 118v1M67.5 131v1M67.5 135v1M67.5 142v1M67.5 147v1M67.5 149v1"/>
</g>
<path d="M24.45 14.5V127.5M26.31 14.5V127.5M28.16 14.5V127.5M30.01 14.5V127.5M31.86 14.5V127.5M33.72 14.5V127.5M35.57 14.5V127.5M37.42 14.5V127.5M39.28 14.5V127.5M41.13 14.5V127.5M42.98 14.5V127.5M44.84 14.5V127.5M46.69 14.5V127.5M48.54 14.5V127.5M50.39 14.5V127.5M52.25 14.5V127.5M54.1 14.5V127.5M55.95 14.5V127.5M57.81 14.5V127.5M59.66 14.5V127.5M61.51 14.5V127.5M63.36 14.5V127.5M65.22 14.5V127.5M67.07 14.5V127.5M68.92 14.5V127.5M70.78 14.5V127.5M72.63 14.5V127.5M74.48 14.5V127.5M76.34 14.5V127.5M78.19 14.5V127.5M80.04 14.5V127.5M81.89 14.5V127.5M83.75 14.5V127.5M85.6 14.5V127.5M87.45 14.5V127.5M89.31 14.5V127.5M91.16 14.5V127.5M93.01 14.5V127.5M94.86 14.5V127.5M96.72 14.5V127.5M98.57 14.5V127.5M100.42 14.5V127.5M102.28 14.5V127.5M104.13 14.5V127.5M105.98 14.5V127.5M107.84 14.5V127.5M109.69 14.5V127.5M111.54 14.5V127.5M113.39 14.5V127.5M115.25 14.5V127.5M117.1 14.5V127.5M118.95 14.5V127.5M120.81 14.5V127.5M122.66 14.5V127.5M124.51 14.5V127.5M126.36 14.5V127.5M128.22 14.5V127.5M130.07 14.5V127.5M131.92 14.5V127.5M133.78 14.5V127.5M135.63 14.5V127.5M137.48 14.5V127.5M139.34 14.5V127.5M141.19 14.5V127.5M143.04 14.5V127.5M144.89 14.5V127.5M146.75 14.5V127.5" stroke="#fff" stroke-opacity="0.22" stroke-width="0.4"/>
</g>
<rect x="22.6" y="12" width="12.97" height="2.1" fill="#1F76BE"/>
<rect x="35.57" y="12" width="113.03" height="2.1" fill="#AA2A2A"/>
<path d="M24.45 12v2.1M26.31 12v2.1M28.16 12v2.1M30.01 12v2.1M31.86 12v2.1M33.72 12v2.1M35.57 12v2.1M37.42 12v2.1M39.28 12v2.1M41.13 12v2.1M42.98 12v2.1M44.84 12v2.1M46.69 12v2.1M48.54 12v2.1M50.39 12v2.1M52.25 12v2.1M54.1 12v2.1M55.95 12v2.1M57.81 12v2.1M59.66 12v2.1M61.51 12v2.1M63.36 12v2.1M65.22 12v2.1M67.07 12v2.1M68.92 12v2.1M70.78 12v2.1M72.63 12v2.1M74.48 12v2.1M76.34 12v2.1M78.19 12v2.1M80.04 12v2.1M81.89 12v2.1M83.75 12v2.1M85.6 12v2.1M87.45 12v2.1M89.31 12v2.1M91.16 12v2.1M93.01 12v2.1M94.86 12v2.1M96.72 12v2.1M98.57 12v2.1M100.42 12v2.1M102.28 12v2.1M104.13 12v2.1M105.98 12v2.1M107.84 12v2.1M109.69 12v2.1M111.54 12v2.1M113.39 12v2.1M115.25 12v2.1M117.1 12v2.1M118.95 12v2.1M120.81 12v2.1M122.66 12v2.1M124.51 12v2.1M126.36 12v2.1M128.22 12v2.1M130.07 12v2.1M131.92 12v2.1M133.78 12v2.1M135.63 12v2.1M137.48 12v2.1M139.34 12v2.1M141.19 12v2.1M143.04 12v2.1M144.89 12v2.1M146.75 12v2.1" stroke="#fff" stroke-opacity="0.35" stroke-width="0.3"/>
<text x="151.9" y="22.2" font-size="4.5" fill="#222" font-weight="bold">group</text>
<rect x="151.9" y="23.8" width="6.2" height="5.2" fill="#1F76BE"/>
<rect x="151.9" y="29" width="6.2" height="5.3" fill="#AA2A2A"/>
<text x="159.7" y="28.2" font-size="4.5" fill="#111" stroke="#111" stroke-width="0.12">normal</text>
<text x="159.7" y="33.4" font-size="4.5" fill="#111" stroke="#111" stroke-width="0.12">tumor</text>
<defs><linearGradient id="gA" x1="0" y1="1" x2="0" y2="0"><stop offset="0.000" stop-color="#4575B4"/><stop offset="0.167" stop-color="#91BFDB"/><stop offset="0.333" stop-color="#E0F3F8"/><stop offset="0.500" stop-color="#FFFFBF"/><stop offset="0.667" stop-color="#FEE090"/><stop offset="0.833" stop-color="#FC8D59"/><stop offset="1.000" stop-color="#D73027"/></linearGradient></defs>
<rect x="151.9" y="44" width="6.2" height="68" fill="url(#gA)"/>
<text x="159.8" y="46.1" font-size="4.7" fill="#111" stroke="#111" stroke-width="0.15">2</text>
<text x="159.8" y="59.3" font-size="4.7" fill="#111" stroke="#111" stroke-width="0.15">1.5</text>
<text x="159.8" y="72.5" font-size="4.7" fill="#111" stroke="#111" stroke-width="0.15">1</text>
<text x="159.8" y="85.7" font-size="4.7" fill="#111" stroke="#111" stroke-width="0.15">0.5</text>
<text x="159.8" y="98.9" font-size="4.7" fill="#111" stroke="#111" stroke-width="0.15">0</text>
<text x="159.8" y="112.1" font-size="4.7" fill="#111" stroke="#111" stroke-width="0.15">−0.5</text>
<text x="272.1" y="12.3" font-size="7.15" text-anchor="middle" fill="#111" font-family="'Liberation Serif', 'Times New Roman', serif" stroke="#111" stroke-width="0.15">Cluster Dendrogram</text>
<line x1="198.2" y1="17.5" x2="198.2" y2="97.9" stroke="#555" stroke-width="0.45"/>
<line x1="195.9" y1="17.5" x2="198.2" y2="17.5" stroke="#555" stroke-width="0.45"/>
<text x="192.2" y="17.5" font-size="3.6" text-anchor="middle" fill="#333" transform="rotate(-90 192.2 17.5)">1.0</text>
<line x1="195.9" y1="30.9" x2="198.2" y2="30.9" stroke="#555" stroke-width="0.45"/>
<text x="192.2" y="30.9" font-size="3.6" text-anchor="middle" fill="#333" transform="rotate(-90 192.2 30.9)">0.9</text>
<line x1="195.9" y1="44.3" x2="198.2" y2="44.3" stroke="#555" stroke-width="0.45"/>
<text x="192.2" y="44.3" font-size="3.6" text-anchor="middle" fill="#333" transform="rotate(-90 192.2 44.3)">0.8</text>
<line x1="195.9" y1="57.7" x2="198.2" y2="57.7" stroke="#555" stroke-width="0.45"/>
<text x="192.2" y="57.7" font-size="3.6" text-anchor="middle" fill="#333" transform="rotate(-90 192.2 57.7)">0.7</text>
<line x1="195.9" y1="71.1" x2="198.2" y2="71.1" stroke="#555" stroke-width="0.45"/>
<text x="192.2" y="71.1" font-size="3.6" text-anchor="middle" fill="#333" transform="rotate(-90 192.2 71.1)">0.6</text>
<line x1="195.9" y1="84.5" x2="198.2" y2="84.5" stroke="#555" stroke-width="0.45"/>
<text x="192.2" y="84.5" font-size="3.6" text-anchor="middle" fill="#333" transform="rotate(-90 192.2 84.5)">0.5</text>
<line x1="195.9" y1="97.9" x2="198.2" y2="97.9" stroke="#555" stroke-width="0.45"/>
<text x="192.2" y="97.9" font-size="3.6" text-anchor="middle" fill="#333" transform="rotate(-90 192.2 97.9)">0.4</text>
<text x="183.3" y="67" font-size="4.6" text-anchor="middle" fill="#222" transform="rotate(-90 183.3 67)">Height</text>
<path d="M204.8 22.33V103.2M206.42 29.34V103.2M208.04 34.62V103.2M209.66 39.21V103.2M211.28 43.39V103.2M212.9 47.28V103.2M214.52 50.95V103.2M216.14 20V103.2M217.76 20V103.2M219.38 20V103.2M221 20V103.2M222.62 20V103.2M224.24 20V103.2M225.86 20V103.2M227.48 20V103.2M229.1 20V103.2M230.72 20V103.2M232.34 20V103.2M233.96 20V103.2M235.58 20V103.2M237.2 20V103.2M238.82 20V103.2M240.44 20V103.2M242.06 20V103.2M243.68 20V103.2M245.3 20V103.2M246.92 20V103.2M248.54 20V103.2M250.16 20V103.2M251.78 20V103.2M253.4 20V103.2M255.02 20.01V103.2M256.64 20.04V103.2M258.26 20.07V103.2M259.88 20.11V103.2M261.5 20.14V103.2M263.12 20.17V103.2M264.74 20.2V103.2M266.36 20.23V103.2M267.98 20.27V103.2M269.6 20.3V103.2M271.22 20.33V103.2M272.84 20.36V103.2M274.46 20.4V103.2M276.08 20.43V103.2M277.7 20.46V103.2M279.32 20.51V103.2M280.94 21.05V103.2M282.56 22.13V103.2M284.18 23.68V103.2M285.8 25.66V103.2M287.42 28.05V103.2M289.04 30.83V103.2M290.66 33.99V103.2M292.28 37.51V103.2M293.9 41.38V103.2M295.52 45.59V103.2M297.14 50.14V103.2M298.76 55.02V103.2M300.38 21.51V103.2M302 21.64V103.2M303.62 21.9V103.2M305.24 22.27V103.2M306.86 22.75V103.2M308.48 23.34V103.2M310.1 24.03V103.2M311.72 24.83V103.2M313.34 25.74V103.2M314.96 26.75V103.2M316.58 27.86V103.2M318.2 29.07V103.2M319.82 30.37V103.2M321.44 31.78V103.2M323.06 33.29V103.2M324.68 34.89V103.2M326.3 36.58V103.2M327.92 38.38V103.2M329.54 40.27V103.2M331.16 42.25V103.2M332.78 44.33V103.2M334.4 46.5V103.2M336.02 48.76V103.2M337.64 51.12V103.2M339.26 53.56V103.2M340.88 56.11V103.2M342.5 58.74V103.2M344.12 61.46V103.2M345.74 64.28V103.2M347.36 67.18V103.2M348.98 70.18V103.2M350.6 73.26V103.2" stroke="#d8d8d8" stroke-width="0.35" fill="none"/>
<path d="M216.2 19.24L220.2 19.32L219 30.69L218.4 40L217.2 31.69zM222.4 19.36L224 19.39L223.52 36.78L223.28 51L222.8 38.34zM224.6 19.4L229.6 19.5L228.1 24.73L227.35 29L225.85 25.16zM229.6 19.5L234 19.59L232.68 23.12L232.02 26L230.7 23.4zM237.3 19.66L242.8 19.77L241.15 30.34L240.33 39L238.68 31.26zM243.9 19.79L249.4 19.9L247.75 26.88L246.93 32.6L245.28 27.48zM251 19.93L258.2 20.07L256.04 24.98L254.96 29L252.8 25.37zM261 20.13L267.6 20.26L265.62 28.26L264.63 34.8L262.65 28.93zM268.7 20.28L278.6 20.48L275.63 22.42L274.14 24L271.18 22.51zM279 20.49L282 20.55L281.1 32.35L280.65 42L279.75 33.39zM235 19.61L236.5 19.64L236.05 25.34L235.82 30L235.38 25.84zM259 20.09L260.5 20.12L260.05 23.9L259.82 27L259.38 24.24z" fill="#000" fill-opacity="0.68"/>
<path d="M218.24 22V50.93M217.46 22V72.42M220.55 22V73.8M220.24 22V56.64M219 22V70.87M217.85 22V71.24M219.69 22V49.66M217.5 22V63.48M216.52 22V48.7M216.67 22V43.63M222.79 22V57.78M223.61 22V55.59M222.52 22V67.62M223.93 22V68.71M223.93 22V54.71M228.25 22V55.67M229.9 22V30.32M229.75 22V43.92M228.77 22V53.32M224.69 22V48.35M224.63 22V53.15M226.13 22V41.42M225.74 22V55.72M227.94 22V38.85M228.55 22V35.12M233.52 22V56.89M232.81 22V42.15M231.23 22V48.57M232.6 22V56.18M233.14 22V38.28M230.6 22V27.44M241.02 22V44.03M238.03 22V68.18M239.81 22V65.46M238.2 22V54.53M238.34 22V65.47M240.68 22V51.98M239.3 22V45.97M238.17 22V61.78M238.83 22V42.45M239.31 22V53.94M243.91 22V39.89M247.44 22V60.36M244.3 22V66.18M249.34 22V45.18M246.9 22V55.74M245.54 22V45.2M248.09 22V49.27M246.24 22V51.96M244.16 22V48.79M245.31 22V38.35M257.96 22V63.33M252.65 22V33.17M257.14 22V33.11M256.14 22V35.67M256.28 22V31.04M251.22 22V61.98M254.73 22V46.12M258.47 22V58.8M252.35 22V55.83M253.66 22V46.63M253.07 22V37.63M252.98 22V39.36M267.95 22V46.87M267.4 22V34.89M266.57 22V37.89M264.3 22V50.33M261.05 22V57.2M266.49 22V42.67M262.36 22V61.93M264.52 22V35.45M262.83 22V68.02M262.6 22V44.98M270.23 22V26.73M269.13 22V27.95M271.32 22V52.94M275.36 22V38.29M273.82 22V40.62M274.52 22V29.46M281.88 22V61.48M280.32 22V52.99M279.91 22V47.76M280.53 22V61.46M278.72 22V56.95M235.62 22V30.15M234.75 22V59.05M234.71 22V42.72M259.97 22V48.13M258.72 22V44.72M260.37 22V54.63M212.58 46.53V68.86M205.91 27.43V43.25M210.1 40.38V47.36M212.92 47.33V55.79M210.71 41.95V54.36M206.29 28.88V57.74M211.32 43.49V67.08M211.17 43.12V62.66M214.1 50.01V57.53M208.66 36.45V47.7M211.06 42.84V58.31M214.63 51.19V62.78M207.46 32.83V60.85M212.43 46.18V62.48M208.61 36.28V59.9M206.14 28.3V51.62M231.31 24V74.38M241.72 24V64.56M268.77 24V74.91M231.11 24V69.69M258.33 24V68.68M231.97 24V71.48M274.93 24V63.71M231.61 24V70.7M277.05 24V79.87M216.52 24V73.55M224.57 24V65.73M224.41 24V71M277.6 24V79.38M238.77 24V78.17M299.92 21.5V54.5M316.91 28.09V48.74M318.45 29.26V57.36M323.08 33.31V53.2M297.38 50.83V82.06M280.57 20.88V32M300.03 21.5V53.52M311.04 24.49V46.23M305.29 22.28V38.93M340.19 55.01V66.23M286.38 26.47V48.38M293.11 39.44V72.3M312.4 25.2V55.76M290.49 33.64V54.17M327.02 37.37V45.01M337.81 51.36V63.66M288.38 29.65V47.68M340.64 55.72V64.38M340.23 55.07V60.5M295.25 44.87V77.53M290.43 33.51V52.01M307.38 22.93V58.6M323.21 33.43V66.38M327.17 37.54V63.44M347.67 67.75V73.69M289.4 31.5V60.18M285.26 24.96V59.68M303.85 21.94V56.13" stroke="#000" stroke-opacity="0.42" stroke-width="0.5" fill="none"/>
<path d="M219.69 19.31V36.54M216.43 19.24V32.85M218.53 19.28V33.95M217.07 19.25V30.33M219.66 19.31V36.56M217.4 19.26V34.5M219.69 19.31V31.14M218.72 19.29V32.06M219.82 19.31V37.94M219.99 19.31V33.62M223.85 19.39V50.96M223.71 19.39V43.16M223.59 19.38V46.05M223.11 19.37V43.42M222.6 19.36V39.01M227.04 19.45V28.21M228.63 19.48V25.33M227.01 19.45V27.04M224.66 19.41V25.37M228.31 19.48V27.41M226.84 19.45V26.95M227.24 19.46V25.88M225.03 19.41V27.76M228.46 19.48V26.31M228.45 19.48V28.18M233.13 19.57V24.73M232.97 19.57V24.77M233.94 19.59V25.02M231.64 19.54V24.68M232.09 19.55V23.7M230.95 19.53V25.35M241.59 19.74V33.49M239.47 19.7V29.86M240.02 19.71V38.02M238.82 19.69V36.52M241.47 19.74V35.73M240.58 19.72V31.76M241.01 19.73V35M242.62 19.76V34.34M239.25 19.7V38.09M240.73 19.73V32.65M249.33 19.9V28.7M246.12 19.83V32.42M247.87 19.87V29.15M246.09 19.83V27.65M244.74 19.8V29.22M247.42 19.86V26.9M246.52 19.84V27.33M247.21 19.85V28.42M247.56 19.86V31.22M246.12 19.83V28.66M254.78 20V27.66M254.79 20V26.75M255.82 20.03V26.4M258.07 20.07V25.49M251.06 19.93V27.04M256.01 20.03V26.23M253.87 19.99V26.04M252.75 19.96V28.06M257.22 20.05V25.78M255.06 20.01V26.57M251.95 19.95V27.79M254.83 20.01V28.96M262.25 20.15V33.88M263.5 20.18V31.59M266.35 20.23V32.46M262.03 20.15V34.46M267.15 20.25V33.63M263.17 20.17V33.56M265.24 20.21V27.73M263.49 20.18V32.59M264.59 20.2V34.42M266.22 20.23V33.61M273.17 20.37V23.79M276.71 20.44V22.91M275.29 20.41V22.26M269.34 20.29V22.84M274.98 20.41V22.46M269.12 20.29V23.73M280.87 20.52V31.26M281.77 20.54V33.52M280.66 20.52V33.29M280.33 20.51V34.1M280.92 20.52V39.63M235.48 19.62V27.91M235.4 19.62V28.54M235.74 19.63V26.42M260 20.11V23.68M260.4 20.12V24.27M260.44 20.12V25.05M205.07 23.76V43.05M204.68 21.62V42.42M206.65 30.17V38.51M204.9 22.89V43.69M206.55 29.79V41.88M206.5 29.63V45.75M329.42 40.13V41.54M299.92 21.5V25.44M316.91 28.09V30.74M334.42 46.53V49.29M318.45 29.26V32.99M323.08 33.31V36.98M338.21 51.97V53.88M340.6 55.66V58.67M281.61 21.44V24.78M297.38 50.83V53.11M337.11 50.33V54.24M291.94 36.75V39.13M280.57 20.88V23.04M300.03 21.5V24.44M311.04 24.49V26.17M305.29 22.28V24.88M316.39 27.72V29.16M340.19 55.01V57.86M286.38 26.47V28.07M293.11 39.44V41.42M290.81 34.3V37.38M312.4 25.2V28.04M329.18 39.84V41.26M290.49 33.64V36.19M327.02 37.37V40.62M312.47 25.24V29M324.48 34.68V38.03M347.87 68.11V71.98M337.81 51.36V52.96M321.71 32.03V35.64M304.03 21.98V23.66M288.38 29.65V32.23M326.94 37.28V40.25M284.8 24.38V28.09M344.9 62.81V65.72M343.57 60.53V63.82M283.34 22.82V24.09M340.64 55.72V58M340.23 55.07V58.39M295.25 44.87V48.16M309.73 23.86V25.6M290.43 33.51V37.17M307.38 22.93V24.23M341.49 57.08V59.46M344.98 62.95V66.55M320.76 31.18V33.81M323.21 33.43V37.35M334.11 46.1V48.54M300.82 21.54V23.83M349.36 70.9V72.78M327.17 37.54V41.31M343.58 60.55V64.22M340.12 54.9V57.88M294.15 42.01V44.66M347.67 67.75V69.07M340.29 55.17V56.88M294.43 42.72V44.87M289.4 31.5V34.33M285.26 24.96V28.05M303.85 21.94V25.02" stroke="#000" stroke-opacity="0.55" stroke-width="0.45" fill="none"/>
<line x1="204.3" y1="19" x2="216" y2="19.23" stroke="#999" stroke-width="0.5"/>
<line x1="216" y1="19.23" x2="279" y2="20.49" stroke="#333" stroke-width="0.55"/>
<line x1="279" y1="20.49" x2="300" y2="20.9" stroke="#aaa" stroke-width="0.5"/>
<path d="M204.4 19 L204.6 21.05 L205 23.42 L205.6 26.18 L206.4 29.27 L207.4 32.64 L208.6 36.26 L210 40.11 L211.6 44.18 L213.4 48.43 L215.6 53.3" stroke="#000" stroke-width="0.95" fill="none"/>
<path d="M279 20.49 L280 20.67 L282 21.7 L284 23.49 L286 25.93 L288 29 L290 32.66 L292 36.87 L294 41.63 L296 46.91 L298 52.69 L299 55.77 L299.7 21.5" stroke="#000" stroke-width="0.95" fill="none"/>
<path d="M300 21.5 L302 21.64 L304 21.97 L306 22.48 L308 23.15 L310 23.99 L312 24.98 L314 26.14 L316 27.45 L318 28.91 L320 30.53 L322 32.29 L324 34.2 L326 36.26 L328 38.47 L330 40.82 L332 43.31 L334 45.95 L336 48.73 L338 51.65 L340 54.71 L342 57.92 L344 61.26 L346 64.74 L348 68.35 L350 72.11 L352 76" stroke="#000" stroke-width="1.1" fill="none"/>
<line x1="323.6" y1="31" x2="323.6" y2="96" stroke="#000" stroke-width="0.55"/>
<rect x="204" y="106" width="11.8" height="20.2" fill="#E6C04A"/>
<rect x="215.8" y="106" width="2.9" height="20.2" fill="#BEBEBE"/>
<rect x="218.7" y="106" width="1.7" height="20.2" fill="#3355D5"/>
<rect x="220.4" y="106" width="0.9" height="20.2" fill="#BEBEBE"/>
<rect x="221.3" y="106" width="3.3" height="20.2" fill="#F4B6C6"/>
<rect x="224.6" y="106" width="2.9" height="20.2" fill="#BEBEBE"/>
<rect x="227.5" y="106" width="1.7" height="20.2" fill="#E07262"/>
<rect x="229.2" y="106" width="1.6" height="20.2" fill="#1E6428"/>
<rect x="230.8" y="106" width="2.2" height="20.2" fill="#BEBEBE"/>
<rect x="233" y="106" width="4.4" height="20.2" fill="#A8D8E8"/>
<rect x="237.4" y="106" width="3.3" height="20.2" fill="#BEBEBE"/>
<rect x="240.7" y="106" width="3.3" height="20.2" fill="#D8B08A"/>
<rect x="244" y="106" width="4" height="20.2" fill="#BEBEBE"/>
<rect x="248" y="106" width="1.2" height="20.2" fill="#90EE90"/>
<rect x="249.2" y="106" width="0.8" height="20.2" fill="#F8F8F0"/>
<rect x="250" y="106" width="6.7" height="20.2" fill="#BEBEBE"/>
<rect x="256.7" y="106" width="1.5" height="20.2" fill="#8B0000"/>
<rect x="258.2" y="106" width="9.8" height="20.2" fill="#BEBEBE"/>
<rect x="268" y="106" width="4.4" height="20.2" fill="#E05CA8"/>
<rect x="272.4" y="106" width="1.2" height="20.2" fill="#00B8C0"/>
<rect x="273.6" y="106" width="1.4" height="20.2" fill="#B0F020"/>
<rect x="275" y="106" width="1.6" height="20.2" fill="#101010"/>
<rect x="276.6" y="106" width="1.8" height="20.2" fill="#C8F060"/>
<rect x="278.4" y="106" width="1.6" height="20.2" fill="#F5E6C8"/>
<rect x="280" y="106" width="2.4" height="20.2" fill="#E09080"/>
<rect x="282.4" y="106" width="4.9" height="20.2" fill="#B84848"/>
<rect x="287.3" y="106" width="2" height="20.2" fill="#D89090"/>
<rect x="289.3" y="106" width="9.1" height="20.2" fill="#B22A2A"/>
<rect x="298.4" y="106" width="5" height="20.2" fill="#C0C0C0"/>
<rect x="303.4" y="106" width="1.6" height="20.2" fill="#2A2AA0"/>
<rect x="305" y="106" width="13.2" height="20.2" fill="#C4C4C4"/>
<rect x="318.2" y="106" width="3.8" height="20.2" fill="#A8C4DC"/>
<rect x="322" y="106" width="2" height="20.2" fill="#8A38A8"/>
<rect x="324" y="106" width="2.4" height="20.2" fill="#9CC8E8"/>
<rect x="326.4" y="106" width="25.2" height="20.2" fill="#1A78C2"/>
<text x="202.3" y="117.8" font-size="4.7" text-anchor="end" fill="#111">Module colors</text>
<text x="88.5" y="153" font-size="7.15" text-anchor="middle" fill="#111" font-family="'Liberation Serif', 'Times New Roman', serif" stroke="#111" stroke-width="0.15">Eigengene adjacency heatmap</text>
<line x1="27" y1="155" x2="27" y2="224.5" stroke="#777" stroke-width="0.4"/>
<line x1="25.2" y1="165.5" x2="27" y2="165.5" stroke="#777" stroke-width="0.4"/>
<text x="22.6" y="165.5" font-size="3.3" text-anchor="middle" fill="#444" transform="rotate(-90 22.6 165.5)">1.0</text>
<line x1="25.2" y1="180.25" x2="27" y2="180.25" stroke="#777" stroke-width="0.4"/>
<text x="22.6" y="180.25" font-size="3.3" text-anchor="middle" fill="#444" transform="rotate(-90 22.6 180.25)">0.8</text>
<line x1="25.2" y1="195" x2="27" y2="195" stroke="#777" stroke-width="0.4"/>
<text x="22.6" y="195" font-size="3.3" text-anchor="middle" fill="#444" transform="rotate(-90 22.6 195)">0.6</text>
<line x1="25.2" y1="209.75" x2="27" y2="209.75" stroke="#777" stroke-width="0.4"/>
<text x="22.6" y="209.75" font-size="3.3" text-anchor="middle" fill="#444" transform="rotate(-90 22.6 209.75)">0.4</text>
<line x1="25.2" y1="224.5" x2="27" y2="224.5" stroke="#777" stroke-width="0.4"/>
<text x="22.6" y="224.5" font-size="3.3" text-anchor="middle" fill="#444" transform="rotate(-90 22.6 224.5)">0.2</text>
<path d="M33.61 157.7H60.4M33.61 157.7V194M31.4 194H35.81M31.4 194V200M35.81 194V200M60.4 157.7V168.3M46.84 168.3H79.82M46.84 168.3V170.9M42.42 170.9H51.25M42.42 170.9V184.5M40.22 184.5H44.63M40.22 184.5V190.5M44.63 184.5V190.5M51.25 170.9V180M49.04 180H53.45M49.04 180V186M53.45 180V186M79.82 168.3V169.8M61.72 169.8H97.93M61.72 169.8V186.4M57.86 186.4H65.58M57.86 186.4V192.4M65.58 186.4V189.6M62.27 189.6H68.89M62.27 189.6V195.6M68.89 189.6V211.5M66.68 211.5H71.09M66.68 211.5V217.5M71.09 211.5V217.5M97.93 169.8V171.8M83.77 171.8H112.09M83.77 171.8V171.6M77.7 171.6H89.83M77.7 171.6V174.7M75.5 174.7H79.91M75.5 174.7V180.7M79.91 174.7V180.7M89.83 171.6V173.2M86.52 173.2H93.14M86.52 173.2V174.4M84.32 174.4H88.73M84.32 174.4V180.4M88.73 174.4V180.4M93.14 173.2V179.2M112.09 171.8V176.4M103.06 176.4H121.12M103.06 176.4V176M99.76 176H106.37M99.76 176V177.5M97.55 177.5H101.96M97.55 177.5V183.5M101.96 177.5V183.5M106.37 176V182M121.12 176.4V180.3M114.09 180.3H128.14M114.09 180.3V188.5M110.78 188.5H117.39M110.78 188.5V194.5M117.39 188.5V202.7M115.19 202.7H119.6M115.19 202.7V208.7M119.6 202.7V208.7M128.14 180.3V183M124.01 183H132.28M124.01 183V189M132.28 183V187.4M128.42 187.4H136.14M128.42 187.4V193.4M136.14 187.4V191.8M132.83 191.8H139.44M132.83 191.8V197.8M139.44 191.8V208.2M137.24 208.2H141.65M137.24 208.2V214.2M141.65 208.2V214.2" stroke="#555" stroke-width="0.45" fill="none"/>
<text x="32.55" y="201" font-size="3.2" text-anchor="end" fill="#111" transform="rotate(-90 32.55 201)">blue</text>
<text x="36.96" y="201" font-size="3.2" text-anchor="end" fill="#111" transform="rotate(-90 36.96 201)">royalblue</text>
<text x="41.37" y="191.5" font-size="3.2" text-anchor="end" fill="#111" transform="rotate(-90 41.37 191.5)">yellow</text>
<text x="45.78" y="191.5" font-size="3.2" text-anchor="end" fill="#111" transform="rotate(-90 45.78 191.5)">black</text>
<text x="50.19" y="187" font-size="3.2" text-anchor="end" fill="#111" transform="rotate(-90 50.19 187)">grey60</text>
<text x="54.6" y="187" font-size="3.2" text-anchor="end" fill="#111" transform="rotate(-90 54.6 187)">darkorange</text>
<text x="59.01" y="193.4" font-size="3.2" text-anchor="end" fill="#111" transform="rotate(-90 59.01 193.4)">darkred</text>
<text x="63.42" y="196.6" font-size="3.2" text-anchor="end" fill="#111" transform="rotate(-90 63.42 196.6)">lightgreen</text>
<text x="67.83" y="218.5" font-size="3.2" text-anchor="end" fill="#111" transform="rotate(-90 67.83 218.5)">magenta</text>
<text x="72.24" y="218.5" font-size="3.2" text-anchor="end" fill="#111" transform="rotate(-90 72.24 218.5)">orange</text>
<text x="76.65" y="181.7" font-size="3.2" text-anchor="end" fill="#111" transform="rotate(-90 76.65 181.7)">lightyellow</text>
<text x="81.06" y="181.7" font-size="3.2" text-anchor="end" fill="#111" transform="rotate(-90 81.06 181.7)">darkgreen</text>
<text x="85.47" y="181.4" font-size="3.2" text-anchor="end" fill="#111" transform="rotate(-90 85.47 181.4)">red</text>
<text x="89.88" y="181.4" font-size="3.2" text-anchor="end" fill="#111" transform="rotate(-90 89.88 181.4)">salmon</text>
<text x="94.29" y="180.2" font-size="3.2" text-anchor="end" fill="#111" transform="rotate(-90 94.29 180.2)">tan</text>
<text x="98.7" y="184.5" font-size="3.2" text-anchor="end" fill="#111" transform="rotate(-90 98.7 184.5)">midnightblue</text>
<text x="103.11" y="184.5" font-size="3.2" text-anchor="end" fill="#111" transform="rotate(-90 103.11 184.5)">darkgrey</text>
<text x="107.52" y="183" font-size="3.2" text-anchor="end" fill="#111" transform="rotate(-90 107.52 183)">green</text>
<text x="111.93" y="195.5" font-size="3.2" text-anchor="end" fill="#111" transform="rotate(-90 111.93 195.5)">pink</text>
<text x="116.34" y="209.7" font-size="3.2" text-anchor="end" fill="#111" transform="rotate(-90 116.34 209.7)">turquoise</text>
<text x="120.75" y="209.7" font-size="3.2" text-anchor="end" fill="#111" transform="rotate(-90 120.75 209.7)">purple</text>
<text x="125.16" y="190" font-size="3.2" text-anchor="end" fill="#111" transform="rotate(-90 125.16 190)">lightcyan</text>
<text x="129.57" y="194.4" font-size="3.2" text-anchor="end" fill="#111" transform="rotate(-90 129.57 194.4)">darkturquoise</text>
<text x="133.98" y="198.8" font-size="3.2" text-anchor="end" fill="#111" transform="rotate(-90 133.98 198.8)">cyan</text>
<text x="138.39" y="215.2" font-size="3.2" text-anchor="end" fill="#111" transform="rotate(-90 138.39 215.2)">brown</text>
<text x="142.8" y="215.2" font-size="3.2" text-anchor="end" fill="#111" transform="rotate(-90 142.8 215.2)">greenyellow</text>
<rect x="26.7" y="244" width="4.59" height="2.63" fill="#de3b2b"/>
<rect x="31.24" y="244" width="4.59" height="2.63" fill="#ed9587"/>
<rect x="35.78" y="244" width="4.59" height="2.63" fill="#f0f5fa"/>
<rect x="40.33" y="244" width="4.59" height="2.63" fill="#edf2f9"/>
<rect x="44.87" y="244" width="4.59" height="2.63" fill="#e1ebf5"/>
<rect x="49.41" y="244" width="4.59" height="2.63" fill="#f4f8fb"/>
<rect x="53.95" y="244" width="4.59" height="2.63" fill="#d2e0f0"/>
<rect x="58.5" y="244" width="4.59" height="2.63" fill="#d2e0f0"/>
<rect x="63.04" y="244" width="4.59" height="2.63" fill="#e5edf7"/>
<rect x="67.58" y="244" width="4.59" height="2.63" fill="#ebf2f9"/>
<rect x="72.12" y="244" width="4.59" height="2.63" fill="#e2ebf6"/>
<rect x="76.67" y="244" width="4.59" height="2.63" fill="#eff4fa"/>
<rect x="81.21" y="244" width="4.59" height="2.63" fill="#ecf2f9"/>
<rect x="85.75" y="244" width="4.59" height="2.63" fill="#eef3f9"/>
<rect x="90.29" y="244" width="4.59" height="2.63" fill="#d2e0f0"/>
<rect x="94.83" y="244" width="4.59" height="2.63" fill="#d2e0f0"/>
<rect x="99.38" y="244" width="4.59" height="2.63" fill="#f5f8fc"/>
<rect x="103.92" y="244" width="4.59" height="2.63" fill="#dce7f4"/>
<rect x="108.46" y="244" width="4.59" height="2.63" fill="#d5e2f1"/>
<rect x="113" y="244" width="4.59" height="2.63" fill="#ebf1f8"/>
<rect x="117.55" y="244" width="4.59" height="2.63" fill="#d2e0f0"/>
<rect x="122.09" y="244" width="4.59" height="2.63" fill="#eff4fa"/>
<rect x="126.63" y="244" width="4.59" height="2.63" fill="#c0d4ea"/>
<rect x="131.17" y="244" width="4.59" height="2.63" fill="#c4d7ec"/>
<rect x="135.72" y="244" width="4.59" height="2.63" fill="#d2e0f0"/>
<rect x="140.26" y="244" width="4.59" height="2.63" fill="#aec8e4"/>
<rect x="26.7" y="246.58" width="4.59" height="2.63" fill="#ed9587"/>
<rect x="31.24" y="246.58" width="4.59" height="2.63" fill="#de3b2b"/>
<rect x="35.78" y="246.58" width="4.59" height="2.63" fill="#e1ebf5"/>
<rect x="40.33" y="246.58" width="4.59" height="2.63" fill="#e4edf6"/>
<rect x="44.87" y="246.58" width="4.59" height="2.63" fill="#e7eff7"/>
<rect x="49.41" y="246.58" width="4.59" height="2.63" fill="#eaf1f8"/>
<rect x="53.95" y="246.58" width="4.59" height="2.63" fill="#e9f0f8"/>
<rect x="58.5" y="246.58" width="4.59" height="2.63" fill="#e7eef7"/>
<rect x="63.04" y="246.58" width="4.59" height="2.63" fill="#d1e0f0"/>
<rect x="67.58" y="246.58" width="4.59" height="2.63" fill="#e1ebf5"/>
<rect x="72.12" y="246.58" width="4.59" height="2.63" fill="#dfe9f4"/>
<rect x="76.67" y="246.58" width="4.59" height="2.63" fill="#e7eef7"/>
<rect x="81.21" y="246.58" width="4.59" height="2.63" fill="#ecf2f9"/>
<rect x="85.75" y="246.58" width="4.59" height="2.63" fill="#ebf1f8"/>
<rect x="90.29" y="246.58" width="4.59" height="2.63" fill="#f5f8fc"/>
<rect x="94.83" y="246.58" width="4.59" height="2.63" fill="#edf2f9"/>
<rect x="99.38" y="246.58" width="4.59" height="2.63" fill="#e4ecf6"/>
<rect x="103.92" y="246.58" width="4.59" height="2.63" fill="#e7eff7"/>
<rect x="108.46" y="246.58" width="4.59" height="2.63" fill="#e1ebf5"/>
<rect x="113" y="246.58" width="4.59" height="2.63" fill="#f9fbfd"/>
<rect x="117.55" y="246.58" width="4.59" height="2.63" fill="#e2ebf6"/>
<rect x="122.09" y="246.58" width="4.59" height="2.63" fill="#eff4fa"/>
<rect x="126.63" y="246.58" width="4.59" height="2.63" fill="#d2e0f0"/>
<rect x="131.17" y="246.58" width="4.59" height="2.63" fill="#dbe6f3"/>
<rect x="135.72" y="246.58" width="4.59" height="2.63" fill="#dfe9f5"/>
<rect x="140.26" y="246.58" width="4.59" height="2.63" fill="#c4d7ec"/>
<rect x="26.7" y="249.15" width="4.59" height="2.63" fill="#f0f5fa"/>
<rect x="31.24" y="249.15" width="4.59" height="2.63" fill="#e1ebf5"/>
<rect x="35.78" y="249.15" width="4.59" height="2.63" fill="#de3b2b"/>
<rect x="40.33" y="249.15" width="4.59" height="2.63" fill="#f0a699"/>
<rect x="44.87" y="249.15" width="4.59" height="2.63" fill="#f0a89c"/>
<rect x="49.41" y="249.15" width="4.59" height="2.63" fill="#ef9f91"/>
<rect x="53.95" y="249.15" width="4.59" height="2.63" fill="#fadfda"/>
<rect x="58.5" y="249.15" width="4.59" height="2.63" fill="#fceeeb"/>
<rect x="63.04" y="249.15" width="4.59" height="2.63" fill="#fef6f5"/>
<rect x="67.58" y="249.15" width="4.59" height="2.63" fill="#fbe6e3"/>
<rect x="72.12" y="249.15" width="4.59" height="2.63" fill="#fcefed"/>
<rect x="76.67" y="249.15" width="4.59" height="2.63" fill="#fbe7e4"/>
<rect x="81.21" y="249.15" width="4.59" height="2.63" fill="#fae4e0"/>
<rect x="85.75" y="249.15" width="4.59" height="2.63" fill="#eef3f9"/>
<rect x="90.29" y="249.15" width="4.59" height="2.63" fill="#fcf0ed"/>
<rect x="94.83" y="249.15" width="4.59" height="2.63" fill="#f8d7d1"/>
<rect x="99.38" y="249.15" width="4.59" height="2.63" fill="#f2f6fb"/>
<rect x="103.92" y="249.15" width="4.59" height="2.63" fill="#fdf2f0"/>
<rect x="108.46" y="249.15" width="4.59" height="2.63" fill="#fceae7"/>
<rect x="113" y="249.15" width="4.59" height="2.63" fill="#fdf3f2"/>
<rect x="117.55" y="249.15" width="4.59" height="2.63" fill="#fafcfd"/>
<rect x="122.09" y="249.15" width="4.59" height="2.63" fill="#fcebe8"/>
<rect x="126.63" y="249.15" width="4.59" height="2.63" fill="#f7d0ca"/>
<rect x="131.17" y="249.15" width="4.59" height="2.63" fill="#fffffe"/>
<rect x="135.72" y="249.15" width="4.59" height="2.63" fill="#f9d9d3"/>
<rect x="140.26" y="249.15" width="4.59" height="2.63" fill="#f4bfb6"/>
<rect x="26.7" y="251.73" width="4.59" height="2.63" fill="#edf2f9"/>
<rect x="31.24" y="251.73" width="4.59" height="2.63" fill="#e4edf6"/>
<rect x="35.78" y="251.73" width="4.59" height="2.63" fill="#f0a699"/>
<rect x="40.33" y="251.73" width="4.59" height="2.63" fill="#de3b2b"/>
<rect x="44.87" y="251.73" width="4.59" height="2.63" fill="#ef9e91"/>
<rect x="49.41" y="251.73" width="4.59" height="2.63" fill="#f1aa9e"/>
<rect x="53.95" y="251.73" width="4.59" height="2.63" fill="#fdf3f2"/>
<rect x="58.5" y="251.73" width="4.59" height="2.63" fill="#fffefe"/>
<rect x="63.04" y="251.73" width="4.59" height="2.63" fill="#fdf2f1"/>
<rect x="67.58" y="251.73" width="4.59" height="2.63" fill="#fceeec"/>
<rect x="72.12" y="251.73" width="4.59" height="2.63" fill="#fdf5f3"/>
<rect x="76.67" y="251.73" width="4.59" height="2.63" fill="#f0f5fa"/>
<rect x="81.21" y="251.73" width="4.59" height="2.63" fill="#fffcfc"/>
<rect x="85.75" y="251.73" width="4.59" height="2.63" fill="#ecf2f9"/>
<rect x="90.29" y="251.73" width="4.59" height="2.63" fill="#fdf5f4"/>
<rect x="94.83" y="251.73" width="4.59" height="2.63" fill="#fbe6e3"/>
<rect x="99.38" y="251.73" width="4.59" height="2.63" fill="#fbeae7"/>
<rect x="103.92" y="251.73" width="4.59" height="2.63" fill="#fef7f5"/>
<rect x="108.46" y="251.73" width="4.59" height="2.63" fill="#fefeff"/>
<rect x="113" y="251.73" width="4.59" height="2.63" fill="#fffdfd"/>
<rect x="117.55" y="251.73" width="4.59" height="2.63" fill="#fdf4f3"/>
<rect x="122.09" y="251.73" width="4.59" height="2.63" fill="#fefeff"/>
<rect x="126.63" y="251.73" width="4.59" height="2.63" fill="#f9dcd7"/>
<rect x="131.17" y="251.73" width="4.59" height="2.63" fill="#fcefed"/>
<rect x="135.72" y="251.73" width="4.59" height="2.63" fill="#fceeec"/>
<rect x="140.26" y="251.73" width="4.59" height="2.63" fill="#f3b7ad"/>
<rect x="26.7" y="254.31" width="4.59" height="2.63" fill="#e1ebf5"/>
<rect x="31.24" y="254.31" width="4.59" height="2.63" fill="#e7eff7"/>
<rect x="35.78" y="254.31" width="4.59" height="2.63" fill="#f0a89c"/>
<rect x="40.33" y="254.31" width="4.59" height="2.63" fill="#ef9e91"/>
<rect x="44.87" y="254.31" width="4.59" height="2.63" fill="#de3b2b"/>
<rect x="49.41" y="254.31" width="4.59" height="2.63" fill="#f0a699"/>
<rect x="53.95" y="254.31" width="4.59" height="2.63" fill="#fbe7e3"/>
<rect x="58.5" y="254.31" width="4.59" height="2.63" fill="#fceae7"/>
<rect x="63.04" y="254.31" width="4.59" height="2.63" fill="#fceeeb"/>
<rect x="67.58" y="254.31" width="4.59" height="2.63" fill="#f3f7fb"/>
<rect x="72.12" y="254.31" width="4.59" height="2.63" fill="#fbe9e6"/>
<rect x="76.67" y="254.31" width="4.59" height="2.63" fill="#f6f9fc"/>
<rect x="81.21" y="254.31" width="4.59" height="2.63" fill="#fdf2f0"/>
<rect x="85.75" y="254.31" width="4.59" height="2.63" fill="#eaf1f8"/>
<rect x="90.29" y="254.31" width="4.59" height="2.63" fill="#f8fafd"/>
<rect x="94.83" y="254.31" width="4.59" height="2.63" fill="#fdfefe"/>
<rect x="99.38" y="254.31" width="4.59" height="2.63" fill="#fdf1f0"/>
<rect x="103.92" y="254.31" width="4.59" height="2.63" fill="#fceeec"/>
<rect x="108.46" y="254.31" width="4.59" height="2.63" fill="#fdf1ef"/>
<rect x="113" y="254.31" width="4.59" height="2.63" fill="#fdf3f2"/>
<rect x="117.55" y="254.31" width="4.59" height="2.63" fill="#fefeff"/>
<rect x="122.09" y="254.31" width="4.59" height="2.63" fill="#fcf0ed"/>
<rect x="126.63" y="254.31" width="4.59" height="2.63" fill="#f8d7d2"/>
<rect x="131.17" y="254.31" width="4.59" height="2.63" fill="#fdfdfe"/>
<rect x="135.72" y="254.31" width="4.59" height="2.63" fill="#f8d7d1"/>
<rect x="140.26" y="254.31" width="4.59" height="2.63" fill="#f4beb5"/>
<rect x="26.7" y="256.88" width="4.59" height="2.63" fill="#f4f8fb"/>
<rect x="31.24" y="256.88" width="4.59" height="2.63" fill="#eaf1f8"/>
<rect x="35.78" y="256.88" width="4.59" height="2.63" fill="#ef9f91"/>
<rect x="40.33" y="256.88" width="4.59" height="2.63" fill="#f1aa9e"/>
<rect x="44.87" y="256.88" width="4.59" height="2.63" fill="#f0a699"/>
<rect x="49.41" y="256.88" width="4.59" height="2.63" fill="#de3b2b"/>
<rect x="53.95" y="256.88" width="4.59" height="2.63" fill="#ffffff"/>
<rect x="58.5" y="256.88" width="4.59" height="2.63" fill="#ffffff"/>
<rect x="63.04" y="256.88" width="4.59" height="2.63" fill="#fefcfc"/>
<rect x="67.58" y="256.88" width="4.59" height="2.63" fill="#fceeeb"/>
<rect x="72.12" y="256.88" width="4.59" height="2.63" fill="#fdf3f1"/>
<rect x="76.67" y="256.88" width="4.59" height="2.63" fill="#fef6f5"/>
<rect x="81.21" y="256.88" width="4.59" height="2.63" fill="#fdf5f4"/>
<rect x="85.75" y="256.88" width="4.59" height="2.63" fill="#f9ded9"/>
<rect x="90.29" y="256.88" width="4.59" height="2.63" fill="#fdf3f1"/>
<rect x="94.83" y="256.88" width="4.59" height="2.63" fill="#fae4e1"/>
<rect x="99.38" y="256.88" width="4.59" height="2.63" fill="#f0f5fa"/>
<rect x="103.92" y="256.88" width="4.59" height="2.63" fill="#fdf4f3"/>
<rect x="108.46" y="256.88" width="4.59" height="2.63" fill="#fdf6f4"/>
<rect x="113" y="256.88" width="4.59" height="2.63" fill="#fceeec"/>
<rect x="117.55" y="256.88" width="4.59" height="2.63" fill="#fcfdfe"/>
<rect x="122.09" y="256.88" width="4.59" height="2.63" fill="#fafcfd"/>
<rect x="126.63" y="256.88" width="4.59" height="2.63" fill="#f8d5cf"/>
<rect x="131.17" y="256.88" width="4.59" height="2.63" fill="#fafcfd"/>
<rect x="135.72" y="256.88" width="4.59" height="2.63" fill="#fadfdb"/>
<rect x="140.26" y="256.88" width="4.59" height="2.63" fill="#f6ccc5"/>
<rect x="26.7" y="259.46" width="4.59" height="2.63" fill="#d2e0f0"/>
<rect x="31.24" y="259.46" width="4.59" height="2.63" fill="#e9f0f8"/>
<rect x="35.78" y="259.46" width="4.59" height="2.63" fill="#fadfda"/>
<rect x="40.33" y="259.46" width="4.59" height="2.63" fill="#fdf3f2"/>
<rect x="44.87" y="259.46" width="4.59" height="2.63" fill="#fbe7e3"/>
<rect x="49.41" y="259.46" width="4.59" height="2.63" fill="#ffffff"/>
<rect x="53.95" y="259.46" width="4.59" height="2.63" fill="#de3b2b"/>
<rect x="58.5" y="259.46" width="4.59" height="2.63" fill="#fffefe"/>
<rect x="63.04" y="259.46" width="4.59" height="2.63" fill="#e7eef7"/>
<rect x="67.58" y="259.46" width="4.59" height="2.63" fill="#fcedeb"/>
<rect x="72.12" y="259.46" width="4.59" height="2.63" fill="#fdf5f3"/>
<rect x="76.67" y="259.46" width="4.59" height="2.63" fill="#fcfdfe"/>
<rect x="81.21" y="259.46" width="4.59" height="2.63" fill="#fef9f8"/>
<rect x="85.75" y="259.46" width="4.59" height="2.63" fill="#f5f8fc"/>
<rect x="90.29" y="259.46" width="4.59" height="2.63" fill="#fdf6f5"/>
<rect x="94.83" y="259.46" width="4.59" height="2.63" fill="#fef8f6"/>
<rect x="99.38" y="259.46" width="4.59" height="2.63" fill="#fcf0ee"/>
<rect x="103.92" y="259.46" width="4.59" height="2.63" fill="#eff4fa"/>
<rect x="108.46" y="259.46" width="4.59" height="2.63" fill="#fceae7"/>
<rect x="113" y="259.46" width="4.59" height="2.63" fill="#fcece9"/>
<rect x="117.55" y="259.46" width="4.59" height="2.63" fill="#fbe9e7"/>
<rect x="122.09" y="259.46" width="4.59" height="2.63" fill="#fcf0ee"/>
<rect x="126.63" y="259.46" width="4.59" height="2.63" fill="#f6cbc3"/>
<rect x="131.17" y="259.46" width="4.59" height="2.63" fill="#f3f7fb"/>
<rect x="135.72" y="259.46" width="4.59" height="2.63" fill="#fae3df"/>
<rect x="140.26" y="259.46" width="4.59" height="2.63" fill="#f4bbb2"/>
<rect x="26.7" y="262.04" width="4.59" height="2.63" fill="#d2e0f0"/>
<rect x="31.24" y="262.04" width="4.59" height="2.63" fill="#e7eef7"/>
<rect x="35.78" y="262.04" width="4.59" height="2.63" fill="#fceeeb"/>
<rect x="40.33" y="262.04" width="4.59" height="2.63" fill="#fffefe"/>
<rect x="44.87" y="262.04" width="4.59" height="2.63" fill="#fceae7"/>
<rect x="49.41" y="262.04" width="4.59" height="2.63" fill="#ffffff"/>
<rect x="53.95" y="262.04" width="4.59" height="2.63" fill="#fffefe"/>
<rect x="58.5" y="262.04" width="4.59" height="2.63" fill="#de3b2b"/>
<rect x="63.04" y="262.04" width="4.59" height="2.63" fill="#fefcfb"/>
<rect x="67.58" y="262.04" width="4.59" height="2.63" fill="#fbe7e4"/>
<rect x="72.12" y="262.04" width="4.59" height="2.63" fill="#ebf2f9"/>
<rect x="76.67" y="262.04" width="4.59" height="2.63" fill="#fcefec"/>
<rect x="81.21" y="262.04" width="4.59" height="2.63" fill="#f9fbfd"/>
<rect x="85.75" y="262.04" width="4.59" height="2.63" fill="#fafcfd"/>
<rect x="90.29" y="262.04" width="4.59" height="2.63" fill="#e7eff7"/>
<rect x="94.83" y="262.04" width="4.59" height="2.63" fill="#fefaf9"/>
<rect x="99.38" y="262.04" width="4.59" height="2.63" fill="#fefbfb"/>
<rect x="103.92" y="262.04" width="4.59" height="2.63" fill="#fdf1ef"/>
<rect x="108.46" y="262.04" width="4.59" height="2.63" fill="#fdf2f0"/>
<rect x="113" y="262.04" width="4.59" height="2.63" fill="#fcedeb"/>
<rect x="117.55" y="262.04" width="4.59" height="2.63" fill="#f8d7d1"/>
<rect x="122.09" y="262.04" width="4.59" height="2.63" fill="#fae1dd"/>
<rect x="126.63" y="262.04" width="4.59" height="2.63" fill="#f4bdb4"/>
<rect x="131.17" y="262.04" width="4.59" height="2.63" fill="#feffff"/>
<rect x="135.72" y="262.04" width="4.59" height="2.63" fill="#fbe8e5"/>
<rect x="140.26" y="262.04" width="4.59" height="2.63" fill="#f6c7c0"/>
<rect x="26.7" y="264.62" width="4.59" height="2.63" fill="#e5edf7"/>
<rect x="31.24" y="264.62" width="4.59" height="2.63" fill="#d1e0f0"/>
<rect x="35.78" y="264.62" width="4.59" height="2.63" fill="#fef6f5"/>
<rect x="40.33" y="264.62" width="4.59" height="2.63" fill="#fdf2f1"/>
<rect x="44.87" y="264.62" width="4.59" height="2.63" fill="#fceeeb"/>
<rect x="49.41" y="264.62" width="4.59" height="2.63" fill="#fefcfc"/>
<rect x="53.95" y="264.62" width="4.59" height="2.63" fill="#e7eef7"/>
<rect x="58.5" y="264.62" width="4.59" height="2.63" fill="#fefcfb"/>
<rect x="63.04" y="264.62" width="4.59" height="2.63" fill="#de3b2b"/>
<rect x="67.58" y="264.62" width="4.59" height="2.63" fill="#f9dad4"/>
<rect x="72.12" y="264.62" width="4.59" height="2.63" fill="#fafcfd"/>
<rect x="76.67" y="264.62" width="4.59" height="2.63" fill="#fcf0ee"/>
<rect x="81.21" y="264.62" width="4.59" height="2.63" fill="#fef8f7"/>
<rect x="85.75" y="264.62" width="4.59" height="2.63" fill="#e8eff8"/>
<rect x="90.29" y="264.62" width="4.59" height="2.63" fill="#fbe7e3"/>
<rect x="94.83" y="264.62" width="4.59" height="2.63" fill="#fef7f6"/>
<rect x="99.38" y="264.62" width="4.59" height="2.63" fill="#eef3f9"/>
<rect x="103.92" y="264.62" width="4.59" height="2.63" fill="#fcebe8"/>
<rect x="108.46" y="264.62" width="4.59" height="2.63" fill="#ffffff"/>
<rect x="113" y="264.62" width="4.59" height="2.63" fill="#fdf3f1"/>
<rect x="117.55" y="264.62" width="4.59" height="2.63" fill="#fbfcfe"/>
<rect x="122.09" y="264.62" width="4.59" height="2.63" fill="#fdf5f4"/>
<rect x="126.63" y="264.62" width="4.59" height="2.63" fill="#f7d1ca"/>
<rect x="131.17" y="264.62" width="4.59" height="2.63" fill="#fadfda"/>
<rect x="135.72" y="264.62" width="4.59" height="2.63" fill="#f9dbd6"/>
<rect x="140.26" y="264.62" width="4.59" height="2.63" fill="#f4c0b8"/>
<rect x="26.7" y="267.19" width="4.59" height="2.63" fill="#ebf2f9"/>
<rect x="31.24" y="267.19" width="4.59" height="2.63" fill="#e1ebf5"/>
<rect x="35.78" y="267.19" width="4.59" height="2.63" fill="#fbe6e3"/>
<rect x="40.33" y="267.19" width="4.59" height="2.63" fill="#fceeec"/>
<rect x="44.87" y="267.19" width="4.59" height="2.63" fill="#f3f7fb"/>
<rect x="49.41" y="267.19" width="4.59" height="2.63" fill="#fceeeb"/>
<rect x="53.95" y="267.19" width="4.59" height="2.63" fill="#fcedeb"/>
<rect x="58.5" y="267.19" width="4.59" height="2.63" fill="#fbe7e4"/>
<rect x="63.04" y="267.19" width="4.59" height="2.63" fill="#f9dad4"/>
<rect x="67.58" y="267.19" width="4.59" height="2.63" fill="#de3b2b"/>
<rect x="72.12" y="267.19" width="4.59" height="2.63" fill="#fdf0ee"/>
<rect x="76.67" y="267.19" width="4.59" height="2.63" fill="#fdf2f0"/>
<rect x="81.21" y="267.19" width="4.59" height="2.63" fill="#edf3f9"/>
<rect x="85.75" y="267.19" width="4.59" height="2.63" fill="#fffcfc"/>
<rect x="90.29" y="267.19" width="4.59" height="2.63" fill="#f3f7fb"/>
<rect x="94.83" y="267.19" width="4.59" height="2.63" fill="#fcefed"/>
<rect x="99.38" y="267.19" width="4.59" height="2.63" fill="#fbe8e5"/>
<rect x="103.92" y="267.19" width="4.59" height="2.63" fill="#fcebe8"/>
<rect x="108.46" y="267.19" width="4.59" height="2.63" fill="#f0f5fa"/>
<rect x="113" y="267.19" width="4.59" height="2.63" fill="#f5f8fc"/>
<rect x="117.55" y="267.19" width="4.59" height="2.63" fill="#fcfdfe"/>
<rect x="122.09" y="267.19" width="4.59" height="2.63" fill="#fdf5f3"/>
<rect x="126.63" y="267.19" width="4.59" height="2.63" fill="#f5c1b9"/>
<rect x="131.17" y="267.19" width="4.59" height="2.63" fill="#fdf5f4"/>
<rect x="135.72" y="267.19" width="4.59" height="2.63" fill="#fae3e0"/>
<rect x="140.26" y="267.19" width="4.59" height="2.63" fill="#f3b7ad"/>
<rect x="26.7" y="269.77" width="4.59" height="2.63" fill="#e2ebf6"/>
<rect x="31.24" y="269.77" width="4.59" height="2.63" fill="#dfe9f4"/>
<rect x="35.78" y="269.77" width="4.59" height="2.63" fill="#fcefed"/>
<rect x="40.33" y="269.77" width="4.59" height="2.63" fill="#fdf5f3"/>
<rect x="44.87" y="269.77" width="4.59" height="2.63" fill="#fbe9e6"/>
<rect x="49.41" y="269.77" width="4.59" height="2.63" fill="#fdf3f1"/>
<rect x="53.95" y="269.77" width="4.59" height="2.63" fill="#fdf5f3"/>
<rect x="58.5" y="269.77" width="4.59" height="2.63" fill="#ebf2f9"/>
<rect x="63.04" y="269.77" width="4.59" height="2.63" fill="#fafcfd"/>
<rect x="67.58" y="269.77" width="4.59" height="2.63" fill="#fdf0ee"/>
<rect x="72.12" y="269.77" width="4.59" height="2.63" fill="#de3b2b"/>
<rect x="76.67" y="269.77" width="4.59" height="2.63" fill="#fffefd"/>
<rect x="81.21" y="269.77" width="4.59" height="2.63" fill="#f1f5fa"/>
<rect x="85.75" y="269.77" width="4.59" height="2.63" fill="#fae1dd"/>
<rect x="90.29" y="269.77" width="4.59" height="2.63" fill="#edf3f9"/>
<rect x="94.83" y="269.77" width="4.59" height="2.63" fill="#fef8f7"/>
<rect x="99.38" y="269.77" width="4.59" height="2.63" fill="#fcecea"/>
<rect x="103.92" y="269.77" width="4.59" height="2.63" fill="#fceeeb"/>
<rect x="108.46" y="269.77" width="4.59" height="2.63" fill="#fceeec"/>
<rect x="113" y="269.77" width="4.59" height="2.63" fill="#f9dad5"/>
<rect x="117.55" y="269.77" width="4.59" height="2.63" fill="#fae1dd"/>
<rect x="122.09" y="269.77" width="4.59" height="2.63" fill="#f8fafd"/>
<rect x="126.63" y="269.77" width="4.59" height="2.63" fill="#f7d2cc"/>
<rect x="131.17" y="269.77" width="4.59" height="2.63" fill="#f9dad5"/>
<rect x="135.72" y="269.77" width="4.59" height="2.63" fill="#fbe5e1"/>
<rect x="140.26" y="269.77" width="4.59" height="2.63" fill="#f5c2ba"/>
<rect x="26.7" y="272.35" width="4.59" height="2.63" fill="#eff4fa"/>
<rect x="31.24" y="272.35" width="4.59" height="2.63" fill="#e7eef7"/>
<rect x="35.78" y="272.35" width="4.59" height="2.63" fill="#fbe7e4"/>
<rect x="40.33" y="272.35" width="4.59" height="2.63" fill="#f0f5fa"/>
<rect x="44.87" y="272.35" width="4.59" height="2.63" fill="#f6f9fc"/>
<rect x="49.41" y="272.35" width="4.59" height="2.63" fill="#fef6f5"/>
<rect x="53.95" y="272.35" width="4.59" height="2.63" fill="#fcfdfe"/>
<rect x="58.5" y="272.35" width="4.59" height="2.63" fill="#fcefec"/>
<rect x="63.04" y="272.35" width="4.59" height="2.63" fill="#fcf0ee"/>
<rect x="67.58" y="272.35" width="4.59" height="2.63" fill="#fdf2f0"/>
<rect x="72.12" y="272.35" width="4.59" height="2.63" fill="#fffefd"/>
<rect x="76.67" y="272.35" width="4.59" height="2.63" fill="#de3b2b"/>
<rect x="81.21" y="272.35" width="4.59" height="2.63" fill="#fdf4f2"/>
<rect x="85.75" y="272.35" width="4.59" height="2.63" fill="#fcecea"/>
<rect x="90.29" y="272.35" width="4.59" height="2.63" fill="#fcece9"/>
<rect x="94.83" y="272.35" width="4.59" height="2.63" fill="#fbeae7"/>
<rect x="99.38" y="272.35" width="4.59" height="2.63" fill="#fefbfa"/>
<rect x="103.92" y="272.35" width="4.59" height="2.63" fill="#fbe5e1"/>
<rect x="108.46" y="272.35" width="4.59" height="2.63" fill="#fef9f8"/>
<rect x="113" y="272.35" width="4.59" height="2.63" fill="#fdfefe"/>
<rect x="117.55" y="272.35" width="4.59" height="2.63" fill="#fcebe9"/>
<rect x="122.09" y="272.35" width="4.59" height="2.63" fill="#fceae8"/>
<rect x="126.63" y="272.35" width="4.59" height="2.63" fill="#f6ccc5"/>
<rect x="131.17" y="272.35" width="4.59" height="2.63" fill="#fceeeb"/>
<rect x="135.72" y="272.35" width="4.59" height="2.63" fill="#f9ddd9"/>
<rect x="140.26" y="272.35" width="4.59" height="2.63" fill="#f4bfb6"/>
<rect x="26.7" y="274.92" width="4.59" height="2.63" fill="#ecf2f9"/>
<rect x="31.24" y="274.92" width="4.59" height="2.63" fill="#ecf2f9"/>
<rect x="35.78" y="274.92" width="4.59" height="2.63" fill="#fae4e0"/>
<rect x="40.33" y="274.92" width="4.59" height="2.63" fill="#fffcfc"/>
<rect x="44.87" y="274.92" width="4.59" height="2.63" fill="#fdf2f0"/>
<rect x="49.41" y="274.92" width="4.59" height="2.63" fill="#fdf5f4"/>
<rect x="53.95" y="274.92" width="4.59" height="2.63" fill="#fef9f8"/>
<rect x="58.5" y="274.92" width="4.59" height="2.63" fill="#f9fbfd"/>
<rect x="63.04" y="274.92" width="4.59" height="2.63" fill="#fef8f7"/>
<rect x="67.58" y="274.92" width="4.59" height="2.63" fill="#edf3f9"/>
<rect x="72.12" y="274.92" width="4.59" height="2.63" fill="#f1f5fa"/>
<rect x="76.67" y="274.92" width="4.59" height="2.63" fill="#fdf4f2"/>
<rect x="81.21" y="274.92" width="4.59" height="2.63" fill="#de3b2b"/>
<rect x="85.75" y="274.92" width="4.59" height="2.63" fill="#fbe7e4"/>
<rect x="90.29" y="274.92" width="4.59" height="2.63" fill="#f8fafd"/>
<rect x="94.83" y="274.92" width="4.59" height="2.63" fill="#f6f9fc"/>
<rect x="99.38" y="274.92" width="4.59" height="2.63" fill="#fcfdfe"/>
<rect x="103.92" y="274.92" width="4.59" height="2.63" fill="#fafbfd"/>
<rect x="108.46" y="274.92" width="4.59" height="2.63" fill="#fcedea"/>
<rect x="113" y="274.92" width="4.59" height="2.63" fill="#f9d9d4"/>
<rect x="117.55" y="274.92" width="4.59" height="2.63" fill="#f7f9fc"/>
<rect x="122.09" y="274.92" width="4.59" height="2.63" fill="#fefaf9"/>
<rect x="126.63" y="274.92" width="4.59" height="2.63" fill="#f6cac3"/>
<rect x="131.17" y="274.92" width="4.59" height="2.63" fill="#fbe9e6"/>
<rect x="135.72" y="274.92" width="4.59" height="2.63" fill="#f9dbd5"/>
<rect x="140.26" y="274.92" width="4.59" height="2.63" fill="#f5c6be"/>
<rect x="26.7" y="277.5" width="4.59" height="2.63" fill="#eef3f9"/>
<rect x="31.24" y="277.5" width="4.59" height="2.63" fill="#ebf1f8"/>
<rect x="35.78" y="277.5" width="4.59" height="2.63" fill="#eef3f9"/>
<rect x="40.33" y="277.5" width="4.59" height="2.63" fill="#ecf2f9"/>
<rect x="44.87" y="277.5" width="4.59" height="2.63" fill="#eaf1f8"/>
<rect x="49.41" y="277.5" width="4.59" height="2.63" fill="#f9ded9"/>
<rect x="53.95" y="277.5" width="4.59" height="2.63" fill="#f5f8fc"/>
<rect x="58.5" y="277.5" width="4.59" height="2.63" fill="#fafcfd"/>
<rect x="63.04" y="277.5" width="4.59" height="2.63" fill="#e8eff8"/>
<rect x="67.58" y="277.5" width="4.59" height="2.63" fill="#fffcfc"/>
<rect x="72.12" y="277.5" width="4.59" height="2.63" fill="#fae1dd"/>
<rect x="76.67" y="277.5" width="4.59" height="2.63" fill="#fcecea"/>
<rect x="81.21" y="277.5" width="4.59" height="2.63" fill="#fbe7e4"/>
<rect x="85.75" y="277.5" width="4.59" height="2.63" fill="#de3b2b"/>
<rect x="90.29" y="277.5" width="4.59" height="2.63" fill="#fffefe"/>
<rect x="94.83" y="277.5" width="4.59" height="2.63" fill="#fefeff"/>
<rect x="99.38" y="277.5" width="4.59" height="2.63" fill="#fffdfd"/>
<rect x="103.92" y="277.5" width="4.59" height="2.63" fill="#fdf6f4"/>
<rect x="108.46" y="277.5" width="4.59" height="2.63" fill="#fcebe8"/>
<rect x="113" y="277.5" width="4.59" height="2.63" fill="#f6f9fc"/>
<rect x="117.55" y="277.5" width="4.59" height="2.63" fill="#fcebe8"/>
<rect x="122.09" y="277.5" width="4.59" height="2.63" fill="#eef3f9"/>
<rect x="126.63" y="277.5" width="4.59" height="2.63" fill="#f3bab1"/>
<rect x="131.17" y="277.5" width="4.59" height="2.63" fill="#fbe7e4"/>
<rect x="135.72" y="277.5" width="4.59" height="2.63" fill="#fcebe8"/>
<rect x="140.26" y="277.5" width="4.59" height="2.63" fill="#f5c3bb"/>
<rect x="26.7" y="280.08" width="4.59" height="2.63" fill="#d2e0f0"/>
<rect x="31.24" y="280.08" width="4.59" height="2.63" fill="#f5f8fc"/>
<rect x="35.78" y="280.08" width="4.59" height="2.63" fill="#fcf0ed"/>
<rect x="40.33" y="280.08" width="4.59" height="2.63" fill="#fdf5f4"/>
<rect x="44.87" y="280.08" width="4.59" height="2.63" fill="#f8fafd"/>
<rect x="49.41" y="280.08" width="4.59" height="2.63" fill="#fdf3f1"/>
<rect x="53.95" y="280.08" width="4.59" height="2.63" fill="#fdf6f5"/>
<rect x="58.5" y="280.08" width="4.59" height="2.63" fill="#e7eff7"/>
<rect x="63.04" y="280.08" width="4.59" height="2.63" fill="#fbe7e3"/>
<rect x="67.58" y="280.08" width="4.59" height="2.63" fill="#f3f7fb"/>
<rect x="72.12" y="280.08" width="4.59" height="2.63" fill="#edf3f9"/>
<rect x="76.67" y="280.08" width="4.59" height="2.63" fill="#fcece9"/>
<rect x="81.21" y="280.08" width="4.59" height="2.63" fill="#f8fafd"/>
<rect x="85.75" y="280.08" width="4.59" height="2.63" fill="#fffefe"/>
<rect x="90.29" y="280.08" width="4.59" height="2.63" fill="#de3b2b"/>
<rect x="94.83" y="280.08" width="4.59" height="2.63" fill="#feffff"/>
<rect x="99.38" y="280.08" width="4.59" height="2.63" fill="#fdf0ee"/>
<rect x="103.92" y="280.08" width="4.59" height="2.63" fill="#fbe7e4"/>
<rect x="108.46" y="280.08" width="4.59" height="2.63" fill="#fafcfd"/>
<rect x="113" y="280.08" width="4.59" height="2.63" fill="#fefaf9"/>
<rect x="117.55" y="280.08" width="4.59" height="2.63" fill="#f5f8fc"/>
<rect x="122.09" y="280.08" width="4.59" height="2.63" fill="#feffff"/>
<rect x="126.63" y="280.08" width="4.59" height="2.63" fill="#f6cac3"/>
<rect x="131.17" y="280.08" width="4.59" height="2.63" fill="#fef9f8"/>
<rect x="135.72" y="280.08" width="4.59" height="2.63" fill="#f9dbd6"/>
<rect x="140.26" y="280.08" width="4.59" height="2.63" fill="#f3b7ad"/>
<rect x="26.7" y="282.65" width="4.59" height="2.63" fill="#d2e0f0"/>
<rect x="31.24" y="282.65" width="4.59" height="2.63" fill="#edf2f9"/>
<rect x="35.78" y="282.65" width="4.59" height="2.63" fill="#f8d7d1"/>
<rect x="40.33" y="282.65" width="4.59" height="2.63" fill="#fbe6e3"/>
<rect x="44.87" y="282.65" width="4.59" height="2.63" fill="#fdfefe"/>
<rect x="49.41" y="282.65" width="4.59" height="2.63" fill="#fae4e1"/>
<rect x="53.95" y="282.65" width="4.59" height="2.63" fill="#fef8f6"/>
<rect x="58.5" y="282.65" width="4.59" height="2.63" fill="#fefaf9"/>
<rect x="63.04" y="282.65" width="4.59" height="2.63" fill="#fef7f6"/>
<rect x="67.58" y="282.65" width="4.59" height="2.63" fill="#fcefed"/>
<rect x="72.12" y="282.65" width="4.59" height="2.63" fill="#fef8f7"/>
<rect x="76.67" y="282.65" width="4.59" height="2.63" fill="#fbeae7"/>
<rect x="81.21" y="282.65" width="4.59" height="2.63" fill="#f6f9fc"/>
<rect x="85.75" y="282.65" width="4.59" height="2.63" fill="#fefeff"/>
<rect x="90.29" y="282.65" width="4.59" height="2.63" fill="#feffff"/>
<rect x="94.83" y="282.65" width="4.59" height="2.63" fill="#de3b2b"/>
<rect x="99.38" y="282.65" width="4.59" height="2.63" fill="#fae3df"/>
<rect x="103.92" y="282.65" width="4.59" height="2.63" fill="#f4f7fb"/>
<rect x="108.46" y="282.65" width="4.59" height="2.63" fill="#fcebe9"/>
<rect x="113" y="282.65" width="4.59" height="2.63" fill="#fdfefe"/>
<rect x="117.55" y="282.65" width="4.59" height="2.63" fill="#e7eff7"/>
<rect x="122.09" y="282.65" width="4.59" height="2.63" fill="#fbe5e2"/>
<rect x="126.63" y="282.65" width="4.59" height="2.63" fill="#f9ddd8"/>
<rect x="131.17" y="282.65" width="4.59" height="2.63" fill="#fcefed"/>
<rect x="135.72" y="282.65" width="4.59" height="2.63" fill="#fadfda"/>
<rect x="140.26" y="282.65" width="4.59" height="2.63" fill="#fcecea"/>
<rect x="26.7" y="285.23" width="4.59" height="2.63" fill="#f5f8fc"/>
<rect x="31.24" y="285.23" width="4.59" height="2.63" fill="#e4ecf6"/>
<rect x="35.78" y="285.23" width="4.59" height="2.63" fill="#f2f6fb"/>
<rect x="40.33" y="285.23" width="4.59" height="2.63" fill="#fbeae7"/>
<rect x="44.87" y="285.23" width="4.59" height="2.63" fill="#fdf1f0"/>
<rect x="49.41" y="285.23" width="4.59" height="2.63" fill="#f0f5fa"/>
<rect x="53.95" y="285.23" width="4.59" height="2.63" fill="#fcf0ee"/>
<rect x="58.5" y="285.23" width="4.59" height="2.63" fill="#fefbfb"/>
<rect x="63.04" y="285.23" width="4.59" height="2.63" fill="#eef3f9"/>
<rect x="67.58" y="285.23" width="4.59" height="2.63" fill="#fbe8e5"/>
<rect x="72.12" y="285.23" width="4.59" height="2.63" fill="#fcecea"/>
<rect x="76.67" y="285.23" width="4.59" height="2.63" fill="#fefbfa"/>
<rect x="81.21" y="285.23" width="4.59" height="2.63" fill="#fcfdfe"/>
<rect x="85.75" y="285.23" width="4.59" height="2.63" fill="#fffdfd"/>
<rect x="90.29" y="285.23" width="4.59" height="2.63" fill="#fdf0ee"/>
<rect x="94.83" y="285.23" width="4.59" height="2.63" fill="#fae3df"/>
<rect x="99.38" y="285.23" width="4.59" height="2.63" fill="#de3b2b"/>
<rect x="103.92" y="285.23" width="4.59" height="2.63" fill="#fcf0ee"/>
<rect x="108.46" y="285.23" width="4.59" height="2.63" fill="#fefbfa"/>
<rect x="113" y="285.23" width="4.59" height="2.63" fill="#fdf6f5"/>
<rect x="117.55" y="285.23" width="4.59" height="2.63" fill="#fefeff"/>
<rect x="122.09" y="285.23" width="4.59" height="2.63" fill="#fbe9e6"/>
<rect x="126.63" y="285.23" width="4.59" height="2.63" fill="#f7d1cb"/>
<rect x="131.17" y="285.23" width="4.59" height="2.63" fill="#fdf2f0"/>
<rect x="135.72" y="285.23" width="4.59" height="2.63" fill="#f8d8d2"/>
<rect x="140.26" y="285.23" width="4.59" height="2.63" fill="#fbfcfe"/>
<rect x="26.7" y="287.81" width="4.59" height="2.63" fill="#dce7f4"/>
<rect x="31.24" y="287.81" width="4.59" height="2.63" fill="#e7eff7"/>
<rect x="35.78" y="287.81" width="4.59" height="2.63" fill="#fdf2f0"/>
<rect x="40.33" y="287.81" width="4.59" height="2.63" fill="#fef7f5"/>
<rect x="44.87" y="287.81" width="4.59" height="2.63" fill="#fceeec"/>
<rect x="49.41" y="287.81" width="4.59" height="2.63" fill="#fdf4f3"/>
<rect x="53.95" y="287.81" width="4.59" height="2.63" fill="#eff4fa"/>
<rect x="58.5" y="287.81" width="4.59" height="2.63" fill="#fdf1ef"/>
<rect x="63.04" y="287.81" width="4.59" height="2.63" fill="#fcebe8"/>
<rect x="67.58" y="287.81" width="4.59" height="2.63" fill="#fcebe8"/>
<rect x="72.12" y="287.81" width="4.59" height="2.63" fill="#fceeeb"/>
<rect x="76.67" y="287.81" width="4.59" height="2.63" fill="#fbe5e1"/>
<rect x="81.21" y="287.81" width="4.59" height="2.63" fill="#fafbfd"/>
<rect x="85.75" y="287.81" width="4.59" height="2.63" fill="#fdf6f4"/>
<rect x="90.29" y="287.81" width="4.59" height="2.63" fill="#fbe7e4"/>
<rect x="94.83" y="287.81" width="4.59" height="2.63" fill="#f4f7fb"/>
<rect x="99.38" y="287.81" width="4.59" height="2.63" fill="#fcf0ee"/>
<rect x="103.92" y="287.81" width="4.59" height="2.63" fill="#de3b2b"/>
<rect x="108.46" y="287.81" width="4.59" height="2.63" fill="#fefeff"/>
<rect x="113" y="287.81" width="4.59" height="2.63" fill="#fefaf9"/>
<rect x="117.55" y="287.81" width="4.59" height="2.63" fill="#fef7f6"/>
<rect x="122.09" y="287.81" width="4.59" height="2.63" fill="#fbe6e2"/>
<rect x="126.63" y="287.81" width="4.59" height="2.63" fill="#f6c7bf"/>
<rect x="131.17" y="287.81" width="4.59" height="2.63" fill="#fcf0ee"/>
<rect x="135.72" y="287.81" width="4.59" height="2.63" fill="#f8d6d1"/>
<rect x="140.26" y="287.81" width="4.59" height="2.63" fill="#fbe7e3"/>
<rect x="26.7" y="290.38" width="4.59" height="2.63" fill="#d5e2f1"/>
<rect x="31.24" y="290.38" width="4.59" height="2.63" fill="#e1ebf5"/>
<rect x="35.78" y="290.38" width="4.59" height="2.63" fill="#fceae7"/>
<rect x="40.33" y="290.38" width="4.59" height="2.63" fill="#fefeff"/>
<rect x="44.87" y="290.38" width="4.59" height="2.63" fill="#fdf1ef"/>
<rect x="49.41" y="290.38" width="4.59" height="2.63" fill="#fdf6f4"/>
<rect x="53.95" y="290.38" width="4.59" height="2.63" fill="#fceae7"/>
<rect x="58.5" y="290.38" width="4.59" height="2.63" fill="#fdf2f0"/>
<rect x="63.04" y="290.38" width="4.59" height="2.63" fill="#ffffff"/>
<rect x="67.58" y="290.38" width="4.59" height="2.63" fill="#f0f5fa"/>
<rect x="72.12" y="290.38" width="4.59" height="2.63" fill="#fceeec"/>
<rect x="76.67" y="290.38" width="4.59" height="2.63" fill="#fef9f8"/>
<rect x="81.21" y="290.38" width="4.59" height="2.63" fill="#fcedea"/>
<rect x="85.75" y="290.38" width="4.59" height="2.63" fill="#fcebe8"/>
<rect x="90.29" y="290.38" width="4.59" height="2.63" fill="#fafcfd"/>
<rect x="94.83" y="290.38" width="4.59" height="2.63" fill="#fcebe9"/>
<rect x="99.38" y="290.38" width="4.59" height="2.63" fill="#fefbfa"/>
<rect x="103.92" y="290.38" width="4.59" height="2.63" fill="#fefeff"/>
<rect x="108.46" y="290.38" width="4.59" height="2.63" fill="#de3b2b"/>
<rect x="113" y="290.38" width="4.59" height="2.63" fill="#f7f9fc"/>
<rect x="117.55" y="290.38" width="4.59" height="2.63" fill="#fefbfa"/>
<rect x="122.09" y="290.38" width="4.59" height="2.63" fill="#fceae8"/>
<rect x="126.63" y="290.38" width="4.59" height="2.63" fill="#f7cec7"/>
<rect x="131.17" y="290.38" width="4.59" height="2.63" fill="#f2f6fb"/>
<rect x="135.72" y="290.38" width="4.59" height="2.63" fill="#f9ded9"/>
<rect x="140.26" y="290.38" width="4.59" height="2.63" fill="#fdf2f1"/>
<rect x="26.7" y="292.96" width="4.59" height="2.63" fill="#ebf1f8"/>
<rect x="31.24" y="292.96" width="4.59" height="2.63" fill="#f9fbfd"/>
<rect x="35.78" y="292.96" width="4.59" height="2.63" fill="#fdf3f2"/>
<rect x="40.33" y="292.96" width="4.59" height="2.63" fill="#fffdfd"/>
<rect x="44.87" y="292.96" width="4.59" height="2.63" fill="#fdf3f2"/>
<rect x="49.41" y="292.96" width="4.59" height="2.63" fill="#fceeec"/>
<rect x="53.95" y="292.96" width="4.59" height="2.63" fill="#fcece9"/>
<rect x="58.5" y="292.96" width="4.59" height="2.63" fill="#fcedeb"/>
<rect x="63.04" y="292.96" width="4.59" height="2.63" fill="#fdf3f1"/>
<rect x="67.58" y="292.96" width="4.59" height="2.63" fill="#f5f8fc"/>
<rect x="72.12" y="292.96" width="4.59" height="2.63" fill="#f9dad5"/>
<rect x="76.67" y="292.96" width="4.59" height="2.63" fill="#fdfefe"/>
<rect x="81.21" y="292.96" width="4.59" height="2.63" fill="#f9d9d4"/>
<rect x="85.75" y="292.96" width="4.59" height="2.63" fill="#f6f9fc"/>
<rect x="90.29" y="292.96" width="4.59" height="2.63" fill="#fefaf9"/>
<rect x="94.83" y="292.96" width="4.59" height="2.63" fill="#fdfefe"/>
<rect x="99.38" y="292.96" width="4.59" height="2.63" fill="#fdf6f5"/>
<rect x="103.92" y="292.96" width="4.59" height="2.63" fill="#fefaf9"/>
<rect x="108.46" y="292.96" width="4.59" height="2.63" fill="#f7f9fc"/>
<rect x="113" y="292.96" width="4.59" height="2.63" fill="#de3b2b"/>
<rect x="117.55" y="292.96" width="4.59" height="2.63" fill="#fdf1ef"/>
<rect x="122.09" y="292.96" width="4.59" height="2.63" fill="#fcfdfe"/>
<rect x="126.63" y="292.96" width="4.59" height="2.63" fill="#f5c6be"/>
<rect x="131.17" y="292.96" width="4.59" height="2.63" fill="#fdf0ee"/>
<rect x="135.72" y="292.96" width="4.59" height="2.63" fill="#fbe6e3"/>
<rect x="140.26" y="292.96" width="4.59" height="2.63" fill="#f8fafd"/>
<rect x="26.7" y="295.54" width="4.59" height="2.63" fill="#d2e0f0"/>
<rect x="31.24" y="295.54" width="4.59" height="2.63" fill="#e2ebf6"/>
<rect x="35.78" y="295.54" width="4.59" height="2.63" fill="#fafcfd"/>
<rect x="40.33" y="295.54" width="4.59" height="2.63" fill="#fdf4f3"/>
<rect x="44.87" y="295.54" width="4.59" height="2.63" fill="#fefeff"/>
<rect x="49.41" y="295.54" width="4.59" height="2.63" fill="#fcfdfe"/>
<rect x="53.95" y="295.54" width="4.59" height="2.63" fill="#fbe9e7"/>
<rect x="58.5" y="295.54" width="4.59" height="2.63" fill="#f8d7d1"/>
<rect x="63.04" y="295.54" width="4.59" height="2.63" fill="#fbfcfe"/>
<rect x="67.58" y="295.54" width="4.59" height="2.63" fill="#fcfdfe"/>
<rect x="72.12" y="295.54" width="4.59" height="2.63" fill="#fae1dd"/>
<rect x="76.67" y="295.54" width="4.59" height="2.63" fill="#fcebe9"/>
<rect x="81.21" y="295.54" width="4.59" height="2.63" fill="#f7f9fc"/>
<rect x="85.75" y="295.54" width="4.59" height="2.63" fill="#fcebe8"/>
<rect x="90.29" y="295.54" width="4.59" height="2.63" fill="#f5f8fc"/>
<rect x="94.83" y="295.54" width="4.59" height="2.63" fill="#e7eff7"/>
<rect x="99.38" y="295.54" width="4.59" height="2.63" fill="#fefeff"/>
<rect x="103.92" y="295.54" width="4.59" height="2.63" fill="#fef7f6"/>
<rect x="108.46" y="295.54" width="4.59" height="2.63" fill="#fefbfa"/>
<rect x="113" y="295.54" width="4.59" height="2.63" fill="#fdf1ef"/>
<rect x="117.55" y="295.54" width="4.59" height="2.63" fill="#de3b2b"/>
<rect x="122.09" y="295.54" width="4.59" height="2.63" fill="#fcf0ee"/>
<rect x="126.63" y="295.54" width="4.59" height="2.63" fill="#f7cec7"/>
<rect x="131.17" y="295.54" width="4.59" height="2.63" fill="#fdf5f3"/>
<rect x="135.72" y="295.54" width="4.59" height="2.63" fill="#f8d5cf"/>
<rect x="140.26" y="295.54" width="4.59" height="2.63" fill="#fdf3f1"/>
<rect x="26.7" y="298.12" width="4.59" height="2.63" fill="#eff4fa"/>
<rect x="31.24" y="298.12" width="4.59" height="2.63" fill="#eff4fa"/>
<rect x="35.78" y="298.12" width="4.59" height="2.63" fill="#fcebe8"/>
<rect x="40.33" y="298.12" width="4.59" height="2.63" fill="#fefeff"/>
<rect x="44.87" y="298.12" width="4.59" height="2.63" fill="#fcf0ed"/>
<rect x="49.41" y="298.12" width="4.59" height="2.63" fill="#fafcfd"/>
<rect x="53.95" y="298.12" width="4.59" height="2.63" fill="#fcf0ee"/>
<rect x="58.5" y="298.12" width="4.59" height="2.63" fill="#fae1dd"/>
<rect x="63.04" y="298.12" width="4.59" height="2.63" fill="#fdf5f4"/>
<rect x="67.58" y="298.12" width="4.59" height="2.63" fill="#fdf5f3"/>
<rect x="72.12" y="298.12" width="4.59" height="2.63" fill="#f8fafd"/>
<rect x="76.67" y="298.12" width="4.59" height="2.63" fill="#fceae8"/>
<rect x="81.21" y="298.12" width="4.59" height="2.63" fill="#fefaf9"/>
<rect x="85.75" y="298.12" width="4.59" height="2.63" fill="#eef3f9"/>
<rect x="90.29" y="298.12" width="4.59" height="2.63" fill="#feffff"/>
<rect x="94.83" y="298.12" width="4.59" height="2.63" fill="#fbe5e2"/>
<rect x="99.38" y="298.12" width="4.59" height="2.63" fill="#fbe9e6"/>
<rect x="103.92" y="298.12" width="4.59" height="2.63" fill="#fbe6e2"/>
<rect x="108.46" y="298.12" width="4.59" height="2.63" fill="#fceae8"/>
<rect x="113" y="298.12" width="4.59" height="2.63" fill="#fcfdfe"/>
<rect x="117.55" y="298.12" width="4.59" height="2.63" fill="#fcf0ee"/>
<rect x="122.09" y="298.12" width="4.59" height="2.63" fill="#de3b2b"/>
<rect x="126.63" y="298.12" width="4.59" height="2.63" fill="#f6cac2"/>
<rect x="131.17" y="298.12" width="4.59" height="2.63" fill="#fae3df"/>
<rect x="135.72" y="298.12" width="4.59" height="2.63" fill="#f9dad4"/>
<rect x="140.26" y="298.12" width="4.59" height="2.63" fill="#dde8f4"/>
<rect x="26.7" y="300.69" width="4.59" height="2.63" fill="#c0d4ea"/>
<rect x="31.24" y="300.69" width="4.59" height="2.63" fill="#d2e0f0"/>
<rect x="35.78" y="300.69" width="4.59" height="2.63" fill="#f7d0ca"/>
<rect x="40.33" y="300.69" width="4.59" height="2.63" fill="#f9dcd7"/>
<rect x="44.87" y="300.69" width="4.59" height="2.63" fill="#f8d7d2"/>
<rect x="49.41" y="300.69" width="4.59" height="2.63" fill="#f8d5cf"/>
<rect x="53.95" y="300.69" width="4.59" height="2.63" fill="#f6cbc3"/>
<rect x="58.5" y="300.69" width="4.59" height="2.63" fill="#f4bdb4"/>
<rect x="63.04" y="300.69" width="4.59" height="2.63" fill="#f7d1ca"/>
<rect x="67.58" y="300.69" width="4.59" height="2.63" fill="#f5c1b9"/>
<rect x="72.12" y="300.69" width="4.59" height="2.63" fill="#f7d2cc"/>
<rect x="76.67" y="300.69" width="4.59" height="2.63" fill="#f6ccc5"/>
<rect x="81.21" y="300.69" width="4.59" height="2.63" fill="#f6cac3"/>
<rect x="85.75" y="300.69" width="4.59" height="2.63" fill="#f3bab1"/>
<rect x="90.29" y="300.69" width="4.59" height="2.63" fill="#f6cac3"/>
<rect x="94.83" y="300.69" width="4.59" height="2.63" fill="#f9ddd8"/>
<rect x="99.38" y="300.69" width="4.59" height="2.63" fill="#f7d1cb"/>
<rect x="103.92" y="300.69" width="4.59" height="2.63" fill="#f6c7bf"/>
<rect x="108.46" y="300.69" width="4.59" height="2.63" fill="#f7cec7"/>
<rect x="113" y="300.69" width="4.59" height="2.63" fill="#f5c6be"/>
<rect x="117.55" y="300.69" width="4.59" height="2.63" fill="#f7cec7"/>
<rect x="122.09" y="300.69" width="4.59" height="2.63" fill="#f6cac2"/>
<rect x="126.63" y="300.69" width="4.59" height="2.63" fill="#de3b2b"/>
<rect x="131.17" y="300.69" width="4.59" height="2.63" fill="#f4bfb6"/>
<rect x="135.72" y="300.69" width="4.59" height="2.63" fill="#f6cac2"/>
<rect x="140.26" y="300.69" width="4.59" height="2.63" fill="#f2b5aa"/>
<rect x="26.7" y="303.27" width="4.59" height="2.63" fill="#c4d7ec"/>
<rect x="31.24" y="303.27" width="4.59" height="2.63" fill="#dbe6f3"/>
<rect x="35.78" y="303.27" width="4.59" height="2.63" fill="#fffffe"/>
<rect x="40.33" y="303.27" width="4.59" height="2.63" fill="#fcefed"/>
<rect x="44.87" y="303.27" width="4.59" height="2.63" fill="#fdfdfe"/>
<rect x="49.41" y="303.27" width="4.59" height="2.63" fill="#fafcfd"/>
<rect x="53.95" y="303.27" width="4.59" height="2.63" fill="#f3f7fb"/>
<rect x="58.5" y="303.27" width="4.59" height="2.63" fill="#feffff"/>
<rect x="63.04" y="303.27" width="4.59" height="2.63" fill="#fadfda"/>
<rect x="67.58" y="303.27" width="4.59" height="2.63" fill="#fdf5f4"/>
<rect x="72.12" y="303.27" width="4.59" height="2.63" fill="#f9dad5"/>
<rect x="76.67" y="303.27" width="4.59" height="2.63" fill="#fceeeb"/>
<rect x="81.21" y="303.27" width="4.59" height="2.63" fill="#fbe9e6"/>
<rect x="85.75" y="303.27" width="4.59" height="2.63" fill="#fbe7e4"/>
<rect x="90.29" y="303.27" width="4.59" height="2.63" fill="#fef9f8"/>
<rect x="94.83" y="303.27" width="4.59" height="2.63" fill="#fcefed"/>
<rect x="99.38" y="303.27" width="4.59" height="2.63" fill="#fdf2f0"/>
<rect x="103.92" y="303.27" width="4.59" height="2.63" fill="#fcf0ee"/>
<rect x="108.46" y="303.27" width="4.59" height="2.63" fill="#f2f6fb"/>
<rect x="113" y="303.27" width="4.59" height="2.63" fill="#fdf0ee"/>
<rect x="117.55" y="303.27" width="4.59" height="2.63" fill="#fdf5f3"/>
<rect x="122.09" y="303.27" width="4.59" height="2.63" fill="#fae3df"/>
<rect x="126.63" y="303.27" width="4.59" height="2.63" fill="#f4bfb6"/>
<rect x="131.17" y="303.27" width="4.59" height="2.63" fill="#de3b2b"/>
<rect x="135.72" y="303.27" width="4.59" height="2.63" fill="#f1ada2"/>
<rect x="140.26" y="303.27" width="4.59" height="2.63" fill="#f0a89c"/>
<rect x="26.7" y="305.85" width="4.59" height="2.63" fill="#d2e0f0"/>
<rect x="31.24" y="305.85" width="4.59" height="2.63" fill="#dfe9f5"/>
<rect x="35.78" y="305.85" width="4.59" height="2.63" fill="#f9d9d3"/>
<rect x="40.33" y="305.85" width="4.59" height="2.63" fill="#fceeec"/>
<rect x="44.87" y="305.85" width="4.59" height="2.63" fill="#f8d7d1"/>
<rect x="49.41" y="305.85" width="4.59" height="2.63" fill="#fadfdb"/>
<rect x="53.95" y="305.85" width="4.59" height="2.63" fill="#fae3df"/>
<rect x="58.5" y="305.85" width="4.59" height="2.63" fill="#fbe8e5"/>
<rect x="63.04" y="305.85" width="4.59" height="2.63" fill="#f9dbd6"/>
<rect x="67.58" y="305.85" width="4.59" height="2.63" fill="#fae3e0"/>
<rect x="72.12" y="305.85" width="4.59" height="2.63" fill="#fbe5e1"/>
<rect x="76.67" y="305.85" width="4.59" height="2.63" fill="#f9ddd9"/>
<rect x="81.21" y="305.85" width="4.59" height="2.63" fill="#f9dbd5"/>
<rect x="85.75" y="305.85" width="4.59" height="2.63" fill="#fcebe8"/>
<rect x="90.29" y="305.85" width="4.59" height="2.63" fill="#f9dbd6"/>
<rect x="94.83" y="305.85" width="4.59" height="2.63" fill="#fadfda"/>
<rect x="99.38" y="305.85" width="4.59" height="2.63" fill="#f8d8d2"/>
<rect x="103.92" y="305.85" width="4.59" height="2.63" fill="#f8d6d1"/>
<rect x="108.46" y="305.85" width="4.59" height="2.63" fill="#f9ded9"/>
<rect x="113" y="305.85" width="4.59" height="2.63" fill="#fbe6e3"/>
<rect x="117.55" y="305.85" width="4.59" height="2.63" fill="#f8d5cf"/>
<rect x="122.09" y="305.85" width="4.59" height="2.63" fill="#f9dad4"/>
<rect x="126.63" y="305.85" width="4.59" height="2.63" fill="#f6cac2"/>
<rect x="131.17" y="305.85" width="4.59" height="2.63" fill="#f1ada2"/>
<rect x="135.72" y="305.85" width="4.59" height="2.63" fill="#de3b2b"/>
<rect x="140.26" y="305.85" width="4.59" height="2.63" fill="#f0a79b"/>
<rect x="26.7" y="308.42" width="4.59" height="2.63" fill="#aec8e4"/>
<rect x="31.24" y="308.42" width="4.59" height="2.63" fill="#c4d7ec"/>
<rect x="35.78" y="308.42" width="4.59" height="2.63" fill="#f4bfb6"/>
<rect x="40.33" y="308.42" width="4.59" height="2.63" fill="#f3b7ad"/>
<rect x="44.87" y="308.42" width="4.59" height="2.63" fill="#f4beb5"/>
<rect x="49.41" y="308.42" width="4.59" height="2.63" fill="#f6ccc5"/>
<rect x="53.95" y="308.42" width="4.59" height="2.63" fill="#f4bbb2"/>
<rect x="58.5" y="308.42" width="4.59" height="2.63" fill="#f6c7c0"/>
<rect x="63.04" y="308.42" width="4.59" height="2.63" fill="#f4c0b8"/>
<rect x="67.58" y="308.42" width="4.59" height="2.63" fill="#f3b7ad"/>
<rect x="72.12" y="308.42" width="4.59" height="2.63" fill="#f5c2ba"/>
<rect x="76.67" y="308.42" width="4.59" height="2.63" fill="#f4bfb6"/>
<rect x="81.21" y="308.42" width="4.59" height="2.63" fill="#f5c6be"/>
<rect x="85.75" y="308.42" width="4.59" height="2.63" fill="#f5c3bb"/>
<rect x="90.29" y="308.42" width="4.59" height="2.63" fill="#f3b7ad"/>
<rect x="94.83" y="308.42" width="4.59" height="2.63" fill="#fcecea"/>
<rect x="99.38" y="308.42" width="4.59" height="2.63" fill="#fbfcfe"/>
<rect x="103.92" y="308.42" width="4.59" height="2.63" fill="#fbe7e3"/>
<rect x="108.46" y="308.42" width="4.59" height="2.63" fill="#fdf2f1"/>
<rect x="113" y="308.42" width="4.59" height="2.63" fill="#f8fafd"/>
<rect x="117.55" y="308.42" width="4.59" height="2.63" fill="#fdf3f1"/>
<rect x="122.09" y="308.42" width="4.59" height="2.63" fill="#dde8f4"/>
<rect x="126.63" y="308.42" width="4.59" height="2.63" fill="#f2b5aa"/>
<rect x="131.17" y="308.42" width="4.59" height="2.63" fill="#f0a89c"/>
<rect x="135.72" y="308.42" width="4.59" height="2.63" fill="#f0a79b"/>
<rect x="140.26" y="308.42" width="4.59" height="2.63" fill="#de3b2b"/>
<rect x="26.7" y="244" width="118.1" height="67" fill="none" stroke="#c8c8c8" stroke-width="0.4"/>
<text x="23.2" y="246.44" font-size="3.35" text-anchor="end" fill="#111">blue</text>
<text x="30.12" y="313" font-size="3.35" text-anchor="end" fill="#111" transform="rotate(-90 30.12 313)">blue</text>
<text x="23.2" y="249.02" font-size="3.35" text-anchor="end" fill="#111">royalblue</text>
<text x="34.66" y="313" font-size="3.35" text-anchor="end" fill="#111" transform="rotate(-90 34.66 313)">royalblue</text>
<text x="23.2" y="251.59" font-size="3.35" text-anchor="end" fill="#111">yellow</text>
<text x="39.21" y="313" font-size="3.35" text-anchor="end" fill="#111" transform="rotate(-90 39.21 313)">yellow</text>
<text x="23.2" y="254.17" font-size="3.35" text-anchor="end" fill="#111">black</text>
<text x="43.75" y="313" font-size="3.35" text-anchor="end" fill="#111" transform="rotate(-90 43.75 313)">black</text>
<text x="23.2" y="256.75" font-size="3.35" text-anchor="end" fill="#111">grey60</text>
<text x="48.29" y="313" font-size="3.35" text-anchor="end" fill="#111" transform="rotate(-90 48.29 313)">grey60</text>
<text x="23.2" y="259.32" font-size="3.35" text-anchor="end" fill="#111">darkorange</text>
<text x="52.83" y="313" font-size="3.35" text-anchor="end" fill="#111" transform="rotate(-90 52.83 313)">darkorange</text>
<text x="23.2" y="261.9" font-size="3.35" text-anchor="end" fill="#111">darkred</text>
<text x="57.38" y="313" font-size="3.35" text-anchor="end" fill="#111" transform="rotate(-90 57.38 313)">darkred</text>
<text x="23.2" y="264.48" font-size="3.35" text-anchor="end" fill="#111">lightgreen</text>
<text x="61.92" y="313" font-size="3.35" text-anchor="end" fill="#111" transform="rotate(-90 61.92 313)">lightgreen</text>
<text x="23.2" y="267.05" font-size="3.35" text-anchor="end" fill="#111">magenta</text>
<text x="66.46" y="313" font-size="3.35" text-anchor="end" fill="#111" transform="rotate(-90 66.46 313)">magenta</text>
<text x="23.2" y="269.63" font-size="3.35" text-anchor="end" fill="#111">orange</text>
<text x="71" y="313" font-size="3.35" text-anchor="end" fill="#111" transform="rotate(-90 71 313)">orange</text>
<text x="23.2" y="272.21" font-size="3.35" text-anchor="end" fill="#111">lightyellow</text>
<text x="75.54" y="313" font-size="3.35" text-anchor="end" fill="#111" transform="rotate(-90 75.54 313)">lightyellow</text>
<text x="23.2" y="274.78" font-size="3.35" text-anchor="end" fill="#111">darkgreen</text>
<text x="80.09" y="313" font-size="3.35" text-anchor="end" fill="#111" transform="rotate(-90 80.09 313)">darkgreen</text>
<text x="23.2" y="277.36" font-size="3.35" text-anchor="end" fill="#111">red</text>
<text x="84.63" y="313" font-size="3.35" text-anchor="end" fill="#111" transform="rotate(-90 84.63 313)">red</text>
<text x="23.2" y="279.94" font-size="3.35" text-anchor="end" fill="#111">salmon</text>
<text x="89.17" y="313" font-size="3.35" text-anchor="end" fill="#111" transform="rotate(-90 89.17 313)">salmon</text>
<text x="23.2" y="282.52" font-size="3.35" text-anchor="end" fill="#111">tan</text>
<text x="93.71" y="313" font-size="3.35" text-anchor="end" fill="#111" transform="rotate(-90 93.71 313)">tan</text>
<text x="23.2" y="285.09" font-size="3.35" text-anchor="end" fill="#111">midnightblue</text>
<text x="98.26" y="313" font-size="3.35" text-anchor="end" fill="#111" transform="rotate(-90 98.26 313)">midnightblue</text>
<text x="23.2" y="287.67" font-size="3.35" text-anchor="end" fill="#111">darkgrey</text>
<text x="102.8" y="313" font-size="3.35" text-anchor="end" fill="#111" transform="rotate(-90 102.8 313)">darkgrey</text>
<text x="23.2" y="290.25" font-size="3.35" text-anchor="end" fill="#111">green</text>
<text x="107.34" y="313" font-size="3.35" text-anchor="end" fill="#111" transform="rotate(-90 107.34 313)">green</text>
<text x="23.2" y="292.82" font-size="3.35" text-anchor="end" fill="#111">pink</text>
<text x="111.88" y="313" font-size="3.35" text-anchor="end" fill="#111" transform="rotate(-90 111.88 313)">pink</text>
<text x="23.2" y="295.4" font-size="3.35" text-anchor="end" fill="#111">turquoise</text>
<text x="116.43" y="313" font-size="3.35" text-anchor="end" fill="#111" transform="rotate(-90 116.43 313)">turquoise</text>
<text x="23.2" y="297.98" font-size="3.35" text-anchor="end" fill="#111">purple</text>
<text x="120.97" y="313" font-size="3.35" text-anchor="end" fill="#111" transform="rotate(-90 120.97 313)">purple</text>
<text x="23.2" y="300.55" font-size="3.35" text-anchor="end" fill="#111">lightcyan</text>
<text x="125.51" y="313" font-size="3.35" text-anchor="end" fill="#111" transform="rotate(-90 125.51 313)">lightcyan</text>
<text x="23.2" y="303.13" font-size="3.35" text-anchor="end" fill="#111">darkturquoise</text>
<text x="130.05" y="313" font-size="3.35" text-anchor="end" fill="#111" transform="rotate(-90 130.05 313)">darkturquoise</text>
<text x="23.2" y="305.71" font-size="3.35" text-anchor="end" fill="#111">cyan</text>
<text x="134.59" y="313" font-size="3.35" text-anchor="end" fill="#111" transform="rotate(-90 134.59 313)">cyan</text>
<text x="23.2" y="308.28" font-size="3.35" text-anchor="end" fill="#111">brown</text>
<text x="139.14" y="313" font-size="3.35" text-anchor="end" fill="#111" transform="rotate(-90 139.14 313)">brown</text>
<text x="23.2" y="310.86" font-size="3.35" text-anchor="end" fill="#111">greenyellow</text>
<text x="143.68" y="313" font-size="3.35" text-anchor="end" fill="#111" transform="rotate(-90 143.68 313)">greenyellow</text>
<defs><linearGradient id="gC" x1="0" y1="1" x2="0" y2="0"><stop offset="0.000" stop-color="#3B6FB6"/><stop offset="0.250" stop-color="#8EB2DA"/><stop offset="0.500" stop-color="#FFFFFF"/><stop offset="0.750" stop-color="#EE9A8C"/><stop offset="1.000" stop-color="#DE3B2B"/></linearGradient></defs>
<rect x="148" y="248" width="6.1" height="59" fill="url(#gC)" stroke="#aaa" stroke-width="0.3"/>
<line x1="154.1" y1="248" x2="157.3" y2="248" stroke="#888" stroke-width="0.4"/>
<text x="158.4" y="249.2" font-size="3.3" fill="#333" stroke="#333" stroke-width="0.1">1</text>
<line x1="154.1" y1="259.8" x2="157.3" y2="259.8" stroke="#888" stroke-width="0.4"/>
<text x="158.4" y="261" font-size="3.3" fill="#333" stroke="#333" stroke-width="0.1">0.8</text>
<line x1="154.1" y1="271.6" x2="157.3" y2="271.6" stroke="#888" stroke-width="0.4"/>
<text x="158.4" y="272.8" font-size="3.3" fill="#333" stroke="#333" stroke-width="0.1">0.6</text>
<line x1="154.1" y1="283.4" x2="157.3" y2="283.4" stroke="#888" stroke-width="0.4"/>
<text x="158.4" y="284.6" font-size="3.3" fill="#333" stroke="#333" stroke-width="0.1">0.4</text>
<line x1="154.1" y1="295.2" x2="157.3" y2="295.2" stroke="#888" stroke-width="0.4"/>
<text x="158.4" y="296.4" font-size="3.3" fill="#333" stroke="#333" stroke-width="0.1">0.2</text>
<line x1="154.1" y1="307" x2="157.3" y2="307" stroke="#888" stroke-width="0.4"/>
<text x="158.4" y="308.2" font-size="3.3" fill="#333" stroke="#333" stroke-width="0.1">0</text>
<text x="268" y="153.5" font-size="7.07" text-anchor="middle" fill="#111" font-family="'Liberation Serif', 'Times New Roman', serif" stroke="#111" stroke-width="0.15">Module-trait relationships</text>
<rect x="200.6" y="161.8" width="16.71" height="5.69" fill="#f7f9fc"/>
<rect x="217.28" y="161.8" width="16.71" height="5.69" fill="#fdf4f3"/>
<rect x="233.95" y="161.8" width="16.71" height="5.69" fill="#fefeff"/>
<rect x="250.62" y="161.8" width="16.71" height="5.69" fill="#fdf6f5"/>
<rect x="267.3" y="161.8" width="16.71" height="5.69" fill="#fefbfb"/>
<rect x="283.98" y="161.8" width="16.71" height="5.69" fill="#f6f9fc"/>
<rect x="300.65" y="161.8" width="16.71" height="5.69" fill="#f8fafd"/>
<rect x="317.32" y="161.8" width="16.71" height="5.69" fill="#fdfdfe"/>
<rect x="200.6" y="167.45" width="16.71" height="5.69" fill="#fceeec"/>
<rect x="217.28" y="167.45" width="16.71" height="5.69" fill="#edf3f9"/>
<rect x="233.95" y="167.45" width="16.71" height="5.69" fill="#fefafa"/>
<rect x="250.62" y="167.45" width="16.71" height="5.69" fill="#fcfdfe"/>
<rect x="267.3" y="167.45" width="16.71" height="5.69" fill="#fefaf9"/>
<rect x="283.98" y="167.45" width="16.71" height="5.69" fill="#fefbfb"/>
<rect x="300.65" y="167.45" width="16.71" height="5.69" fill="#fafcfd"/>
<rect x="317.32" y="167.45" width="16.71" height="5.69" fill="#e9eff7"/>
<rect x="200.6" y="173.1" width="16.71" height="5.69" fill="#cddcee"/>
<rect x="217.28" y="173.1" width="16.71" height="5.69" fill="#fef8f7"/>
<rect x="233.95" y="173.1" width="16.71" height="5.69" fill="#fdfdfe"/>
<rect x="250.62" y="173.1" width="16.71" height="5.69" fill="#fdf3f1"/>
<rect x="267.3" y="173.1" width="16.71" height="5.69" fill="#fefbfb"/>
<rect x="283.98" y="173.1" width="16.71" height="5.69" fill="#fef8f7"/>
<rect x="300.65" y="173.1" width="16.71" height="5.69" fill="#f6f8fc"/>
<rect x="317.32" y="173.1" width="16.71" height="5.69" fill="#f5f8fc"/>
<rect x="200.6" y="178.75" width="16.71" height="5.69" fill="#fbfcfe"/>
<rect x="217.28" y="178.75" width="16.71" height="5.69" fill="#fef8f7"/>
<rect x="233.95" y="178.75" width="16.71" height="5.69" fill="#fdf1ef"/>
<rect x="250.62" y="178.75" width="16.71" height="5.69" fill="#fffefe"/>
<rect x="267.3" y="178.75" width="16.71" height="5.69" fill="#fdfefe"/>
<rect x="283.98" y="178.75" width="16.71" height="5.69" fill="#fdfdfe"/>
<rect x="300.65" y="178.75" width="16.71" height="5.69" fill="#fefbfa"/>
<rect x="317.32" y="178.75" width="16.71" height="5.69" fill="#fdf6f5"/>
<rect x="200.6" y="184.4" width="16.71" height="5.69" fill="#fbfcfe"/>
<rect x="217.28" y="184.4" width="16.71" height="5.69" fill="#f7fafc"/>
<rect x="233.95" y="184.4" width="16.71" height="5.69" fill="#fdf6f5"/>
<rect x="250.62" y="184.4" width="16.71" height="5.69" fill="#f9fbfd"/>
<rect x="267.3" y="184.4" width="16.71" height="5.69" fill="#f3f6fb"/>
<rect x="283.98" y="184.4" width="16.71" height="5.69" fill="#fdf6f5"/>
<rect x="300.65" y="184.4" width="16.71" height="5.69" fill="#fdf5f3"/>
<rect x="317.32" y="184.4" width="16.71" height="5.69" fill="#f4f7fb"/>
<rect x="200.6" y="190.05" width="16.71" height="5.69" fill="#fcf0ee"/>
<rect x="217.28" y="190.05" width="16.71" height="5.69" fill="#f7fafc"/>
<rect x="233.95" y="190.05" width="16.71" height="5.69" fill="#fef8f7"/>
<rect x="250.62" y="190.05" width="16.71" height="5.69" fill="#fdfefe"/>
<rect x="267.3" y="190.05" width="16.71" height="5.69" fill="#fffefe"/>
<rect x="283.98" y="190.05" width="16.71" height="5.69" fill="#fefafa"/>
<rect x="300.65" y="190.05" width="16.71" height="5.69" fill="#fef7f6"/>
<rect x="317.32" y="190.05" width="16.71" height="5.69" fill="#fcfdfe"/>
<rect x="200.6" y="195.7" width="16.71" height="5.69" fill="#fbe7e3"/>
<rect x="217.28" y="195.7" width="16.71" height="5.69" fill="#f2f6fb"/>
<rect x="233.95" y="195.7" width="16.71" height="5.69" fill="#ffffff"/>
<rect x="250.62" y="195.7" width="16.71" height="5.69" fill="#f9dfdb"/>
<rect x="267.3" y="195.7" width="16.71" height="5.69" fill="#fffefe"/>
<rect x="283.98" y="195.7" width="16.71" height="5.69" fill="#fffefe"/>
<rect x="300.65" y="195.7" width="16.71" height="5.69" fill="#fffefe"/>
<rect x="317.32" y="195.7" width="16.71" height="5.69" fill="#fcece9"/>
<rect x="200.6" y="201.35" width="16.71" height="5.69" fill="#fef8f8"/>
<rect x="217.28" y="201.35" width="16.71" height="5.69" fill="#f5f8fc"/>
<rect x="233.95" y="201.35" width="16.71" height="5.69" fill="#f9fbfd"/>
<rect x="250.62" y="201.35" width="16.71" height="5.69" fill="#f9ddd8"/>
<rect x="267.3" y="201.35" width="16.71" height="5.69" fill="#fdf5f4"/>
<rect x="283.98" y="201.35" width="16.71" height="5.69" fill="#fefcfb"/>
<rect x="300.65" y="201.35" width="16.71" height="5.69" fill="#fbe9e6"/>
<rect x="317.32" y="201.35" width="16.71" height="5.69" fill="#fbfcfe"/>
<rect x="200.6" y="207" width="16.71" height="5.69" fill="#edf2f9"/>
<rect x="217.28" y="207" width="16.71" height="5.69" fill="#fef9f8"/>
<rect x="233.95" y="207" width="16.71" height="5.69" fill="#fffdfd"/>
<rect x="250.62" y="207" width="16.71" height="5.69" fill="#fefcfc"/>
<rect x="267.3" y="207" width="16.71" height="5.69" fill="#fefeff"/>
<rect x="283.98" y="207" width="16.71" height="5.69" fill="#eff4f9"/>
<rect x="300.65" y="207" width="16.71" height="5.69" fill="#fcf1ef"/>
<rect x="317.32" y="207" width="16.71" height="5.69" fill="#fefafa"/>
<rect x="200.6" y="212.65" width="16.71" height="5.69" fill="#fffdfd"/>
<rect x="217.28" y="212.65" width="16.71" height="5.69" fill="#f9fbfd"/>
<rect x="233.95" y="212.65" width="16.71" height="5.69" fill="#fceeec"/>
<rect x="250.62" y="212.65" width="16.71" height="5.69" fill="#fae5e2"/>
<rect x="267.3" y="212.65" width="16.71" height="5.69" fill="#fef9f9"/>
<rect x="283.98" y="212.65" width="16.71" height="5.69" fill="#fffcfc"/>
<rect x="300.65" y="212.65" width="16.71" height="5.69" fill="#fefaf9"/>
<rect x="317.32" y="212.65" width="16.71" height="5.69" fill="#fdf6f5"/>
<rect x="200.6" y="218.3" width="16.71" height="5.69" fill="#fffdfc"/>
<rect x="217.28" y="218.3" width="16.71" height="5.69" fill="#fefcfb"/>
<rect x="233.95" y="218.3" width="16.71" height="5.69" fill="#fffffe"/>
<rect x="250.62" y="218.3" width="16.71" height="5.69" fill="#fae1dd"/>
<rect x="267.3" y="218.3" width="16.71" height="5.69" fill="#fdf4f3"/>
<rect x="283.98" y="218.3" width="16.71" height="5.69" fill="#fefaf9"/>
<rect x="300.65" y="218.3" width="16.71" height="5.69" fill="#fefbfa"/>
<rect x="317.32" y="218.3" width="16.71" height="5.69" fill="#fef8f7"/>
<rect x="200.6" y="223.95" width="16.71" height="5.69" fill="#fdf1f0"/>
<rect x="217.28" y="223.95" width="16.71" height="5.69" fill="#fcfdfe"/>
<rect x="233.95" y="223.95" width="16.71" height="5.69" fill="#fafbfd"/>
<rect x="250.62" y="223.95" width="16.71" height="5.69" fill="#fbfcfe"/>
<rect x="267.3" y="223.95" width="16.71" height="5.69" fill="#fefbfa"/>
<rect x="283.98" y="223.95" width="16.71" height="5.69" fill="#fefeff"/>
<rect x="300.65" y="223.95" width="16.71" height="5.69" fill="#fefbfa"/>
<rect x="317.32" y="223.95" width="16.71" height="5.69" fill="#fdf2f0"/>
<rect x="200.6" y="229.6" width="16.71" height="5.69" fill="#fefcfb"/>
<rect x="217.28" y="229.6" width="16.71" height="5.69" fill="#fef9f9"/>
<rect x="233.95" y="229.6" width="16.71" height="5.69" fill="#fefcfb"/>
<rect x="250.62" y="229.6" width="16.71" height="5.69" fill="#fdf4f3"/>
<rect x="267.3" y="229.6" width="16.71" height="5.69" fill="#fbeae7"/>
<rect x="283.98" y="229.6" width="16.71" height="5.69" fill="#fffdfd"/>
<rect x="300.65" y="229.6" width="16.71" height="5.69" fill="#fef9f8"/>
<rect x="317.32" y="229.6" width="16.71" height="5.69" fill="#fdf4f2"/>
<rect x="200.6" y="235.25" width="16.71" height="5.69" fill="#e4ecf6"/>
<rect x="217.28" y="235.25" width="16.71" height="5.69" fill="#f4bfb6"/>
<rect x="233.95" y="235.25" width="16.71" height="5.69" fill="#f9fbfd"/>
<rect x="250.62" y="235.25" width="16.71" height="5.69" fill="#ecf2f8"/>
<rect x="267.3" y="235.25" width="16.71" height="5.69" fill="#fdf7f5"/>
<rect x="283.98" y="235.25" width="16.71" height="5.69" fill="#fdfefe"/>
<rect x="300.65" y="235.25" width="16.71" height="5.69" fill="#fdf4f2"/>
<rect x="317.32" y="235.25" width="16.71" height="5.69" fill="#f8fafd"/>
<rect x="200.6" y="240.9" width="16.71" height="5.69" fill="#fefbfa"/>
<rect x="217.28" y="240.9" width="16.71" height="5.69" fill="#f6ccc5"/>
<rect x="233.95" y="240.9" width="16.71" height="5.69" fill="#fefcfb"/>
<rect x="250.62" y="240.9" width="16.71" height="5.69" fill="#fefbfb"/>
<rect x="267.3" y="240.9" width="16.71" height="5.69" fill="#f2f6fa"/>
<rect x="283.98" y="240.9" width="16.71" height="5.69" fill="#ebf1f8"/>
<rect x="300.65" y="240.9" width="16.71" height="5.69" fill="#f3f7fb"/>
<rect x="317.32" y="240.9" width="16.71" height="5.69" fill="#fefaf9"/>
<rect x="200.6" y="246.55" width="16.71" height="5.69" fill="#f6f9fc"/>
<rect x="217.28" y="246.55" width="16.71" height="5.69" fill="#fefaf9"/>
<rect x="233.95" y="246.55" width="16.71" height="5.69" fill="#ffffff"/>
<rect x="250.62" y="246.55" width="16.71" height="5.69" fill="#fffefe"/>
<rect x="267.3" y="246.55" width="16.71" height="5.69" fill="#fefbfa"/>
<rect x="283.98" y="246.55" width="16.71" height="5.69" fill="#f0f5fa"/>
<rect x="300.65" y="246.55" width="16.71" height="5.69" fill="#f5f8fc"/>
<rect x="317.32" y="246.55" width="16.71" height="5.69" fill="#fefbfb"/>
<rect x="200.6" y="252.2" width="16.71" height="5.69" fill="#fffdfd"/>
<rect x="217.28" y="252.2" width="16.71" height="5.69" fill="#f9ddd9"/>
<rect x="233.95" y="252.2" width="16.71" height="5.69" fill="#f5f8fb"/>
<rect x="250.62" y="252.2" width="16.71" height="5.69" fill="#fef8f7"/>
<rect x="267.3" y="252.2" width="16.71" height="5.69" fill="#f6f9fc"/>
<rect x="283.98" y="252.2" width="16.71" height="5.69" fill="#ffffff"/>
<rect x="300.65" y="252.2" width="16.71" height="5.69" fill="#ebf1f8"/>
<rect x="317.32" y="252.2" width="16.71" height="5.69" fill="#fdf6f5"/>
<rect x="200.6" y="257.85" width="16.71" height="5.69" fill="#fef9f8"/>
<rect x="217.28" y="257.85" width="16.71" height="5.69" fill="#fafbfd"/>
<rect x="233.95" y="257.85" width="16.71" height="5.69" fill="#f8fafd"/>
<rect x="250.62" y="257.85" width="16.71" height="5.69" fill="#fffdfd"/>
<rect x="267.3" y="257.85" width="16.71" height="5.69" fill="#fef8f7"/>
<rect x="283.98" y="257.85" width="16.71" height="5.69" fill="#fef7f6"/>
<rect x="300.65" y="257.85" width="16.71" height="5.69" fill="#fdf4f3"/>
<rect x="317.32" y="257.85" width="16.71" height="5.69" fill="#fffefe"/>
<rect x="200.6" y="263.5" width="16.71" height="5.69" fill="#fef9f9"/>
<rect x="217.28" y="263.5" width="16.71" height="5.69" fill="#fffffe"/>
<rect x="233.95" y="263.5" width="16.71" height="5.69" fill="#f6f9fc"/>
<rect x="250.62" y="263.5" width="16.71" height="5.69" fill="#fffefd"/>
<rect x="267.3" y="263.5" width="16.71" height="5.69" fill="#fbfcfe"/>
<rect x="283.98" y="263.5" width="16.71" height="5.69" fill="#fef7f6"/>
<rect x="300.65" y="263.5" width="16.71" height="5.69" fill="#f9fbfd"/>
<rect x="317.32" y="263.5" width="16.71" height="5.69" fill="#fbfcfe"/>
<rect x="200.6" y="269.15" width="16.71" height="5.69" fill="#ffffff"/>
<rect x="217.28" y="269.15" width="16.71" height="5.69" fill="#fdfefe"/>
<rect x="233.95" y="269.15" width="16.71" height="5.69" fill="#fdf3f2"/>
<rect x="250.62" y="269.15" width="16.71" height="5.69" fill="#f5f8fc"/>
<rect x="267.3" y="269.15" width="16.71" height="5.69" fill="#fef8f7"/>
<rect x="283.98" y="269.15" width="16.71" height="5.69" fill="#f2f6fb"/>
<rect x="300.65" y="269.15" width="16.71" height="5.69" fill="#fefcfc"/>
<rect x="317.32" y="269.15" width="16.71" height="5.69" fill="#fceeeb"/>
<rect x="200.6" y="274.8" width="16.71" height="5.69" fill="#e8eff7"/>
<rect x="217.28" y="274.8" width="16.71" height="5.69" fill="#fffdfd"/>
<rect x="233.95" y="274.8" width="16.71" height="5.69" fill="#fef7f6"/>
<rect x="250.62" y="274.8" width="16.71" height="5.69" fill="#fafbfd"/>
<rect x="267.3" y="274.8" width="16.71" height="5.69" fill="#edf3f9"/>
<rect x="283.98" y="274.8" width="16.71" height="5.69" fill="#fafcfd"/>
<rect x="300.65" y="274.8" width="16.71" height="5.69" fill="#fef9f9"/>
<rect x="317.32" y="274.8" width="16.71" height="5.69" fill="#fdf5f4"/>
<rect x="200.6" y="280.45" width="16.71" height="5.69" fill="#fffcfc"/>
<rect x="217.28" y="280.45" width="16.71" height="5.69" fill="#ffffff"/>
<rect x="233.95" y="280.45" width="16.71" height="5.69" fill="#fafcfd"/>
<rect x="250.62" y="280.45" width="16.71" height="5.69" fill="#fffdfd"/>
<rect x="267.3" y="280.45" width="16.71" height="5.69" fill="#ebf1f8"/>
<rect x="283.98" y="280.45" width="16.71" height="5.69" fill="#fefeff"/>
<rect x="300.65" y="280.45" width="16.71" height="5.69" fill="#f7fafc"/>
<rect x="317.32" y="280.45" width="16.71" height="5.69" fill="#fffdfd"/>
<rect x="200.6" y="286.1" width="16.71" height="5.69" fill="#dbe6f3"/>
<rect x="217.28" y="286.1" width="16.71" height="5.69" fill="#f2f6fb"/>
<rect x="233.95" y="286.1" width="16.71" height="5.69" fill="#f7fafc"/>
<rect x="250.62" y="286.1" width="16.71" height="5.69" fill="#fae3e0"/>
<rect x="267.3" y="286.1" width="16.71" height="5.69" fill="#fbeae7"/>
<rect x="283.98" y="286.1" width="16.71" height="5.69" fill="#fae5e2"/>
<rect x="300.65" y="286.1" width="16.71" height="5.69" fill="#fae5e2"/>
<rect x="317.32" y="286.1" width="16.71" height="5.69" fill="#fceeec"/>
<rect x="200.6" y="291.75" width="16.71" height="5.69" fill="#dfe9f4"/>
<rect x="217.28" y="291.75" width="16.71" height="5.69" fill="#fcfdfe"/>
<rect x="233.95" y="291.75" width="16.71" height="5.69" fill="#fdf5f4"/>
<rect x="250.62" y="291.75" width="16.71" height="5.69" fill="#fbfcfe"/>
<rect x="267.3" y="291.75" width="16.71" height="5.69" fill="#f6f9fc"/>
<rect x="283.98" y="291.75" width="16.71" height="5.69" fill="#f4f7fb"/>
<rect x="300.65" y="291.75" width="16.71" height="5.69" fill="#fcf0ee"/>
<rect x="317.32" y="291.75" width="16.71" height="5.69" fill="#f0f5fa"/>
<rect x="200.6" y="297.4" width="16.71" height="5.69" fill="#e8eff7"/>
<rect x="217.28" y="297.4" width="16.71" height="5.69" fill="#fcecea"/>
<rect x="233.95" y="297.4" width="16.71" height="5.69" fill="#f9fbfd"/>
<rect x="250.62" y="297.4" width="16.71" height="5.69" fill="#fdf2f0"/>
<rect x="267.3" y="297.4" width="16.71" height="5.69" fill="#fef7f7"/>
<rect x="283.98" y="297.4" width="16.71" height="5.69" fill="#fdf4f2"/>
<rect x="300.65" y="297.4" width="16.71" height="5.69" fill="#f5f8fb"/>
<rect x="317.32" y="297.4" width="16.71" height="5.69" fill="#fae1de"/>
<rect x="200.6" y="303.05" width="16.71" height="5.69" fill="#e4ecf6"/>
<rect x="217.28" y="303.05" width="16.71" height="5.69" fill="#f6f9fc"/>
<rect x="233.95" y="303.05" width="16.71" height="5.69" fill="#fefafa"/>
<rect x="250.62" y="303.05" width="16.71" height="5.69" fill="#fefeff"/>
<rect x="267.3" y="303.05" width="16.71" height="5.69" fill="#fefeff"/>
<rect x="283.98" y="303.05" width="16.71" height="5.69" fill="#fdfefe"/>
<rect x="300.65" y="303.05" width="16.71" height="5.69" fill="#fefbfa"/>
<rect x="317.32" y="303.05" width="16.71" height="5.69" fill="#ffffff"/>
<g font-size="1.75" text-anchor="middle" fill="#333"><text x="208.94" y="164.2">-0.036</text><text x="208.94" y="166.3">(0.78)</text><text x="225.61" y="164.2">0.05</text><text x="225.61" y="166.3">(0.7)</text><text x="242.29" y="164.2">-5.4e-03</text><text x="242.29" y="166.3">(0.44)</text><text x="258.96" y="164.2">0.041</text><text x="258.96" y="166.3">(0.75)</text><text x="275.64" y="164.2">0.017</text><text x="275.64" y="166.3">(0.73)</text><text x="292.31" y="164.2">-0.041</text><text x="292.31" y="166.3">(0.76)</text><text x="308.99" y="164.2">-0.031</text><text x="308.99" y="166.3">(0.81)</text><text x="325.66" y="164.2">-9.9e-03</text><text x="325.66" y="166.3">(0.47)</text><text x="208.94" y="169.85">0.08</text><text x="208.94" y="171.95">(0.52)</text><text x="225.61" y="169.85">-0.079</text><text x="225.61" y="171.95">(0.53)</text><text x="242.29" y="169.85">0.023</text><text x="242.29" y="171.95">(0.86)</text><text x="258.96" y="169.85">-0.013</text><text x="258.96" y="171.95">(0.46)</text><text x="275.64" y="169.85">0.024</text><text x="275.64" y="171.95">(0.86)</text><text x="292.31" y="169.85">0.017</text><text x="292.31" y="171.95">(0.53)</text><text x="308.99" y="169.85">-0.02</text><text x="308.99" y="171.95">(0.65)</text><text x="325.66" y="169.85">-0.098</text><text x="325.66" y="171.95">(0.41)</text><text x="208.94" y="175.5">-0.22</text><text x="208.94" y="177.6">(5e-08)</text><text x="225.61" y="175.5">0.035</text><text x="225.61" y="177.6">(0.79)</text><text x="242.29" y="175.5">-0.011</text><text x="242.29" y="177.6">(0.6)</text><text x="258.96" y="175.5">0.058</text><text x="258.96" y="177.6">(0.65)</text><text x="275.64" y="175.5">0.017</text><text x="275.64" y="177.6">(0.84)</text><text x="292.31" y="175.5">0.032</text><text x="292.31" y="177.6">(0.81)</text><text x="308.99" y="175.5">-0.042</text><text x="308.99" y="177.6">(0.75)</text><text x="325.66" y="175.5">-0.045</text><text x="325.66" y="177.6">(0.73)</text><text x="208.94" y="181.15">-0.017</text><text x="208.94" y="183.25">(0.76)</text><text x="225.61" y="181.15">0.034</text><text x="225.61" y="183.25">(0.8)</text><text x="242.29" y="181.15">0.065</text><text x="242.29" y="183.25">(0.61)</text><text x="258.96" y="181.15">6.2e-03</text><text x="258.96" y="183.25">(0.87)</text><text x="275.64" y="181.15">-9.3e-03</text><text x="275.64" y="183.25">(0.32)</text><text x="292.31" y="181.15">-0.011</text><text x="292.31" y="183.25">(0.77)</text><text x="308.99" y="181.15">0.019</text><text x="308.99" y="183.25">(0.69)</text><text x="325.66" y="181.15">0.043</text><text x="325.66" y="183.25">(0.74)</text><text x="208.94" y="186.8">-0.017</text><text x="208.94" y="188.9">(0.71)</text><text x="225.61" y="186.8">-0.033</text><text x="225.61" y="188.9">(0.8)</text><text x="242.29" y="186.8">0.043</text><text x="242.29" y="188.9">(0.74)</text><text x="258.96" y="186.8">-0.026</text><text x="258.96" y="188.9">(0.84)</text><text x="275.64" y="186.8">-0.054</text><text x="275.64" y="188.9">(0.67)</text><text x="292.31" y="186.8">0.042</text><text x="292.31" y="188.9">(0.75)</text><text x="308.99" y="186.8">0.048</text><text x="308.99" y="188.9">(0.71)</text><text x="325.66" y="186.8">-0.049</text><text x="325.66" y="188.9">(0.71)</text><text x="208.94" y="192.45">0.07</text><text x="208.94" y="194.55">(0.58)</text><text x="225.61" y="192.45">-0.035</text><text x="225.61" y="194.55">(0.79)</text><text x="242.29" y="192.45">0.033</text><text x="242.29" y="194.55">(0.8)</text><text x="258.96" y="192.45">-9.2e-03</text><text x="258.96" y="194.55">(0.7)</text><text x="275.64" y="192.45">5.7e-03</text><text x="275.64" y="194.55">(0.5)</text><text x="292.31" y="192.45">0.022</text><text x="292.31" y="194.55">(0.87)</text><text x="308.99" y="192.45">0.035</text><text x="308.99" y="194.55">(0.79)</text><text x="325.66" y="192.45">-0.013</text><text x="325.66" y="194.55">(0.49)</text><text x="208.94" y="198.1">0.11</text><text x="208.94" y="200.2">(0.31)</text><text x="225.61" y="198.1">-0.057</text><text x="225.61" y="200.2">(0.66)</text><text x="242.29" y="198.1">2.0e-03</text><text x="242.29" y="200.2">(0.79)</text><text x="258.96" y="198.1">0.15</text><text x="258.96" y="200.2">(0.1)</text><text x="275.64" y="198.1">5.9e-03</text><text x="275.64" y="200.2">(0.34)</text><text x="292.31" y="198.1">2.6e-03</text><text x="292.31" y="200.2">(0.5)</text><text x="308.99" y="198.1">4.9e-03</text><text x="308.99" y="200.2">(0.57)</text><text x="325.66" y="198.1">0.089</text><text x="325.66" y="200.2">(0.47)</text><text x="208.94" y="203.75">0.031</text><text x="208.94" y="205.85">(0.81)</text><text x="225.61" y="203.75">-0.042</text><text x="225.61" y="205.85">(0.75)</text><text x="242.29" y="203.75">-0.028</text><text x="242.29" y="205.85">(0.83)</text><text x="258.96" y="203.75">0.16</text><text x="258.96" y="205.85">(0.04)</text><text x="275.64" y="203.75">0.047</text><text x="275.64" y="205.85">(0.72)</text><text x="292.31" y="203.75">0.015</text><text x="292.31" y="205.85">(0.87)</text><text x="308.99" y="203.75">0.1</text><text x="308.99" y="205.85">(0.38)</text><text x="325.66" y="203.75">-0.018</text><text x="325.66" y="205.85">(0.36)</text><text x="208.94" y="209.4">-0.08</text><text x="208.94" y="211.5">(0.52)</text><text x="225.61" y="209.4">0.03</text><text x="225.61" y="211.5">(0.82)</text><text x="242.29" y="209.4">9.4e-03</text><text x="242.29" y="211.5">(0.42)</text><text x="258.96" y="209.4">0.014</text><text x="258.96" y="211.5">(0.35)</text><text x="275.64" y="209.4">-4.4e-03</text><text x="275.64" y="211.5">(0.89)</text><text x="292.31" y="209.4">-0.071</text><text x="292.31" y="211.5">(0.57)</text><text x="308.99" y="209.4">0.067</text><text x="308.99" y="211.5">(0.6)</text><text x="325.66" y="209.4">0.022</text><text x="325.66" y="211.5">(0.87)</text><text x="208.94" y="215.05">7.6e-03</text><text x="208.94" y="217.15">(0.35)</text><text x="225.61" y="215.05">-0.027</text><text x="225.61" y="217.15">(0.84)</text><text x="242.29" y="215.05">0.079</text><text x="242.29" y="217.15">(0.53)</text><text x="258.96" y="215.05">0.12</text><text x="258.96" y="217.15">(0.28)</text><text x="275.64" y="215.05">0.026</text><text x="275.64" y="217.15">(0.84)</text><text x="292.31" y="215.05">0.012</text><text x="292.31" y="217.15">(0.7)</text><text x="308.99" y="215.05">0.023</text><text x="308.99" y="217.15">(0.86)</text><text x="325.66" y="215.05">0.042</text><text x="325.66" y="217.15">(0.75)</text><text x="208.94" y="220.7">0.012</text><text x="208.94" y="222.8">(0.59)</text><text x="225.61" y="220.7">0.016</text><text x="225.61" y="222.8">(0.63)</text><text x="242.29" y="220.7">2.3e-03</text><text x="242.29" y="222.8">(0.51)</text><text x="258.96" y="220.7">0.14</text><text x="258.96" y="222.8">(0.16)</text><text x="275.64" y="220.7">0.051</text><text x="275.64" y="222.8">(0.69)</text><text x="292.31" y="220.7">0.025</text><text x="292.31" y="222.8">(0.85)</text><text x="308.99" y="220.7">0.02</text><text x="308.99" y="222.8">(0.88)</text><text x="325.66" y="220.7">0.035</text><text x="325.66" y="222.8">(0.79)</text><text x="208.94" y="226.35">0.064</text><text x="208.94" y="228.45">(0.62)</text><text x="225.61" y="226.35">-0.012</text><text x="225.61" y="228.45">(0.7)</text><text x="242.29" y="226.35">-0.024</text><text x="242.29" y="228.45">(0.86)</text><text x="258.96" y="226.35">-0.019</text><text x="258.96" y="228.45">(0.71)</text><text x="275.64" y="226.35">0.019</text><text x="275.64" y="228.45">(0.8)</text><text x="292.31" y="226.35">-3.6e-03</text><text x="292.31" y="228.45">(0.51)</text><text x="308.99" y="226.35">0.02</text><text x="308.99" y="228.45">(0.81)</text><text x="325.66" y="226.35">0.063</text><text x="325.66" y="228.45">(0.62)</text><text x="208.94" y="232">0.015</text><text x="208.94" y="234.1">(0.6)</text><text x="225.61" y="232">0.026</text><text x="225.61" y="234.1">(0.84)</text><text x="242.29" y="232">0.015</text><text x="242.29" y="234.1">(0.89)</text><text x="258.96" y="232">0.051</text><text x="258.96" y="234.1">(0.69)</text><text x="275.64" y="232">0.1</text><text x="275.64" y="234.1">(0.4)</text><text x="292.31" y="232">7.6e-03</text><text x="292.31" y="234.1">(0.42)</text><text x="308.99" y="232">0.03</text><text x="308.99" y="234.1">(0.82)</text><text x="325.66" y="232">0.052</text><text x="325.66" y="234.1">(0.69)</text><text x="208.94" y="237.65">-0.12</text><text x="208.94" y="239.75">(0.28)</text><text x="225.61" y="237.65">0.3</text><text x="225.61" y="239.75">(6e-06)</text><text x="242.29" y="237.65">-0.028</text><text x="242.29" y="239.75">(0.83)</text><text x="258.96" y="237.65">-0.085</text><text x="258.96" y="239.75">(0.49)</text><text x="275.64" y="237.65">0.04</text><text x="275.64" y="239.75">(0.76)</text><text x="292.31" y="237.65">-8.4e-03</text><text x="292.31" y="239.75">(0.41)</text><text x="308.99" y="237.65">0.053</text><text x="308.99" y="239.75">(0.68)</text><text x="325.66" y="237.65">-0.031</text><text x="325.66" y="239.75">(0.82)</text><text x="208.94" y="243.3">0.019</text><text x="208.94" y="245.4">(0.77)</text><text x="225.61" y="243.3">0.24</text><text x="225.61" y="245.4">(4e-08)</text><text x="242.29" y="243.3">0.015</text><text x="242.29" y="245.4">(0.52)</text><text x="258.96" y="243.3">0.017</text><text x="258.96" y="245.4">(0.55)</text><text x="275.64" y="243.3">-0.058</text><text x="275.64" y="245.4">(0.65)</text><text x="292.31" y="243.3">-0.089</text><text x="292.31" y="245.4">(0.47)</text><text x="308.99" y="243.3">-0.053</text><text x="308.99" y="245.4">(0.68)</text><text x="325.66" y="243.3">0.025</text><text x="325.66" y="245.4">(0.85)</text><text x="208.94" y="248.95">-0.037</text><text x="208.94" y="251.05">(0.78)</text><text x="225.61" y="248.95">0.023</text><text x="225.61" y="251.05">(0.86)</text><text x="242.29" y="248.95">-4.3e-04</text><text x="242.29" y="251.05">(0.45)</text><text x="258.96" y="248.95">4.5e-03</text><text x="258.96" y="251.05">(0.73)</text><text x="275.64" y="248.95">0.021</text><text x="275.64" y="251.05">(0.88)</text><text x="292.31" y="248.95">-0.065</text><text x="292.31" y="251.05">(0.61)</text><text x="308.99" y="248.95">-0.043</text><text x="308.99" y="251.05">(0.74)</text><text x="325.66" y="248.95">0.017</text><text x="325.66" y="251.05">(0.41)</text><text x="208.94" y="254.6">7.3e-03</text><text x="208.94" y="256.7">(0.65)</text><text x="225.61" y="254.6">0.16</text><text x="225.61" y="256.7">(0.057)</text><text x="242.29" y="254.6">-0.046</text><text x="242.29" y="256.7">(0.72)</text><text x="258.96" y="254.6">0.032</text><text x="258.96" y="256.7">(0.81)</text><text x="275.64" y="254.6">-0.038</text><text x="275.64" y="256.7">(0.77)</text><text x="292.31" y="254.6">1.7e-03</text><text x="292.31" y="256.7">(0.55)</text><text x="308.99" y="254.6">-0.087</text><text x="308.99" y="256.7">(0.48)</text><text x="325.66" y="254.6">0.041</text><text x="325.66" y="256.7">(0.76)</text><text x="208.94" y="260.25">0.029</text><text x="208.94" y="262.35">(0.83)</text><text x="225.61" y="260.25">-0.023</text><text x="225.61" y="262.35">(0.86)</text><text x="242.29" y="260.25">-0.031</text><text x="242.29" y="262.35">(0.82)</text><text x="258.96" y="260.25">8.8e-03</text><text x="258.96" y="262.35">(0.87)</text><text x="275.64" y="260.25">0.034</text><text x="275.64" y="262.35">(0.8)</text><text x="292.31" y="260.25">0.039</text><text x="292.31" y="262.35">(0.77)</text><text x="308.99" y="260.25">0.05</text><text x="308.99" y="262.35">(0.7)</text><text x="325.66" y="260.25">3.8e-03</text><text x="325.66" y="262.35">(0.58)</text><text x="208.94" y="265.9">0.026</text><text x="208.94" y="268">(0.85)</text><text x="225.61" y="265.9">2.3e-03</text><text x="225.61" y="268">(0.6)</text><text x="242.29" y="265.9">-0.038</text><text x="242.29" y="268">(0.77)</text><text x="258.96" y="265.9">6.2e-03</text><text x="258.96" y="268">(0.33)</text><text x="275.64" y="265.9">-0.019</text><text x="275.64" y="268">(0.36)</text><text x="292.31" y="265.9">0.037</text><text x="292.31" y="268">(0.78)</text><text x="308.99" y="265.9">-0.026</text><text x="308.99" y="268">(0.85)</text><text x="325.66" y="265.9">-0.019</text><text x="325.66" y="268">(0.62)</text><text x="208.94" y="271.55">-1.9e-03</text><text x="208.94" y="273.65">(0.6)</text><text x="225.61" y="271.55">-7.4e-03</text><text x="225.61" y="273.65">(0.68)</text><text x="242.29" y="271.55">0.054</text><text x="242.29" y="273.65">(0.67)</text><text x="258.96" y="271.55">-0.043</text><text x="258.96" y="273.65">(0.74)</text><text x="275.64" y="271.55">0.035</text><text x="275.64" y="273.65">(0.79)</text><text x="292.31" y="271.55">-0.057</text><text x="292.31" y="273.65">(0.66)</text><text x="308.99" y="271.55">0.013</text><text x="308.99" y="273.65">(0.75)</text><text x="325.66" y="271.55">0.081</text><text x="325.66" y="273.65">(0.51)</text><text x="208.94" y="277.2">-0.1</text><text x="208.94" y="279.3">(0.39)</text><text x="225.61" y="277.2">8.5e-03</text><text x="225.61" y="279.3">(0.33)</text><text x="242.29" y="277.2">0.035</text><text x="242.29" y="279.3">(0.79)</text><text x="258.96" y="277.2">-0.023</text><text x="258.96" y="279.3">(0.86)</text><text x="275.64" y="277.2">-0.078</text><text x="275.64" y="279.3">(0.53)</text><text x="292.31" y="277.2">-0.021</text><text x="292.31" y="279.3">(0.87)</text><text x="308.99" y="277.2">0.026</text><text x="308.99" y="279.3">(0.84)</text><text x="325.66" y="277.2">0.046</text><text x="325.66" y="279.3">(0.73)</text><text x="208.94" y="282.85">0.012</text><text x="208.94" y="284.95">(0.87)</text><text x="225.61" y="282.85">1.2e-03</text><text x="225.61" y="284.95">(0.43)</text><text x="242.29" y="282.85">-0.02</text><text x="242.29" y="284.95">(0.88)</text><text x="258.96" y="282.85">0.01</text><text x="258.96" y="284.95">(0.86)</text><text x="275.64" y="282.85">-0.088</text><text x="275.64" y="284.95">(0.47)</text><text x="292.31" y="282.85">-3.8e-03</text><text x="292.31" y="284.95">(0.46)</text><text x="308.99" y="282.85">-0.033</text><text x="308.99" y="284.95">(0.8)</text><text x="325.66" y="282.85">7.8e-03</text><text x="325.66" y="284.95">(0.65)</text><text x="208.94" y="288.5">-0.16</text><text x="208.94" y="290.6">(0.04)</text><text x="225.61" y="288.5">-0.057</text><text x="225.61" y="290.6">(0.66)</text><text x="242.29" y="288.5">-0.033</text><text x="242.29" y="290.6">(0.8)</text><text x="258.96" y="288.5">0.13</text><text x="258.96" y="290.6">(0.22)</text><text x="275.64" y="288.5">0.1</text><text x="275.64" y="290.6">(0.4)</text><text x="292.31" y="288.5">0.12</text><text x="292.31" y="290.6">(0.28)</text><text x="308.99" y="288.5">0.12</text><text x="308.99" y="290.6">(0.28)</text><text x="325.66" y="288.5">0.08</text><text x="325.66" y="290.6">(0.52)</text><text x="208.94" y="294.15">-0.14</text><text x="208.94" y="296.25">(0.16)</text><text x="225.61" y="294.15">-0.015</text><text x="225.61" y="296.25">(0.45)</text><text x="242.29" y="294.15">0.047</text><text x="242.29" y="296.25">(0.72)</text><text x="258.96" y="294.15">-0.017</text><text x="258.96" y="296.25">(0.64)</text><text x="275.64" y="294.15">-0.038</text><text x="275.64" y="296.25">(0.77)</text><text x="292.31" y="294.15">-0.05</text><text x="292.31" y="296.25">(0.7)</text><text x="308.99" y="294.15">0.07</text><text x="308.99" y="296.25">(0.58)</text><text x="325.66" y="294.15">-0.066</text><text x="325.66" y="296.25">(0.6)</text><text x="208.94" y="299.8">-0.1</text><text x="208.94" y="301.9">(0.4)</text><text x="225.61" y="299.8">0.087</text><text x="225.61" y="301.9">(0.48)</text><text x="242.29" y="299.8">-0.027</text><text x="242.29" y="301.9">(0.84)</text><text x="258.96" y="299.8">0.063</text><text x="258.96" y="301.9">(0.62)</text><text x="275.64" y="299.8">0.035</text><text x="275.64" y="301.9">(0.79)</text><text x="292.31" y="299.8">0.054</text><text x="292.31" y="301.9">(0.68)</text><text x="308.99" y="299.8">-0.045</text><text x="308.99" y="301.9">(0.73)</text><text x="325.66" y="299.8">0.14</text><text x="325.66" y="301.9">(0.17)</text><text x="208.94" y="305.45">-0.12</text><text x="208.94" y="307.55">(0.28)</text><text x="225.61" y="305.45">-0.038</text><text x="225.61" y="307.55">(0.77)</text><text x="242.29" y="305.45">0.022</text><text x="242.29" y="307.55">(0.87)</text><text x="258.96" y="305.45">-5.3e-03</text><text x="258.96" y="307.55">(0.75)</text><text x="275.64" y="305.45">-5.0e-03</text><text x="275.64" y="307.55">(0.58)</text><text x="292.31" y="305.45">-6.7e-03</text><text x="292.31" y="307.55">(0.37)</text><text x="308.99" y="305.45">0.021</text><text x="308.99" y="307.55">(0.88)</text><text x="325.66" y="305.45">-2.3e-05</text><text x="325.66" y="307.55">(0.68)</text></g>
<rect x="200.6" y="161.8" width="133.4" height="146.9" fill="none" stroke="#d0d0d0" stroke-width="0.4"/>
<text x="195.3" y="166.03" font-size="4.0" text-anchor="end" fill="#222">blue</text>
<text x="195.3" y="171.68" font-size="4.0" text-anchor="end" fill="#222">purple</text>
<text x="195.3" y="177.33" font-size="4.0" text-anchor="end" fill="#222">red</text>
<text x="195.3" y="182.98" font-size="4.0" text-anchor="end" fill="#222">orange</text>
<text x="195.3" y="188.63" font-size="4.0" text-anchor="end" fill="#222">green</text>
<text x="195.3" y="194.28" font-size="4.0" text-anchor="end" fill="#222">turquoise</text>
<text x="195.3" y="199.93" font-size="4.0" text-anchor="end" fill="#222">cyan</text>
<text x="195.3" y="205.58" font-size="4.0" text-anchor="end" fill="#222">darkred</text>
<text x="195.3" y="211.23" font-size="4.0" text-anchor="end" fill="#222">midnightblue</text>
<text x="195.3" y="216.88" font-size="4.0" text-anchor="end" fill="#222">yellow</text>
<text x="195.3" y="222.53" font-size="4.0" text-anchor="end" fill="#222">pink</text>
<text x="195.3" y="228.18" font-size="4.0" text-anchor="end" fill="#222">royalblue</text>
<text x="195.3" y="233.83" font-size="4.0" text-anchor="end" fill="#222">darkgrey</text>
<text x="195.3" y="239.47" font-size="4.0" text-anchor="end" fill="#222">lightcyan</text>
<text x="195.3" y="245.13" font-size="4.0" text-anchor="end" fill="#222">grey60</text>
<text x="195.3" y="250.78" font-size="4.0" text-anchor="end" fill="#222">lightgreen</text>
<text x="195.3" y="256.43" font-size="4.0" text-anchor="end" fill="#222">lightyellow</text>
<text x="195.3" y="262.07" font-size="4.0" text-anchor="end" fill="#222">tan</text>
<text x="195.3" y="267.72" font-size="4.0" text-anchor="end" fill="#222">darkgreen</text>
<text x="195.3" y="273.38" font-size="4.0" text-anchor="end" fill="#222">salmon</text>
<text x="195.3" y="279.02" font-size="4.0" text-anchor="end" fill="#222">magenta</text>
<text x="195.3" y="284.67" font-size="4.0" text-anchor="end" fill="#222">darkturquoise</text>
<text x="195.3" y="290.32" font-size="4.0" text-anchor="end" fill="#222">brown</text>
<text x="195.3" y="295.97" font-size="4.0" text-anchor="end" fill="#222">black</text>
<text x="195.3" y="301.62" font-size="4.0" text-anchor="end" fill="#222">greenyellow</text>
<text x="195.3" y="307.27" font-size="4.0" text-anchor="end" fill="#222">grey</text>
<text x="211.14" y="314.6" font-size="4.0" text-anchor="end" fill="#222" transform="rotate(-45 211.14 314.6)">age</text>
<text x="227.81" y="314.6" font-size="4.0" text-anchor="end" fill="#222" transform="rotate(-45 227.81 314.6)">M</text>
<text x="244.49" y="314.6" font-size="4.0" text-anchor="end" fill="#222" transform="rotate(-45 244.49 314.6)">N</text>
<text x="261.16" y="314.6" font-size="4.0" text-anchor="end" fill="#222" transform="rotate(-45 261.16 314.6)">T</text>
<text x="277.84" y="314.6" font-size="4.0" text-anchor="end" fill="#222" transform="rotate(-45 277.84 314.6)">gender</text>
<text x="294.51" y="314.6" font-size="4.0" text-anchor="end" fill="#222" transform="rotate(-45 294.51 314.6)">stage</text>
<text x="311.19" y="314.6" font-size="4.0" text-anchor="end" fill="#222" transform="rotate(-45 311.19 314.6)">OS</text>
<text x="327.86" y="314.6" font-size="4.0" text-anchor="end" fill="#222" transform="rotate(-45 327.86 314.6)">OS.time</text>
<defs><linearGradient id="gD" x1="0" y1="1" x2="0" y2="0"><stop offset="0.000" stop-color="#2F64B0"/><stop offset="0.250" stop-color="#8DB0D8"/><stop offset="0.500" stop-color="#FFFFFF"/><stop offset="0.750" stop-color="#EC9486"/><stop offset="1.000" stop-color="#D8362A"/></linearGradient></defs>
<rect x="339.8" y="170.5" width="7.7" height="128.7" fill="url(#gD)" stroke="#bbb" stroke-width="0.3"/>
<line x1="347.5" y1="170.5" x2="351.6" y2="170.5" stroke="#888" stroke-width="0.4"/>
<text x="354.3" y="171.6" font-size="3.1" fill="#333" stroke="#333" stroke-width="0.1">1</text>
<line x1="347.5" y1="202.67" x2="351.6" y2="202.67" stroke="#888" stroke-width="0.4"/>
<text x="354.3" y="203.77" font-size="3.1" fill="#333" stroke="#333" stroke-width="0.1">0.5</text>
<line x1="347.5" y1="234.84" x2="351.6" y2="234.84" stroke="#888" stroke-width="0.4"/>
<text x="354.3" y="235.94" font-size="3.1" fill="#333" stroke="#333" stroke-width="0.1">0</text>
<line x1="347.5" y1="267.01" x2="351.6" y2="267.01" stroke="#888" stroke-width="0.4"/>
<text x="354.3" y="268.11" font-size="3.1" fill="#333" stroke="#333" stroke-width="0.1">−0.5</text>
<line x1="347.5" y1="299.18" x2="351.6" y2="299.18" stroke="#888" stroke-width="0.4"/>
<text x="354.3" y="300.28" font-size="3.1" fill="#333" stroke="#333" stroke-width="0.1">−1</text>
<rect x="16.8" y="348.5" width="88.4" height="79.8" fill="none" stroke="#c4c4c4" stroke-width="0.5"/>
<line x1="15.6" y1="357.3" x2="16.8" y2="357.3" stroke="#555" stroke-width="0.35"/>
<text x="15.6" y="358.6" font-size="3.0" text-anchor="end" fill="#444">0.15</text>
<line x1="15.6" y1="379.9" x2="16.8" y2="379.9" stroke="#555" stroke-width="0.35"/>
<text x="15.6" y="381.2" font-size="3.0" text-anchor="end" fill="#444">0.10</text>
<line x1="15.6" y1="402.2" x2="16.8" y2="402.2" stroke="#555" stroke-width="0.35"/>
<text x="15.6" y="403.5" font-size="3.0" text-anchor="end" fill="#444">0.05</text>
<line x1="15.6" y1="424.5" x2="16.8" y2="424.5" stroke="#555" stroke-width="0.35"/>
<text x="15.6" y="425.8" font-size="3.0" text-anchor="end" fill="#444">0.00</text>
<line x1="36.7" y1="428.3" x2="36.7" y2="429.3" stroke="#555" stroke-width="0.35"/>
<text x="36.7" y="432.5" font-size="2.7" text-anchor="middle" fill="#444">0.4</text>
<line x1="61.3" y1="428.3" x2="61.3" y2="429.3" stroke="#555" stroke-width="0.35"/>
<text x="61.3" y="432.5" font-size="2.7" text-anchor="middle" fill="#444">0.6</text>
<line x1="86" y1="428.3" x2="86" y2="429.3" stroke="#555" stroke-width="0.35"/>
<text x="86" y="432.5" font-size="2.7" text-anchor="middle" fill="#444">0.8</text>
<path d="M33.07 408.3h0.9v0.9h-0.9zM55.11 404.84h0.9v0.9h-0.9zM32.06 404.79h0.9v0.9h-0.9zM46.11 416.13h0.9v0.9h-0.9zM48.06 410.85h0.9v0.9h-0.9zM26.62 409.78h0.9v0.9h-0.9zM40.02 404.58h0.9v0.9h-0.9zM43.84 420.09h0.9v0.9h-0.9zM35.2 402.33h0.9v0.9h-0.9zM41.36 414.03h0.9v0.9h-0.9zM31.24 416.19h0.9v0.9h-0.9zM42.35 403.17h0.9v0.9h-0.9zM27.97 422.09h0.9v0.9h-0.9zM40.52 411.98h0.9v0.9h-0.9zM67.94 406.09h0.9v0.9h-0.9zM35.27 416.27h0.9v0.9h-0.9zM30.9 411.09h0.9v0.9h-0.9zM45.7 391.32h0.9v0.9h-0.9zM36.46 400.72h0.9v0.9h-0.9zM55.89 391.71h0.9v0.9h-0.9zM47.35 421.78h0.9v0.9h-0.9zM43.33 400.69h0.9v0.9h-0.9zM38.94 402.06h0.9v0.9h-0.9zM53.93 413.75h0.9v0.9h-0.9zM52.34 414.08h0.9v0.9h-0.9zM49.83 400.13h0.9v0.9h-0.9zM38.65 415.73h0.9v0.9h-0.9zM25.06 405.72h0.9v0.9h-0.9zM46.1 406.41h0.9v0.9h-0.9zM25.71 411.63h0.9v0.9h-0.9zM33.58 413.59h0.9v0.9h-0.9zM27.46 417.08h0.9v0.9h-0.9zM43.49 416.98h0.9v0.9h-0.9zM27.64 410.45h0.9v0.9h-0.9zM54.89 411.88h0.9v0.9h-0.9zM35.96 413.26h0.9v0.9h-0.9zM21.8 411.57h0.9v0.9h-0.9zM26.96 421.35h0.9v0.9h-0.9zM36.39 407.16h0.9v0.9h-0.9zM54.67 412.9h0.9v0.9h-0.9zM26.46 402.5h0.9v0.9h-0.9zM41.1 417.75h0.9v0.9h-0.9zM36.92 400.69h0.9v0.9h-0.9zM30.34 408.38h0.9v0.9h-0.9zM29.31 402.1h0.9v0.9h-0.9zM61.33 409.82h0.9v0.9h-0.9zM52.09 384.5h0.9v0.9h-0.9zM58.47 404.58h0.9v0.9h-0.9zM29.55 411.02h0.9v0.9h-0.9zM35.66 400.57h0.9v0.9h-0.9zM36.68 413.58h0.9v0.9h-0.9zM23.42 400.83h0.9v0.9h-0.9zM40.46 404.41h0.9v0.9h-0.9zM44.73 421.86h0.9v0.9h-0.9zM58.16 423.2h0.9v0.9h-0.9zM56.03 403.96h0.9v0.9h-0.9zM38.35 421.09h0.9v0.9h-0.9zM40.77 401.31h0.9v0.9h-0.9zM29.14 399.7h0.9v0.9h-0.9zM58.44 401.1h0.9v0.9h-0.9zM31.62 399.68h0.9v0.9h-0.9zM53.15 401.75h0.9v0.9h-0.9zM35.37 402.35h0.9v0.9h-0.9zM52.52 416.73h0.9v0.9h-0.9zM35.31 414.63h0.9v0.9h-0.9zM29.4 405.85h0.9v0.9h-0.9zM57.56 409.06h0.9v0.9h-0.9zM48.57 414.15h0.9v0.9h-0.9zM51.12 416.33h0.9v0.9h-0.9zM28.39 408.19h0.9v0.9h-0.9zM32.97 400.91h0.9v0.9h-0.9zM47.87 397.26h0.9v0.9h-0.9zM48.91 410.77h0.9v0.9h-0.9zM71.03 413.47h0.9v0.9h-0.9zM45.23 409.3h0.9v0.9h-0.9zM41.7 408.47h0.9v0.9h-0.9zM32.55 394.32h0.9v0.9h-0.9zM19.09 422.08h0.9v0.9h-0.9zM41.15 399.05h0.9v0.9h-0.9zM38.07 414.75h0.9v0.9h-0.9zM53.96 414.73h0.9v0.9h-0.9zM31.27 408.65h0.9v0.9h-0.9zM34.36 408.85h0.9v0.9h-0.9zM33.35 422.23h0.9v0.9h-0.9zM48.74 418.46h0.9v0.9h-0.9zM57.48 423.41h0.9v0.9h-0.9zM68.84 398.11h0.9v0.9h-0.9zM35.59 422.89h0.9v0.9h-0.9zM71.02 419.79h0.9v0.9h-0.9zM38.28 407.24h0.9v0.9h-0.9zM43.51 412.8h0.9v0.9h-0.9zM42.36 401.79h0.9v0.9h-0.9zM40.24 408.33h0.9v0.9h-0.9zM27.15 407.06h0.9v0.9h-0.9zM65.5 418.78h0.9v0.9h-0.9zM28.01 399.89h0.9v0.9h-0.9zM49.84 416.9h0.9v0.9h-0.9zM52.8 402.6h0.9v0.9h-0.9zM30.23 401.93h0.9v0.9h-0.9zM38.3 410.62h0.9v0.9h-0.9zM41.18 415.22h0.9v0.9h-0.9zM43.19 411.18h0.9v0.9h-0.9zM41.05 380.03h0.9v0.9h-0.9zM31.64 393.5h0.9v0.9h-0.9zM20.86 421.59h0.9v0.9h-0.9zM40.39 417.11h0.9v0.9h-0.9zM30.43 408.48h0.9v0.9h-0.9zM38.42 424.03h0.9v0.9h-0.9zM48.62 384.63h0.9v0.9h-0.9zM32.73 402.65h0.9v0.9h-0.9zM21.1 399.17h0.9v0.9h-0.9zM25.17 397.27h0.9v0.9h-0.9zM60.22 397.43h0.9v0.9h-0.9zM41.82 394.85h0.9v0.9h-0.9zM36.25 397.86h0.9v0.9h-0.9zM52.2 390.06h0.9v0.9h-0.9zM26.86 383.66h0.9v0.9h-0.9zM58.82 399.55h0.9v0.9h-0.9zM26.04 390.5h0.9v0.9h-0.9zM38.52 391.73h0.9v0.9h-0.9zM25.78 378.42h0.9v0.9h-0.9zM53.17 416.18h0.9v0.9h-0.9zM79.25 379.3h0.9v0.9h-0.9zM28.33 379.94h0.9v0.9h-0.9zM44.51 374.75h0.9v0.9h-0.9zM39.89 377.8h0.9v0.9h-0.9zM23.51 382.07h0.9v0.9h-0.9zM32.07 405.66h0.9v0.9h-0.9zM33.58 378.35h0.9v0.9h-0.9zM28.18 400.92h0.9v0.9h-0.9zM38.17 418.97h0.9v0.9h-0.9zM53.09 386.33h0.9v0.9h-0.9zM31.48 376.65h0.9v0.9h-0.9zM27.25 374.4h0.9v0.9h-0.9zM42.44 396.08h0.9v0.9h-0.9zM30.28 411.09h0.9v0.9h-0.9zM30.18 372.65h0.9v0.9h-0.9zM25.65 420.39h0.9v0.9h-0.9zM70.26 421.78h0.9v0.9h-0.9zM24.81 395.84h0.9v0.9h-0.9zM36.54 373.5h0.9v0.9h-0.9zM53.67 394.3h0.9v0.9h-0.9zM66.83 403.98h0.9v0.9h-0.9zM46.48 407.34h0.9v0.9h-0.9zM66.64 394.31h0.9v0.9h-0.9zM39.97 411.07h0.9v0.9h-0.9zM46.65 408.11h0.9v0.9h-0.9zM42.93 377.63h0.9v0.9h-0.9zM82.56 425.54h0.9v0.9h-0.9zM50.74 389.42h0.9v0.9h-0.9zM60.06 377.85h0.9v0.9h-0.9zM63.86 392.72h0.9v0.9h-0.9zM42.41 395.47h0.9v0.9h-0.9zM32.75 388.43h0.9v0.9h-0.9zM53.95 385.84h0.9v0.9h-0.9zM56.57 383.67h0.9v0.9h-0.9zM54.48 367.85h0.9v0.9h-0.9zM66.06 384.97h0.9v0.9h-0.9zM35.57 405.37h0.9v0.9h-0.9zM45.35 402.91h0.9v0.9h-0.9zM43.59 376.82h0.9v0.9h-0.9zM87.8 354.54h0.9v0.9h-0.9zM60.72 390.5h0.9v0.9h-0.9zM31.7 403.84h0.9v0.9h-0.9zM35.85 407.41h0.9v0.9h-0.9zM32.65 417.13h0.9v0.9h-0.9zM44.69 360.83h0.9v0.9h-0.9zM31.04 368.71h0.9v0.9h-0.9zM29.5 376.59h0.9v0.9h-0.9zM100.28 380.95h0.9v0.9h-0.9zM51.58 408.11h0.9v0.9h-0.9zM24.59 360.34h0.9v0.9h-0.9zM91.78 377.54h0.9v0.9h-0.9zM33.09 367.24h0.9v0.9h-0.9zM81.11 424.23h0.9v0.9h-0.9zM52.01 405.15h0.9v0.9h-0.9zM57.32 368.68h0.9v0.9h-0.9zM44.92 378.4h0.9v0.9h-0.9zM39.48 411.03h0.9v0.9h-0.9zM26.02 381.79h0.9v0.9h-0.9zM80.36 356.43h0.9v0.9h-0.9zM99.67 398.2h0.9v0.9h-0.9zM73.4 367.86h0.9v0.9h-0.9zM35.5 414.6h0.9v0.9h-0.9zM100.66 355.12h0.9v0.9h-0.9zM87.32 368.41h0.9v0.9h-0.9zM24.85 396.9h0.9v0.9h-0.9zM26.39 414.42h0.9v0.9h-0.9zM89.6 374.59h0.9v0.9h-0.9zM30.57 390.88h0.9v0.9h-0.9zM81.6 356.77h0.9v0.9h-0.9zM77.81 362.92h0.9v0.9h-0.9zM50.25 365.89h0.9v0.9h-0.9zM25.19 392.45h0.9v0.9h-0.9zM43.62 419.47h0.9v0.9h-0.9zM94.64 406.19h0.9v0.9h-0.9zM61.54 400.48h0.9v0.9h-0.9zM46.42 387.72h0.9v0.9h-0.9zM64.57 384.29h0.9v0.9h-0.9zM55.87 415.22h0.9v0.9h-0.9zM98.32 380.09h0.9v0.9h-0.9zM91.78 372.94h0.9v0.9h-0.9zM92.35 385.71h0.9v0.9h-0.9zM78.34 381.57h0.9v0.9h-0.9zM87.21 352.83h0.9v0.9h-0.9zM89.46 370.78h0.9v0.9h-0.9zM95.02 386.63h0.9v0.9h-0.9zM82.72 404.56h0.9v0.9h-0.9zM94.74 372.52h0.9v0.9h-0.9zM89.99 360.84h0.9v0.9h-0.9zM82.12 379.81h0.9v0.9h-0.9zM98.81 374.8h0.9v0.9h-0.9zM72.62 364.98h0.9v0.9h-0.9zM94.65 399.47h0.9v0.9h-0.9zM83.53 378h0.9v0.9h-0.9zM94.08 393.82h0.9v0.9h-0.9zM91.09 375.62h0.9v0.9h-0.9zM102.74 358.75h0.9v0.9h-0.9zM91.17 397.03h0.9v0.9h-0.9zM83.15 382.65h0.9v0.9h-0.9zM92.01 388.55h0.9v0.9h-0.9zM99.27 372.62h0.9v0.9h-0.9zM95.27 376.96h0.9v0.9h-0.9zM86.41 381.57h0.9v0.9h-0.9zM81.45 389.17h0.9v0.9h-0.9zM90.74 381.35h0.9v0.9h-0.9zM87.52 378.2h0.9v0.9h-0.9zM92.52 380.02h0.9v0.9h-0.9zM85.61 364.25h0.9v0.9h-0.9zM90.38 395.46h0.9v0.9h-0.9zM85.22 385.34h0.9v0.9h-0.9zM86.82 384.4h0.9v0.9h-0.9zM82.7 378.14h0.9v0.9h-0.9zM85.22 380.9h0.9v0.9h-0.9zM87.91 361.67h0.9v0.9h-0.9zM93.19 389.24h0.9v0.9h-0.9zM95.24 395.63h0.9v0.9h-0.9zM100.63 384h0.9v0.9h-0.9zM99.02 391.33h0.9v0.9h-0.9zM91.18 396.45h0.9v0.9h-0.9zM85.15 351.71h0.9v0.9h-0.9zM90.99 376.26h0.9v0.9h-0.9zM87.19 368.08h0.9v0.9h-0.9zM91.86 394.12h0.9v0.9h-0.9zM89.65 380.57h0.9v0.9h-0.9zM86.18 366.13h0.9v0.9h-0.9zM93.59 371.6h0.9v0.9h-0.9zM88.62 406.92h0.9v0.9h-0.9zM95.67 394.05h0.9v0.9h-0.9zM88.01 385.71h0.9v0.9h-0.9zM94.32 403.58h0.9v0.9h-0.9zM95.96 405.83h0.9v0.9h-0.9zM96.82 405.4h0.9v0.9h-0.9zM96.88 387.73h0.9v0.9h-0.9zM80.65 377.82h0.9v0.9h-0.9zM92.39 377.33h0.9v0.9h-0.9zM96.34 380.85h0.9v0.9h-0.9zM90.2 372.35h0.9v0.9h-0.9zM98.13 381.19h0.9v0.9h-0.9zM84.42 383.19h0.9v0.9h-0.9zM94.11 370.05h0.9v0.9h-0.9zM100.97 379.76h0.9v0.9h-0.9zM88.47 360.75h0.9v0.9h-0.9zM94.12 402.84h0.9v0.9h-0.9zM87.95 375.8h0.9v0.9h-0.9zM91.07 384.08h0.9v0.9h-0.9zM90.53 403.23h0.9v0.9h-0.9zM89.56 361.64h0.9v0.9h-0.9zM78.95 404.08h0.9v0.9h-0.9zM91.05 389.16h0.9v0.9h-0.9zM84.2 385.21h0.9v0.9h-0.9zM87.55 356.98h0.9v0.9h-0.9zM88.34 370.07h0.9v0.9h-0.9zM83.98 376.09h0.9v0.9h-0.9zM81.51 376.71h0.9v0.9h-0.9zM95.2 402.1h0.9v0.9h-0.9zM92.53 360.72h0.9v0.9h-0.9zM92.22 386.71h0.9v0.9h-0.9zM88.5 357.95h0.9v0.9h-0.9zM78.23 361.2h0.9v0.9h-0.9zM84.7 385.72h0.9v0.9h-0.9zM83.53 383.32h0.9v0.9h-0.9zM80.88 397h0.9v0.9h-0.9zM84.33 399.94h0.9v0.9h-0.9zM87.5 380.05h0.9v0.9h-0.9zM75.52 403.23h0.9v0.9h-0.9zM80.52 388.93h0.9v0.9h-0.9zM75.08 379.72h0.9v0.9h-0.9zM93.68 407.09h0.9v0.9h-0.9zM90.81 420.46h0.9v0.9h-0.9zM85.12 418.77h0.9v0.9h-0.9zM86.93 403.01h0.9v0.9h-0.9zM83.51 398.67h0.9v0.9h-0.9zM87.39 418.95h0.9v0.9h-0.9zM84.74 399.44h0.9v0.9h-0.9zM86.98 400.72h0.9v0.9h-0.9zM99.35 411.65h0.9v0.9h-0.9zM100.64 394.01h0.9v0.9h-0.9zM97.41 404.01h0.9v0.9h-0.9zM80.86 399.4h0.9v0.9h-0.9zM73.52 399.31h0.9v0.9h-0.9zM93.83 402.33h0.9v0.9h-0.9zM89.78 416.4h0.9v0.9h-0.9zM77.88 412.99h0.9v0.9h-0.9zM94.92 398.01h0.9v0.9h-0.9z" fill="none" stroke="#4a4a4a" stroke-width="0.32"/>
<path d="M16.8 357.3H105.2M74.4 348.5V428.3" stroke="#6aa8e0" stroke-width="0.85" stroke-dasharray="3.7 1.8" fill="none"/>
<path d="M84.9 351.9h1v1h-1zM91.9 355.9h1v1h-1zM95.1 354h1v1h-1zM98.5 355.5h1v1h-1zM99.5 356.1h1v1h-1z" fill="none" stroke="#E8483A" stroke-width="0.45"/>
<text x="19.9" y="355.5" font-size="4.9" font-style="italic" fill="#E5594B">R=0.53,p&lt;2.2x10<tspan font-size="3.0" dy="-1.8">−16</tspan></text>
<text x="61.2" y="436.1" font-size="4.75" text-anchor="middle" fill="#111" stroke="#111" stroke-width="0.12">Module membership in brown module</text>
<text x="7.4" y="390.8" font-size="4.35" text-anchor="middle" fill="#111" transform="rotate(-90 7.4 390.8)" stroke="#111" stroke-width="0.1">Gene significance for OS</text>
<rect x="133.2" y="348.2" width="89.4" height="79.6" fill="none" stroke="#c4c4c4" stroke-width="0.5"/>
<line x1="132" y1="355.2" x2="133.2" y2="355.2" stroke="#555" stroke-width="0.35"/>
<text x="132" y="356.5" font-size="3.0" text-anchor="end" fill="#444">0.12</text>
<line x1="132" y1="378.4" x2="133.2" y2="378.4" stroke="#555" stroke-width="0.35"/>
<text x="132" y="379.7" font-size="3.0" text-anchor="end" fill="#444">0.08</text>
<line x1="132" y1="401.4" x2="133.2" y2="401.4" stroke="#555" stroke-width="0.35"/>
<text x="132" y="402.7" font-size="3.0" text-anchor="end" fill="#444">0.04</text>
<line x1="132" y1="424.2" x2="133.2" y2="424.2" stroke="#555" stroke-width="0.35"/>
<text x="132" y="425.5" font-size="3.0" text-anchor="end" fill="#444">0.00</text>
<line x1="152.7" y1="427.8" x2="152.7" y2="428.8" stroke="#555" stroke-width="0.35"/>
<text x="152.7" y="432" font-size="2.7" text-anchor="middle" fill="#444">0.4</text>
<line x1="177.7" y1="427.8" x2="177.7" y2="428.8" stroke="#555" stroke-width="0.35"/>
<text x="177.7" y="432" font-size="2.7" text-anchor="middle" fill="#444">0.6</text>
<line x1="202.7" y1="427.8" x2="202.7" y2="428.8" stroke="#555" stroke-width="0.35"/>
<text x="202.7" y="432" font-size="2.7" text-anchor="middle" fill="#444">0.8</text>
<path d="M176.77 415.25h0.9v0.9h-0.9zM173.26 418.42h0.9v0.9h-0.9zM169.56 393.61h0.9v0.9h-0.9zM150.36 409.85h0.9v0.9h-0.9zM188.97 399.21h0.9v0.9h-0.9zM154.32 408.81h0.9v0.9h-0.9zM152.34 398.58h0.9v0.9h-0.9zM147.08 415h0.9v0.9h-0.9zM158.17 414.53h0.9v0.9h-0.9zM148.22 397.78h0.9v0.9h-0.9zM135.36 416.26h0.9v0.9h-0.9zM150.04 408.44h0.9v0.9h-0.9zM157.25 422.53h0.9v0.9h-0.9zM148.17 395.07h0.9v0.9h-0.9zM159.17 398.21h0.9v0.9h-0.9zM161.78 394.08h0.9v0.9h-0.9zM159.32 414.24h0.9v0.9h-0.9zM137.75 393.39h0.9v0.9h-0.9zM187.62 402.38h0.9v0.9h-0.9zM168.99 395.38h0.9v0.9h-0.9zM159.93 417.77h0.9v0.9h-0.9zM167.8 401.83h0.9v0.9h-0.9zM139.45 409.93h0.9v0.9h-0.9zM167.27 409.15h0.9v0.9h-0.9zM161.05 403.96h0.9v0.9h-0.9zM174.04 425.58h0.9v0.9h-0.9zM158.95 403.59h0.9v0.9h-0.9zM162.63 391.24h0.9v0.9h-0.9zM196.45 415.36h0.9v0.9h-0.9zM154.85 420.41h0.9v0.9h-0.9zM139.42 406.39h0.9v0.9h-0.9zM154.21 406.82h0.9v0.9h-0.9zM171.34 397.89h0.9v0.9h-0.9zM174.95 416.09h0.9v0.9h-0.9zM165.88 419.4h0.9v0.9h-0.9zM154.4 390.48h0.9v0.9h-0.9zM166.5 416.25h0.9v0.9h-0.9zM181.62 405.5h0.9v0.9h-0.9zM168.18 422.42h0.9v0.9h-0.9zM159.63 412.87h0.9v0.9h-0.9zM155.3 404.05h0.9v0.9h-0.9zM174.87 421.34h0.9v0.9h-0.9zM165.46 407.68h0.9v0.9h-0.9zM159.5 402.45h0.9v0.9h-0.9zM162.29 409.28h0.9v0.9h-0.9zM185.27 410.8h0.9v0.9h-0.9zM161.71 407.57h0.9v0.9h-0.9zM162.47 411.32h0.9v0.9h-0.9zM147.78 413.9h0.9v0.9h-0.9zM177.48 418.05h0.9v0.9h-0.9zM174 421.12h0.9v0.9h-0.9zM166.84 413.84h0.9v0.9h-0.9zM172.12 407.95h0.9v0.9h-0.9zM137.13 413.45h0.9v0.9h-0.9zM179.75 408.46h0.9v0.9h-0.9zM177.26 419.46h0.9v0.9h-0.9zM150.95 395.23h0.9v0.9h-0.9zM137.33 422.03h0.9v0.9h-0.9zM178.1 413.9h0.9v0.9h-0.9zM161.72 400.55h0.9v0.9h-0.9zM143.57 418.48h0.9v0.9h-0.9zM155.35 411.26h0.9v0.9h-0.9zM177.14 407.99h0.9v0.9h-0.9zM165.42 413.43h0.9v0.9h-0.9zM194.58 410.85h0.9v0.9h-0.9zM172.7 419.45h0.9v0.9h-0.9zM185.27 402.16h0.9v0.9h-0.9zM148.55 403.66h0.9v0.9h-0.9zM146.18 390.85h0.9v0.9h-0.9zM162.64 416.18h0.9v0.9h-0.9zM141.21 416.4h0.9v0.9h-0.9zM176.01 399.15h0.9v0.9h-0.9zM164.02 412.8h0.9v0.9h-0.9zM180.48 409.4h0.9v0.9h-0.9zM143.79 402.74h0.9v0.9h-0.9zM149.81 406.2h0.9v0.9h-0.9zM164.78 422.69h0.9v0.9h-0.9zM144.09 415.92h0.9v0.9h-0.9zM174.98 402.24h0.9v0.9h-0.9zM159.34 404.66h0.9v0.9h-0.9zM154.23 408.77h0.9v0.9h-0.9zM162.84 415.29h0.9v0.9h-0.9zM152.52 412.86h0.9v0.9h-0.9zM171.94 404.82h0.9v0.9h-0.9zM157.49 412.53h0.9v0.9h-0.9zM140.49 422.67h0.9v0.9h-0.9zM142.52 397.93h0.9v0.9h-0.9zM151.22 410.42h0.9v0.9h-0.9zM168.98 411.02h0.9v0.9h-0.9zM142.63 396.62h0.9v0.9h-0.9zM136.83 411.97h0.9v0.9h-0.9zM140.84 415.63h0.9v0.9h-0.9zM175.56 411.28h0.9v0.9h-0.9zM180.21 406.2h0.9v0.9h-0.9zM147.47 421.48h0.9v0.9h-0.9zM186.69 388.55h0.9v0.9h-0.9zM173.02 381.16h0.9v0.9h-0.9zM156.28 378.33h0.9v0.9h-0.9zM142.74 417.38h0.9v0.9h-0.9zM135.71 421.87h0.9v0.9h-0.9zM178.58 404.83h0.9v0.9h-0.9zM203.19 399.05h0.9v0.9h-0.9zM182.29 378.28h0.9v0.9h-0.9zM151.61 401.61h0.9v0.9h-0.9zM193.67 422.23h0.9v0.9h-0.9zM172.45 370.7h0.9v0.9h-0.9zM159.66 357.62h0.9v0.9h-0.9zM159.87 384.03h0.9v0.9h-0.9zM140.43 362.23h0.9v0.9h-0.9zM143.69 394.47h0.9v0.9h-0.9zM156.54 382.32h0.9v0.9h-0.9zM169.23 418.4h0.9v0.9h-0.9zM174.37 391.18h0.9v0.9h-0.9zM152.49 373.22h0.9v0.9h-0.9zM176.09 394.05h0.9v0.9h-0.9zM154.13 417.55h0.9v0.9h-0.9zM177.54 404.44h0.9v0.9h-0.9zM140.17 370.83h0.9v0.9h-0.9zM202.69 390.63h0.9v0.9h-0.9zM173.79 413.04h0.9v0.9h-0.9zM144.61 377.44h0.9v0.9h-0.9zM148.45 381.41h0.9v0.9h-0.9zM166.78 418.18h0.9v0.9h-0.9zM185.74 372.08h0.9v0.9h-0.9zM137.05 353.62h0.9v0.9h-0.9zM163.94 415.09h0.9v0.9h-0.9zM178.1 368.39h0.9v0.9h-0.9zM188.47 391.71h0.9v0.9h-0.9zM170.03 380.49h0.9v0.9h-0.9zM140.54 397.95h0.9v0.9h-0.9zM158.9 374.04h0.9v0.9h-0.9zM151.87 381.49h0.9v0.9h-0.9zM186.39 398.18h0.9v0.9h-0.9zM180.71 395.86h0.9v0.9h-0.9zM193.9 351.73h0.9v0.9h-0.9zM168.42 401.82h0.9v0.9h-0.9zM151.33 407.25h0.9v0.9h-0.9zM187.36 416.92h0.9v0.9h-0.9zM178.25 410.27h0.9v0.9h-0.9zM160.55 417.26h0.9v0.9h-0.9zM181.94 405.56h0.9v0.9h-0.9zM166.67 388.85h0.9v0.9h-0.9zM167.25 398.08h0.9v0.9h-0.9zM179.89 368.55h0.9v0.9h-0.9zM175.33 410h0.9v0.9h-0.9zM197.09 396.78h0.9v0.9h-0.9zM140.37 357.13h0.9v0.9h-0.9zM150.48 421.46h0.9v0.9h-0.9zM211.52 375.26h0.9v0.9h-0.9zM138.84 399.2h0.9v0.9h-0.9zM151.68 417.62h0.9v0.9h-0.9zM213.2 409.74h0.9v0.9h-0.9zM201.1 409.49h0.9v0.9h-0.9zM205.79 380.94h0.9v0.9h-0.9zM196.41 354.66h0.9v0.9h-0.9zM194.06 385.6h0.9v0.9h-0.9zM218.81 409.99h0.9v0.9h-0.9zM173.42 404.37h0.9v0.9h-0.9zM184.74 397.92h0.9v0.9h-0.9zM135.44 369.85h0.9v0.9h-0.9zM156.74 404.11h0.9v0.9h-0.9zM212.99 398.75h0.9v0.9h-0.9zM199.5 399.29h0.9v0.9h-0.9zM147.21 372.03h0.9v0.9h-0.9zM184.42 407.73h0.9v0.9h-0.9zM170.55 403.51h0.9v0.9h-0.9zM163.29 376.29h0.9v0.9h-0.9zM149.17 383.38h0.9v0.9h-0.9zM184.26 361.61h0.9v0.9h-0.9zM214.18 354.35h0.9v0.9h-0.9zM197.21 378.58h0.9v0.9h-0.9zM214.84 374.27h0.9v0.9h-0.9zM136.94 403.19h0.9v0.9h-0.9zM167.06 412.33h0.9v0.9h-0.9zM191.69 385.34h0.9v0.9h-0.9zM191.18 402.53h0.9v0.9h-0.9zM162.82 367.7h0.9v0.9h-0.9zM190.56 394.5h0.9v0.9h-0.9zM138.81 365.34h0.9v0.9h-0.9zM171.53 360.19h0.9v0.9h-0.9zM179.55 382.05h0.9v0.9h-0.9zM159.99 407.5h0.9v0.9h-0.9zM197.77 358.55h0.9v0.9h-0.9zM185.72 424.82h0.9v0.9h-0.9zM186.54 424.27h0.9v0.9h-0.9zM154.61 369.57h0.9v0.9h-0.9zM162.68 370.54h0.9v0.9h-0.9zM148.38 371.99h0.9v0.9h-0.9zM177.54 411.86h0.9v0.9h-0.9zM200.73 356.6h0.9v0.9h-0.9zM200.22 399.44h0.9v0.9h-0.9zM157.47 354.24h0.9v0.9h-0.9zM208.17 363.39h0.9v0.9h-0.9zM156.43 375.53h0.9v0.9h-0.9zM202.77 421.43h0.9v0.9h-0.9zM212.94 414.57h0.9v0.9h-0.9zM206.95 387.56h0.9v0.9h-0.9zM139.54 370.57h0.9v0.9h-0.9zM146.75 362.05h0.9v0.9h-0.9zM146.25 376.6h0.9v0.9h-0.9zM139.04 374.89h0.9v0.9h-0.9zM207.81 371.06h0.9v0.9h-0.9zM178.2 414.67h0.9v0.9h-0.9zM136.08 405.81h0.9v0.9h-0.9zM181.13 355.91h0.9v0.9h-0.9zM215.81 376.73h0.9v0.9h-0.9zM219.85 413.8h0.9v0.9h-0.9zM200.01 383.29h0.9v0.9h-0.9zM207.9 395.94h0.9v0.9h-0.9zM204.91 371.29h0.9v0.9h-0.9zM208.21 395.9h0.9v0.9h-0.9zM202.96 387.13h0.9v0.9h-0.9zM200.79 415.89h0.9v0.9h-0.9zM204.8 389.74h0.9v0.9h-0.9zM204.53 371.33h0.9v0.9h-0.9zM194.02 378.19h0.9v0.9h-0.9zM198.96 395.62h0.9v0.9h-0.9zM212.32 396.62h0.9v0.9h-0.9zM205.58 406.66h0.9v0.9h-0.9zM204.6 392.06h0.9v0.9h-0.9zM206.82 388.18h0.9v0.9h-0.9zM207.44 411.12h0.9v0.9h-0.9zM212.85 394.44h0.9v0.9h-0.9zM211.09 371.41h0.9v0.9h-0.9zM204.98 398.51h0.9v0.9h-0.9zM207.57 364.31h0.9v0.9h-0.9zM213 399.68h0.9v0.9h-0.9zM198.74 386.2h0.9v0.9h-0.9zM210.81 417.43h0.9v0.9h-0.9zM199.23 376.69h0.9v0.9h-0.9zM216.17 385.75h0.9v0.9h-0.9zM205.13 382.22h0.9v0.9h-0.9zM206.71 405.95h0.9v0.9h-0.9zM210.55 375.05h0.9v0.9h-0.9zM205.25 422.28h0.9v0.9h-0.9zM190.98 388.45h0.9v0.9h-0.9zM201.96 373.84h0.9v0.9h-0.9zM198.64 395.23h0.9v0.9h-0.9zM201.55 402.25h0.9v0.9h-0.9zM210.11 404.57h0.9v0.9h-0.9zM199.09 404.5h0.9v0.9h-0.9zM209.72 400.35h0.9v0.9h-0.9zM203.34 380.1h0.9v0.9h-0.9zM208.43 390.67h0.9v0.9h-0.9zM196.96 401.88h0.9v0.9h-0.9zM207.73 379.5h0.9v0.9h-0.9zM201.55 391.12h0.9v0.9h-0.9zM210.02 392.73h0.9v0.9h-0.9zM209.2 420.69h0.9v0.9h-0.9zM209.3 403.27h0.9v0.9h-0.9zM198.88 384.85h0.9v0.9h-0.9zM204.47 382.88h0.9v0.9h-0.9zM207.02 394.45h0.9v0.9h-0.9zM209.16 379.45h0.9v0.9h-0.9zM206.49 401.76h0.9v0.9h-0.9zM204.13 392.88h0.9v0.9h-0.9zM206.25 398.42h0.9v0.9h-0.9zM210.24 408.5h0.9v0.9h-0.9zM206.2 398.43h0.9v0.9h-0.9zM209.01 389.01h0.9v0.9h-0.9zM203.28 398.62h0.9v0.9h-0.9zM212.25 396.72h0.9v0.9h-0.9zM199 400.29h0.9v0.9h-0.9zM207.21 406.2h0.9v0.9h-0.9zM214.45 380.92h0.9v0.9h-0.9zM203.65 395.8h0.9v0.9h-0.9zM210.63 361.02h0.9v0.9h-0.9zM208.3 419.8h0.9v0.9h-0.9zM202.74 403.93h0.9v0.9h-0.9zM211.97 394.23h0.9v0.9h-0.9zM207.79 401.96h0.9v0.9h-0.9zM214.32 362.01h0.9v0.9h-0.9zM203.03 415.44h0.9v0.9h-0.9zM205.04 410.07h0.9v0.9h-0.9zM212.04 421.37h0.9v0.9h-0.9zM199.57 390.74h0.9v0.9h-0.9zM209.55 376.15h0.9v0.9h-0.9zM198.11 393.95h0.9v0.9h-0.9zM199.79 395.5h0.9v0.9h-0.9zM206.5 400.23h0.9v0.9h-0.9zM206.58 391.1h0.9v0.9h-0.9zM210.59 409.66h0.9v0.9h-0.9zM189.57 389.58h0.9v0.9h-0.9zM209.44 389.48h0.9v0.9h-0.9zM213.46 355.02h0.9v0.9h-0.9zM204.18 391.76h0.9v0.9h-0.9zM198.36 419.22h0.9v0.9h-0.9zM200.29 398.45h0.9v0.9h-0.9zM202.22 397.05h0.9v0.9h-0.9zM198.97 423.7h0.9v0.9h-0.9zM192 399.89h0.9v0.9h-0.9zM200.81 421.49h0.9v0.9h-0.9zM211.05 401.18h0.9v0.9h-0.9zM203.46 407.3h0.9v0.9h-0.9zM207.49 417.35h0.9v0.9h-0.9zM203.66 409.87h0.9v0.9h-0.9zM202.92 408.14h0.9v0.9h-0.9zM206.23 417.6h0.9v0.9h-0.9zM195.44 407.73h0.9v0.9h-0.9zM208.63 409.66h0.9v0.9h-0.9zM214.73 419.64h0.9v0.9h-0.9zM193.18 401.95h0.9v0.9h-0.9zM203.87 407.42h0.9v0.9h-0.9z" fill="none" stroke="#4a4a4a" stroke-width="0.32"/>
<path d="M133.2 366.4H222.6M203 348.2V427.8" stroke="#6aa8e0" stroke-width="0.85" stroke-dasharray="3.7 1.8" fill="none"/>
<path d="M206.9 358.5h1v1h-1zM203.5 363.4h1v1h-1z" fill="none" stroke="#E8483A" stroke-width="0.45"/>
<text x="138" y="355.8" font-size="4.9" font-style="italic" fill="#E5594B">R=0.35,p=1.1x10<tspan font-size="3.0" dy="-1.8">−12</tspan></text>
<text x="178.1" y="435.6" font-size="4.75" text-anchor="middle" fill="#111" stroke="#111" stroke-width="0.12">Module membership in brown module</text>
<text x="122.8" y="390.4" font-size="4.35" text-anchor="middle" fill="#111" transform="rotate(-90 122.8 390.4)" stroke="#111" stroke-width="0.1">Gene significance for OS.time</text>
<rect x="253.5" y="348.2" width="90.1" height="80" fill="none" stroke="#c4c4c4" stroke-width="0.5"/>
<line x1="252.3" y1="349.6" x2="253.5" y2="349.6" stroke="#555" stroke-width="0.35"/>
<text x="252.3" y="350.9" font-size="3.0" text-anchor="end" fill="#444">0.20</text>
<line x1="252.3" y1="368.3" x2="253.5" y2="368.3" stroke="#555" stroke-width="0.35"/>
<text x="252.3" y="369.6" font-size="3.0" text-anchor="end" fill="#444">0.15</text>
<line x1="252.3" y1="387" x2="253.5" y2="387" stroke="#555" stroke-width="0.35"/>
<text x="252.3" y="388.3" font-size="3.0" text-anchor="end" fill="#444">0.10</text>
<line x1="252.3" y1="405.7" x2="253.5" y2="405.7" stroke="#555" stroke-width="0.35"/>
<text x="252.3" y="407" font-size="3.0" text-anchor="end" fill="#444">0.05</text>
<line x1="252.3" y1="424.4" x2="253.5" y2="424.4" stroke="#555" stroke-width="0.35"/>
<text x="252.3" y="425.7" font-size="3.0" text-anchor="end" fill="#444">0.00</text>
<line x1="273.7" y1="428.2" x2="273.7" y2="429.2" stroke="#555" stroke-width="0.35"/>
<text x="273.7" y="432.4" font-size="2.7" text-anchor="middle" fill="#444">0.4</text>
<line x1="298.7" y1="428.2" x2="298.7" y2="429.2" stroke="#555" stroke-width="0.35"/>
<text x="298.7" y="432.4" font-size="2.7" text-anchor="middle" fill="#444">0.6</text>
<line x1="325.5" y1="428.2" x2="325.5" y2="429.2" stroke="#555" stroke-width="0.35"/>
<text x="325.5" y="432.4" font-size="2.7" text-anchor="middle" fill="#444">0.8</text>
<path d="M269.08 414.91h0.9v0.9h-0.9zM265.19 412.08h0.9v0.9h-0.9zM291 393.29h0.9v0.9h-0.9zM286.06 407.24h0.9v0.9h-0.9zM294.95 392.38h0.9v0.9h-0.9zM273.45 400.1h0.9v0.9h-0.9zM260.48 397.15h0.9v0.9h-0.9zM267.28 419.16h0.9v0.9h-0.9zM280.48 412.64h0.9v0.9h-0.9zM277.46 401.31h0.9v0.9h-0.9zM270.8 399.43h0.9v0.9h-0.9zM272.16 401.6h0.9v0.9h-0.9zM289.77 417.25h0.9v0.9h-0.9zM274.2 416.31h0.9v0.9h-0.9zM260.87 412.22h0.9v0.9h-0.9zM288.88 399.74h0.9v0.9h-0.9zM262.66 413.8h0.9v0.9h-0.9zM269.43 406.46h0.9v0.9h-0.9zM269.68 422.54h0.9v0.9h-0.9zM289.66 404.52h0.9v0.9h-0.9zM276.98 402.75h0.9v0.9h-0.9zM272.43 411.47h0.9v0.9h-0.9zM275.19 402.56h0.9v0.9h-0.9zM283.37 395.45h0.9v0.9h-0.9zM277.09 396.83h0.9v0.9h-0.9zM274.7 412.26h0.9v0.9h-0.9zM272.93 408.64h0.9v0.9h-0.9zM282.73 417.82h0.9v0.9h-0.9zM267.92 408.09h0.9v0.9h-0.9zM279.48 422.65h0.9v0.9h-0.9zM277.74 414.65h0.9v0.9h-0.9zM279.21 406.63h0.9v0.9h-0.9zM263.48 404.99h0.9v0.9h-0.9zM283.51 411.02h0.9v0.9h-0.9zM273.16 407.94h0.9v0.9h-0.9zM284.06 407.43h0.9v0.9h-0.9zM278.61 413.62h0.9v0.9h-0.9zM264.3 411.05h0.9v0.9h-0.9zM267.89 421.55h0.9v0.9h-0.9zM286.37 406.35h0.9v0.9h-0.9zM285.71 412.18h0.9v0.9h-0.9zM282.24 401.05h0.9v0.9h-0.9zM282.99 412.38h0.9v0.9h-0.9zM276.17 418.74h0.9v0.9h-0.9zM267.11 423.11h0.9v0.9h-0.9zM273.85 406.58h0.9v0.9h-0.9zM288.15 424.28h0.9v0.9h-0.9zM289.56 397.13h0.9v0.9h-0.9zM282.69 423.34h0.9v0.9h-0.9zM290.57 416.38h0.9v0.9h-0.9zM282 400.2h0.9v0.9h-0.9zM270.14 385.78h0.9v0.9h-0.9zM288.11 400.57h0.9v0.9h-0.9zM266.14 403.3h0.9v0.9h-0.9zM271.87 404.52h0.9v0.9h-0.9zM269.66 410.65h0.9v0.9h-0.9zM289.47 417.66h0.9v0.9h-0.9zM267.23 412.6h0.9v0.9h-0.9zM283.98 406.93h0.9v0.9h-0.9zM261.04 406.7h0.9v0.9h-0.9zM275.89 388.49h0.9v0.9h-0.9zM298.71 396.78h0.9v0.9h-0.9zM277.61 414.78h0.9v0.9h-0.9zM279.06 411.72h0.9v0.9h-0.9zM273.39 406.47h0.9v0.9h-0.9zM263.59 411.61h0.9v0.9h-0.9zM274.05 406.49h0.9v0.9h-0.9zM269.01 384.79h0.9v0.9h-0.9zM271.02 419.28h0.9v0.9h-0.9zM273.96 401.03h0.9v0.9h-0.9zM297.44 381.99h0.9v0.9h-0.9zM276.87 420.66h0.9v0.9h-0.9zM283.86 419.7h0.9v0.9h-0.9zM269.17 378.71h0.9v0.9h-0.9zM282.84 392.21h0.9v0.9h-0.9zM261.43 419.5h0.9v0.9h-0.9zM282.96 415.58h0.9v0.9h-0.9zM304.08 396.27h0.9v0.9h-0.9zM281.05 419.9h0.9v0.9h-0.9zM260.75 417.38h0.9v0.9h-0.9zM266.79 405.23h0.9v0.9h-0.9zM284.11 402.06h0.9v0.9h-0.9zM277.63 393.75h0.9v0.9h-0.9zM288.88 408.06h0.9v0.9h-0.9zM257.05 400.44h0.9v0.9h-0.9zM275.02 412.56h0.9v0.9h-0.9zM281.69 395.35h0.9v0.9h-0.9zM274.52 391.6h0.9v0.9h-0.9zM256.19 391.01h0.9v0.9h-0.9zM281.31 411.65h0.9v0.9h-0.9zM257.72 404.69h0.9v0.9h-0.9zM271.05 412.09h0.9v0.9h-0.9zM278.04 407.02h0.9v0.9h-0.9zM281.24 404.87h0.9v0.9h-0.9zM270.16 396.65h0.9v0.9h-0.9zM275.47 418.44h0.9v0.9h-0.9zM275.36 421.87h0.9v0.9h-0.9zM271.93 421.89h0.9v0.9h-0.9zM273.34 414.51h0.9v0.9h-0.9zM271.48 402.19h0.9v0.9h-0.9zM286.15 406.32h0.9v0.9h-0.9zM273.08 425.42h0.9v0.9h-0.9zM283.94 403.96h0.9v0.9h-0.9zM273.43 400.62h0.9v0.9h-0.9zM284.68 409.24h0.9v0.9h-0.9zM275.58 409.75h0.9v0.9h-0.9zM258.35 405.84h0.9v0.9h-0.9zM271.74 419.62h0.9v0.9h-0.9zM264.97 414.71h0.9v0.9h-0.9zM280.14 421.19h0.9v0.9h-0.9zM273.14 407.52h0.9v0.9h-0.9zM281.37 404.29h0.9v0.9h-0.9zM266.24 410.64h0.9v0.9h-0.9zM268.87 400.51h0.9v0.9h-0.9zM263.83 404.55h0.9v0.9h-0.9zM271.9 394.18h0.9v0.9h-0.9zM298.38 392.48h0.9v0.9h-0.9zM262.56 423.3h0.9v0.9h-0.9zM270.78 423.47h0.9v0.9h-0.9zM271.58 398.43h0.9v0.9h-0.9zM266.51 388.34h0.9v0.9h-0.9zM298.31 387.15h0.9v0.9h-0.9zM289.03 370.88h0.9v0.9h-0.9zM276.46 403.01h0.9v0.9h-0.9zM269.33 389.15h0.9v0.9h-0.9zM280.3 371.71h0.9v0.9h-0.9zM285.39 423.47h0.9v0.9h-0.9zM299.71 390.63h0.9v0.9h-0.9zM298.88 391.06h0.9v0.9h-0.9zM299.48 396.63h0.9v0.9h-0.9zM255.41 424.92h0.9v0.9h-0.9zM288.79 408.8h0.9v0.9h-0.9zM285.37 395.04h0.9v0.9h-0.9zM278.42 390.28h0.9v0.9h-0.9zM282.89 412.42h0.9v0.9h-0.9zM291.16 388.6h0.9v0.9h-0.9zM307.52 395.28h0.9v0.9h-0.9zM276.3 385.78h0.9v0.9h-0.9zM311.97 379.67h0.9v0.9h-0.9zM310.43 382.2h0.9v0.9h-0.9zM297.96 411.71h0.9v0.9h-0.9zM269.61 406.73h0.9v0.9h-0.9zM276.7 401h0.9v0.9h-0.9zM290.92 367.71h0.9v0.9h-0.9zM301.1 395.74h0.9v0.9h-0.9zM301.91 397.62h0.9v0.9h-0.9zM270.37 413.34h0.9v0.9h-0.9zM294.82 395.3h0.9v0.9h-0.9zM284.07 422.38h0.9v0.9h-0.9zM254.75 418.94h0.9v0.9h-0.9zM275.17 402.34h0.9v0.9h-0.9zM272.21 396.56h0.9v0.9h-0.9zM292.16 411.46h0.9v0.9h-0.9zM268.41 389.24h0.9v0.9h-0.9zM288.89 413.21h0.9v0.9h-0.9zM260.12 401.12h0.9v0.9h-0.9zM274.82 386.31h0.9v0.9h-0.9zM286.12 395.01h0.9v0.9h-0.9zM287.37 369.13h0.9v0.9h-0.9zM288.75 407.06h0.9v0.9h-0.9zM281.56 420.2h0.9v0.9h-0.9zM290.55 405.18h0.9v0.9h-0.9zM262.44 356.73h0.9v0.9h-0.9zM274.43 399.95h0.9v0.9h-0.9zM293.52 416.55h0.9v0.9h-0.9zM325.86 401.59h0.9v0.9h-0.9zM340.91 422.88h0.9v0.9h-0.9zM331.07 360.18h0.9v0.9h-0.9zM289.46 364.22h0.9v0.9h-0.9zM307.74 390.12h0.9v0.9h-0.9zM263 359.47h0.9v0.9h-0.9zM295.08 398.74h0.9v0.9h-0.9zM290.01 387.72h0.9v0.9h-0.9zM309.67 404.01h0.9v0.9h-0.9zM316 383.63h0.9v0.9h-0.9zM269.84 416.38h0.9v0.9h-0.9zM258.55 368.56h0.9v0.9h-0.9zM271.46 396.54h0.9v0.9h-0.9zM308.58 360.94h0.9v0.9h-0.9zM299.34 395.14h0.9v0.9h-0.9zM314.17 359.07h0.9v0.9h-0.9zM317.65 373.2h0.9v0.9h-0.9zM288.18 362.71h0.9v0.9h-0.9zM327.56 398.25h0.9v0.9h-0.9zM325.01 390.81h0.9v0.9h-0.9zM264.55 382.64h0.9v0.9h-0.9zM261.82 360.86h0.9v0.9h-0.9zM324.47 353.75h0.9v0.9h-0.9zM288.56 356.76h0.9v0.9h-0.9zM320.86 425.08h0.9v0.9h-0.9zM257.87 379.94h0.9v0.9h-0.9zM339.06 371.81h0.9v0.9h-0.9zM281.74 424.83h0.9v0.9h-0.9zM334.38 381.57h0.9v0.9h-0.9zM312.78 410.92h0.9v0.9h-0.9zM326.3 388.19h0.9v0.9h-0.9zM320.08 400.67h0.9v0.9h-0.9zM332.87 384.67h0.9v0.9h-0.9zM321.57 393.79h0.9v0.9h-0.9zM325.55 385.96h0.9v0.9h-0.9zM339.27 372.04h0.9v0.9h-0.9zM327.2 387.81h0.9v0.9h-0.9zM325.23 393.75h0.9v0.9h-0.9zM328.03 363.5h0.9v0.9h-0.9zM312.74 379.36h0.9v0.9h-0.9zM327.09 395.4h0.9v0.9h-0.9zM321.66 396.33h0.9v0.9h-0.9zM330.88 413.16h0.9v0.9h-0.9zM326.58 377.66h0.9v0.9h-0.9zM327.27 397.24h0.9v0.9h-0.9zM319.63 398.24h0.9v0.9h-0.9zM328.95 358.58h0.9v0.9h-0.9zM330.01 391.41h0.9v0.9h-0.9zM315.78 407.81h0.9v0.9h-0.9zM317.33 392.62h0.9v0.9h-0.9zM329.74 375.83h0.9v0.9h-0.9zM319.11 402.04h0.9v0.9h-0.9zM314.54 358.44h0.9v0.9h-0.9zM324.62 417.01h0.9v0.9h-0.9zM314.5 389.6h0.9v0.9h-0.9zM321.67 375.57h0.9v0.9h-0.9zM328.06 383.67h0.9v0.9h-0.9zM325.22 401.17h0.9v0.9h-0.9zM328.18 380.58h0.9v0.9h-0.9zM327.03 382.48h0.9v0.9h-0.9zM322.61 398.38h0.9v0.9h-0.9zM324.96 373.31h0.9v0.9h-0.9zM331.94 372.6h0.9v0.9h-0.9zM321.13 397.26h0.9v0.9h-0.9zM317.21 403.19h0.9v0.9h-0.9zM325.29 394.7h0.9v0.9h-0.9zM326.71 396.66h0.9v0.9h-0.9zM329.89 370.53h0.9v0.9h-0.9zM326.73 400.07h0.9v0.9h-0.9zM338.6 368.78h0.9v0.9h-0.9zM329.01 415.92h0.9v0.9h-0.9zM320.14 414.47h0.9v0.9h-0.9zM335.53 391.14h0.9v0.9h-0.9zM336.43 377.39h0.9v0.9h-0.9zM323.41 384.49h0.9v0.9h-0.9zM327.72 416.18h0.9v0.9h-0.9zM329.39 381.24h0.9v0.9h-0.9zM321.95 401.3h0.9v0.9h-0.9zM325.18 395.4h0.9v0.9h-0.9zM328.53 383.27h0.9v0.9h-0.9zM322.44 378.48h0.9v0.9h-0.9zM314.61 392.07h0.9v0.9h-0.9zM326.27 366.85h0.9v0.9h-0.9zM337.43 389.81h0.9v0.9h-0.9zM326.61 387.14h0.9v0.9h-0.9zM328.03 406.75h0.9v0.9h-0.9zM331.64 376.62h0.9v0.9h-0.9zM328.52 384.25h0.9v0.9h-0.9zM325.86 409.74h0.9v0.9h-0.9zM327.71 379.34h0.9v0.9h-0.9zM320.71 382.12h0.9v0.9h-0.9zM326.12 375.48h0.9v0.9h-0.9zM322.28 406h0.9v0.9h-0.9zM324.65 376.83h0.9v0.9h-0.9zM325.51 378.42h0.9v0.9h-0.9zM322.68 387.52h0.9v0.9h-0.9zM323.08 397.94h0.9v0.9h-0.9zM330.96 393.02h0.9v0.9h-0.9zM323.37 396.13h0.9v0.9h-0.9zM313.7 386.46h0.9v0.9h-0.9zM329.49 379.41h0.9v0.9h-0.9zM328.26 391.4h0.9v0.9h-0.9zM334.17 374.19h0.9v0.9h-0.9zM325.62 361.41h0.9v0.9h-0.9zM323.56 391.83h0.9v0.9h-0.9zM331.64 394.11h0.9v0.9h-0.9zM326.84 382.52h0.9v0.9h-0.9zM324.27 389.43h0.9v0.9h-0.9zM328.25 402.41h0.9v0.9h-0.9zM318.12 364.34h0.9v0.9h-0.9zM324.68 395.44h0.9v0.9h-0.9zM330.13 390.47h0.9v0.9h-0.9zM326.85 387.68h0.9v0.9h-0.9zM332.12 397.41h0.9v0.9h-0.9zM313.96 394.57h0.9v0.9h-0.9zM318.58 409.89h0.9v0.9h-0.9zM328.16 420.64h0.9v0.9h-0.9zM333.1 407.68h0.9v0.9h-0.9zM322.17 417.8h0.9v0.9h-0.9zM314.66 413.23h0.9v0.9h-0.9zM320.73 414.66h0.9v0.9h-0.9zM335.77 412.61h0.9v0.9h-0.9zM340.66 405.69h0.9v0.9h-0.9zM313.77 418.94h0.9v0.9h-0.9zM322.47 413.79h0.9v0.9h-0.9zM327.85 409.68h0.9v0.9h-0.9zM324.08 399.02h0.9v0.9h-0.9zM322.37 419.81h0.9v0.9h-0.9zM317.08 408.05h0.9v0.9h-0.9zM306.31 416.24h0.9v0.9h-0.9zM301.39 418.38h0.9v0.9h-0.9zM320.93 404.9h0.9v0.9h-0.9zM330.92 402.79h0.9v0.9h-0.9zM317.31 411.59h0.9v0.9h-0.9zM319.08 404.64h0.9v0.9h-0.9z" fill="none" stroke="#4a4a4a" stroke-width="0.32"/>
<path d="M253.5 368.3H343.6M311.8 348.2V428.2" stroke="#6aa8e0" stroke-width="0.85" stroke-dasharray="3.7 1.8" fill="none"/>
<path d="M317.7 359.5h1v1h-1zM321.3 355.5h1v1h-1zM322.2 358.2h1v1h-1zM321.3 365h1v1h-1zM325.5 363.1h1v1h-1zM328.5 365h1v1h-1zM330.8 364h1v1h-1zM333.1 365.9h1v1h-1zM335.9 366.5h1v1h-1zM311.9 351.3h1v1h-1z" fill="none" stroke="#E8483A" stroke-width="0.45"/>
<text x="260" y="355.9" font-size="4.9" font-style="italic" fill="#E5594B">R=0.52,p=2.2x10<tspan font-size="3.0" dy="-1.8">−16</tspan></text>
<text x="298.75" y="436" font-size="4.75" text-anchor="middle" fill="#111" stroke="#111" stroke-width="0.12">Module membership in brown</text>
<text x="245" y="390.6" font-size="4.35" text-anchor="middle" fill="#111" transform="rotate(-90 245 390.6)" stroke="#111" stroke-width="0.1">Gene significance for stage</text>
<rect x="16.8" y="457.8" width="88.5" height="80.6" fill="none" stroke="#c4c4c4" stroke-width="0.5"/>
<line x1="15.6" y1="466.4" x2="16.8" y2="466.4" stroke="#555" stroke-width="0.35"/>
<text x="15.6" y="467.7" font-size="3.0" text-anchor="end" fill="#444">0.15</text>
<line x1="15.6" y1="489" x2="16.8" y2="489" stroke="#555" stroke-width="0.35"/>
<text x="15.6" y="490.3" font-size="3.0" text-anchor="end" fill="#444">0.10</text>
<line x1="15.6" y1="512.6" x2="16.8" y2="512.6" stroke="#555" stroke-width="0.35"/>
<text x="15.6" y="513.9" font-size="3.0" text-anchor="end" fill="#444">0.05</text>
<line x1="15.6" y1="535.3" x2="16.8" y2="535.3" stroke="#555" stroke-width="0.35"/>
<text x="15.6" y="536.6" font-size="3.0" text-anchor="end" fill="#444">0.00</text>
<line x1="32.5" y1="538.4" x2="32.5" y2="539.4" stroke="#555" stroke-width="0.35"/>
<text x="32.5" y="542.6" font-size="2.7" text-anchor="middle" fill="#444">0.4</text>
<line x1="57" y1="538.4" x2="57" y2="539.4" stroke="#555" stroke-width="0.35"/>
<text x="57" y="542.6" font-size="2.7" text-anchor="middle" fill="#444">0.6</text>
<line x1="81.5" y1="538.4" x2="81.5" y2="539.4" stroke="#555" stroke-width="0.35"/>
<text x="81.5" y="542.6" font-size="2.7" text-anchor="middle" fill="#444">0.8</text>
<path d="M74.85 467.95h0.9v0.9h-0.9zM46.45 481.55h0.9v0.9h-0.9zM58.05 482.75h0.9v0.9h-0.9zM38.25 484.75h0.9v0.9h-0.9zM43.45 487.25h0.9v0.9h-0.9zM58.85 485.95h0.9v0.9h-0.9zM76.85 487.65h0.9v0.9h-0.9zM84.25 485.25h0.9v0.9h-0.9zM39.05 487.65h0.9v0.9h-0.9zM52.65 499.55h0.9v0.9h-0.9zM51.45 502.05h0.9v0.9h-0.9zM58.85 500.05h0.9v0.9h-0.9zM66.75 497.05h0.9v0.9h-0.9zM46.45 503.75h0.9v0.9h-0.9zM53.85 505.05h0.9v0.9h-0.9zM74.85 504.55h0.9v0.9h-0.9zM30.35 506.25h0.9v0.9h-0.9zM52.65 508.75h0.9v0.9h-0.9zM62.55 508.75h0.9v0.9h-0.9zM47.65 511.95h0.9v0.9h-0.9zM73.65 512.45h0.9v0.9h-0.9zM53.85 514.45h0.9v0.9h-0.9zM56.35 514.45h0.9v0.9h-0.9zM66.25 512.95h0.9v0.9h-0.9zM21.75 516.15h0.9v0.9h-0.9zM20.55 520.35h0.9v0.9h-0.9zM37.05 520.35h0.9v0.9h-0.9zM50.15 522.35h0.9v0.9h-0.9zM72.45 521.05h0.9v0.9h-0.9zM77.35 518.65h0.9v0.9h-0.9zM62.05 524.25h0.9v0.9h-0.9zM71.15 526.05h0.9v0.9h-0.9zM49.65 527.25h0.9v0.9h-0.9zM42.25 528.55h0.9v0.9h-0.9zM56.35 528.05h0.9v0.9h-0.9zM63.05 529.25h0.9v0.9h-0.9zM72.45 529.25h0.9v0.9h-0.9zM76.85 528.55h0.9v0.9h-0.9zM45.75 530.95h0.9v0.9h-0.9zM33.35 532.95h0.9v0.9h-0.9zM27.95 534.65h0.9v0.9h-0.9zM100.85 507.45h0.9v0.9h-0.9zM98.35 508.75h0.9v0.9h-0.9zM100.85 510.45h0.9v0.9h-0.9zM97.15 511.95h0.9v0.9h-0.9z" fill="none" stroke="#4a4a4a" stroke-width="0.32"/>
<path d="M16.8 512.4H105.3M81 457.8V538.4" stroke="#6aa8e0" stroke-width="0.85" stroke-dasharray="3.7 1.8" fill="none"/>
<path d="M83.5 520.3h1v1h-1zM89.7 525.5h1v1h-1zM96.6 514.1h1v1h-1zM98.3 516.1h1v1h-1z" fill="none" stroke="#E8483A" stroke-width="0.45"/>
<text x="20" y="464.4" font-size="4.9" font-style="italic" fill="#E5594B">R=−0.007,p=9.6x10<tspan font-size="3.0" dy="-1.8">−1</tspan></text>
<text x="61.25" y="546.2" font-size="4.75" text-anchor="middle" fill="#111" stroke="#111" stroke-width="0.12">Module membership in lightcyan module</text>
<text x="7.4" y="500.5" font-size="4.35" text-anchor="middle" fill="#111" transform="rotate(-90 7.4 500.5)" stroke="#111" stroke-width="0.1">Gene significance for OS</text>
<rect x="134.8" y="458.2" width="87.7" height="80.1" fill="none" stroke="#c4c4c4" stroke-width="0.5"/>
<line x1="133.6" y1="468.7" x2="134.8" y2="468.7" stroke="#555" stroke-width="0.35"/>
<text x="133.6" y="470" font-size="3.0" text-anchor="end" fill="#444">0.20</text>
<line x1="133.6" y1="485.1" x2="134.8" y2="485.1" stroke="#555" stroke-width="0.35"/>
<text x="133.6" y="486.4" font-size="3.0" text-anchor="end" fill="#444">0.15</text>
<line x1="133.6" y1="501.5" x2="134.8" y2="501.5" stroke="#555" stroke-width="0.35"/>
<text x="133.6" y="502.8" font-size="3.0" text-anchor="end" fill="#444">0.10</text>
<line x1="133.6" y1="518.2" x2="134.8" y2="518.2" stroke="#555" stroke-width="0.35"/>
<text x="133.6" y="519.5" font-size="3.0" text-anchor="end" fill="#444">0.05</text>
<line x1="133.6" y1="534.5" x2="134.8" y2="534.5" stroke="#555" stroke-width="0.35"/>
<text x="133.6" y="535.8" font-size="3.0" text-anchor="end" fill="#444">0.00</text>
<line x1="148.2" y1="538.3" x2="148.2" y2="539.3" stroke="#555" stroke-width="0.35"/>
<text x="148.2" y="542.5" font-size="2.7" text-anchor="middle" fill="#444">0.4</text>
<line x1="173" y1="538.3" x2="173" y2="539.3" stroke="#555" stroke-width="0.35"/>
<text x="173" y="542.5" font-size="2.7" text-anchor="middle" fill="#444">0.6</text>
<line x1="198" y1="538.3" x2="198" y2="539.3" stroke="#555" stroke-width="0.35"/>
<text x="198" y="542.5" font-size="2.7" text-anchor="middle" fill="#444">0.8</text>
<path d="M172.95 490.65h0.9v0.9h-0.9zM145.65 509.25h0.9v0.9h-0.9zM154.15 511.65h0.9v0.9h-0.9zM154.85 512.65h0.9v0.9h-0.9zM149.25 515.55h0.9v0.9h-0.9zM175.35 514.35h0.9v0.9h-0.9zM183.15 513.55h0.9v0.9h-0.9zM168.55 518.45h0.9v0.9h-0.9zM162.55 522.05h0.9v0.9h-0.9zM169.85 523.25h0.9v0.9h-0.9zM176.55 522.75h0.9v0.9h-0.9zM192.35 522.05h0.9v0.9h-0.9zM193.95 520.85h0.9v0.9h-0.9zM167.35 525.65h0.9v0.9h-0.9zM172.25 525.65h0.9v0.9h-0.9zM138.35 527.55h0.9v0.9h-0.9zM148.05 527.35h0.9v0.9h-0.9zM156.55 528.05h0.9v0.9h-0.9zM160.65 527.35h0.9v0.9h-0.9zM164.55 527.55h0.9v0.9h-0.9zM168.55 527.15h0.9v0.9h-0.9zM181.95 526.35h0.9v0.9h-0.9zM190.35 526.85h0.9v0.9h-0.9zM191.55 528.05h0.9v0.9h-0.9zM193.55 527.35h0.9v0.9h-0.9zM151.65 530.05h0.9v0.9h-0.9zM171.05 529.25h0.9v0.9h-0.9zM180.25 530.55h0.9v0.9h-0.9zM189.15 530.95h0.9v0.9h-0.9zM155.75 533.45h0.9v0.9h-0.9zM164.55 533.45h0.9v0.9h-0.9zM174.65 532.95h0.9v0.9h-0.9zM180.65 534.15h0.9v0.9h-0.9zM195.25 531.75h0.9v0.9h-0.9zM143.25 528.05h0.9v0.9h-0.9z" fill="none" stroke="#4a4a4a" stroke-width="0.32"/>
<path d="M134.8 518.1H222.5M198.1 458.2V538.3" stroke="#6aa8e0" stroke-width="0.85" stroke-dasharray="3.7 1.8" fill="none"/>
<path d="M201.9 519.6h1v1h-1zM200 523.7h1v1h-1zM207.2 527.3h1v1h-1zM214.5 531.7h1v1h-1zM217.6 532.9h1v1h-1zM218.1 532.1h1v1h-1zM216.9 533.4h1v1h-1z" fill="none" stroke="#E8483A" stroke-width="0.45"/>
<text x="139.3" y="464.6" font-size="4.9" font-style="italic" fill="#E5594B">R=−0.32,p=1.7x10<tspan font-size="3.0" dy="-1.8">−2</tspan></text>
<text x="178.85" y="546.1" font-size="4.75" text-anchor="middle" fill="#111" stroke="#111" stroke-width="0.12">Module membership in lightcyan module</text>
<text x="124.4" y="500.65" font-size="4.35" text-anchor="middle" fill="#111" transform="rotate(-90 124.4 500.65)" stroke="#111" stroke-width="0.1">Gene significance for OS.time</text>
<rect x="254.5" y="458.7" width="87.8" height="79.5" fill="none" stroke="#c4c4c4" stroke-width="0.5"/>
<line x1="253.3" y1="471.5" x2="254.5" y2="471.5" stroke="#555" stroke-width="0.35"/>
<text x="253.3" y="472.8" font-size="4.2" text-anchor="end" fill="#444">0.15</text>
<line x1="253.3" y1="492.2" x2="254.5" y2="492.2" stroke="#555" stroke-width="0.35"/>
<text x="253.3" y="493.5" font-size="4.2" text-anchor="end" fill="#444">0.10</text>
<line x1="253.3" y1="513" x2="254.5" y2="513" stroke="#555" stroke-width="0.35"/>
<text x="253.3" y="514.3" font-size="4.2" text-anchor="end" fill="#444">0.05</text>
<line x1="253.3" y1="534" x2="254.5" y2="534" stroke="#555" stroke-width="0.35"/>
<text x="253.3" y="535.3" font-size="4.2" text-anchor="end" fill="#444">0.00</text>
<line x1="268.7" y1="538.2" x2="268.7" y2="539.2" stroke="#555" stroke-width="0.35"/>
<text x="268.7" y="542.4" font-size="3.6" text-anchor="middle" fill="#444">0.4</text>
<line x1="293.3" y1="538.2" x2="293.3" y2="539.2" stroke="#555" stroke-width="0.35"/>
<text x="293.3" y="542.4" font-size="3.6" text-anchor="middle" fill="#444">0.6</text>
<line x1="318" y1="538.2" x2="318" y2="539.2" stroke="#555" stroke-width="0.35"/>
<text x="318" y="542.4" font-size="3.6" text-anchor="middle" fill="#444">0.8</text>
<path d="M296.85 465.95h0.9v0.9h-0.9zM275.35 469.85h0.9v0.9h-0.9zM281.95 470.85h0.9v0.9h-0.9zM312.85 472.85h0.9v0.9h-0.9zM291.85 477.35h0.9v0.9h-0.9zM288.15 480.75h0.9v0.9h-0.9zM314.15 482.25h0.9v0.9h-0.9zM296.85 483.95h0.9v0.9h-0.9zM268.35 486.45h0.9v0.9h-0.9zM312.85 485.25h0.9v0.9h-0.9zM338.85 483.95h0.9v0.9h-0.9zM340.05 485.25h0.9v0.9h-0.9zM338.85 489.65h0.9v0.9h-0.9zM296.85 488.95h0.9v0.9h-0.9zM304.95 491.45h0.9v0.9h-0.9zM315.35 490.15h0.9v0.9h-0.9zM335.15 491.45h0.9v0.9h-0.9zM335.15 493.85h0.9v0.9h-0.9zM314.15 496.35h0.9v0.9h-0.9zM316.65 498.05h0.9v0.9h-0.9zM291.85 496.35h0.9v0.9h-0.9zM270.35 501.25h0.9v0.9h-0.9zM312.45 502.55h0.9v0.9h-0.9zM285.25 506.25h0.9v0.9h-0.9zM290.65 507.45h0.9v0.9h-0.9zM327.75 508.75h0.9v0.9h-0.9zM311.65 511.15h0.9v0.9h-0.9zM296.85 511.95h0.9v0.9h-0.9zM283.25 514.85h0.9v0.9h-0.9zM288.15 514.85h0.9v0.9h-0.9zM291.15 514.85h0.9v0.9h-0.9zM301.75 513.65h0.9v0.9h-0.9zM276.25 517.35h0.9v0.9h-0.9zM291.85 519.35h0.9v0.9h-0.9zM300.55 517.85h0.9v0.9h-0.9zM310.45 519.35h0.9v0.9h-0.9zM283.25 522.35h0.9v0.9h-0.9zM295.05 523.75h0.9v0.9h-0.9zM289.45 524.75h0.9v0.9h-0.9zM258.45 526.05h0.9v0.9h-0.9zM265.95 526.55h0.9v0.9h-0.9zM271.35 527.75h0.9v0.9h-0.9zM285.65 528.95h0.9v0.9h-0.9zM280.25 529.25h0.9v0.9h-0.9zM304.25 528.55h0.9v0.9h-0.9zM259.75 532.95h0.9v0.9h-0.9zM275.85 533.45h0.9v0.9h-0.9zM297.55 524.75h0.9v0.9h-0.9z" fill="none" stroke="#4a4a4a" stroke-width="0.32"/>
<path d="M254.5 483.7H342.3M319.5 458.7V538.2" stroke="#6aa8e0" stroke-width="1.2" stroke-dasharray="4.6 2.4" fill="none"/>
<path d="M322.7 474.8h1v1h-1zM320.8 483.2h1v1h-1z" fill="none" stroke="#E8483A" stroke-width="0.45"/>
<text x="260.3" y="465" font-size="4.9" font-style="italic" fill="#E5594B">R=0.37,p=4.9x10<tspan font-size="3.0" dy="-1.8">−1</tspan></text>
<text x="298.6" y="546" font-size="4.75" text-anchor="middle" fill="#111" stroke="#111" stroke-width="0.12">Module membership in lightcyan module</text>
<text x="245" y="500.85" font-size="4.35" text-anchor="middle" fill="#111" transform="rotate(-90 245 500.85)" stroke="#111" stroke-width="0.1">Gene significance for stage</text>
</g>
</svg>
</body></html>
